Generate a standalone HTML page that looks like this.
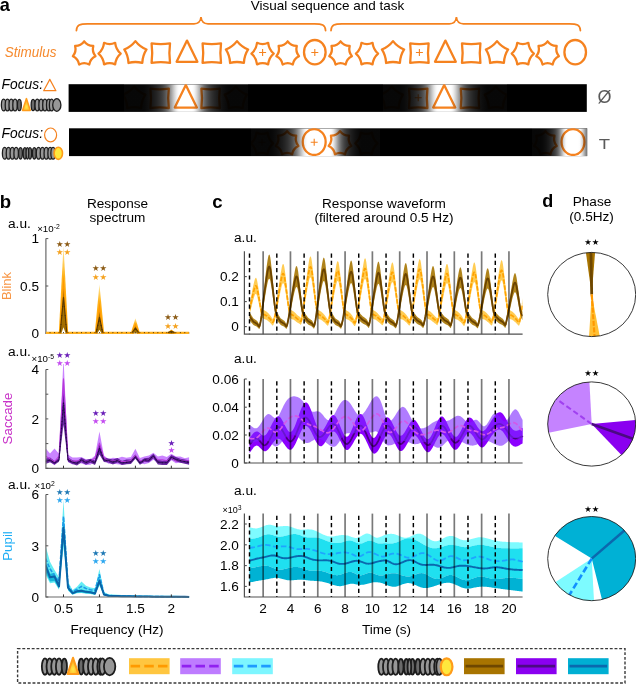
<!DOCTYPE html>
<html><head><meta charset="utf-8"><title>Figure</title>
<style>
html,body{margin:0;padding:0;background:#fff;}
body{width:636px;height:685px;overflow:hidden;font-family:"Liberation Sans",Arial,sans-serif;}
svg{display:block;}
svg text{font-family:"Liberation Sans",Arial,sans-serif;}
</style></head><body>
<svg width="636" height="685" viewBox="0 0 636 685">
<rect width="636" height="685" fill="#fff"/>
<g id="panel-a">
<text x="-0.3" y="10.9" font-size="18.2" fill="#000" font-weight="bold" >a</text>
<text x="327.5" y="10" font-size="13.5" fill="#000" text-anchor="middle" >Visual sequence and task</text>
<path d="M76.4 30.6 C76.7 25.0 79.9 23.8 87.4 23.8 L194 23.8 C198 23.8 200.5 22.3 201 17 C201.5 22.3 204 23.8 208 23.8 L314.6 23.8 C322.1 23.8 325.3 25.0 325.6 30.6" fill="none" stroke="#F5821F" stroke-width="1.7" stroke-linecap="round"/>
<path d="M331 30.6 C331.3 25.0 334.5 23.8 342 23.8 L449.4 23.8 C453.4 23.8 455.9 22.3 456.4 17 C456.9 22.3 459.4 23.8 463.4 23.8 L569.4 23.8 C576.9 23.8 580.1 25.0 580.4 30.6" fill="none" stroke="#F5821F" stroke-width="1.7" stroke-linecap="round"/>
<text x="4.8" y="56.7" font-size="14.6" fill="#F68A2E" font-style="italic" textLength="51.6" lengthAdjust="spacingAndGlyphs">Stimulus</text>
<path d="M84.2 41.32Q87.6 46.08 93.27 45.91Q91.84 51.67 95.51 56.21Q90.33 58.63 89.23 64.47Q84.2 61.73 79.17 64.47Q78.07 58.63 72.89 56.21Q76.56 51.67 75.13 45.91Q80.8 46.08 84.2 41.32Z" fill="none" stroke="#F5821F" stroke-width="2.3" stroke-linejoin="round"/>
<path d="M120.7 53.6Q115.93 57.69 115.15 64.37Q109.6 61.78 104.05 64.37Q103.27 57.69 98.5 53.6Q103.27 49.51 104.05 42.83Q109.6 45.42 115.15 42.83Q115.93 49.51 120.7 53.6Z" fill="none" stroke="#F5821F" stroke-width="2.3" stroke-linejoin="round"/>
<path d="M135.4 41.15Q139.85 46.89 146.53 49.48Q142.6 55.61 142.28 62.95Q135.4 61 128.52 62.95Q128.2 55.61 124.27 49.48Q130.95 46.89 135.4 41.15Z" fill="none" stroke="#F5821F" stroke-width="2.3" stroke-linejoin="round"/>
<path d="M170.02 62.79Q160.8 61.43 151.58 62.79Q152.87 53.1 151.58 43.41Q160.8 44.77 170.02 43.41Q168.73 53.1 170.02 62.79Z" fill="none" stroke="#F5821F" stroke-width="2.3" stroke-linejoin="round"/>
<path d="M187 40.6 L197.4 61.8 L176.6 61.8 Z" fill="none" stroke="#F5821F" stroke-width="2.3" stroke-linejoin="round"/>
<path d="M221.02 62.79Q211.8 61.43 202.58 62.79Q203.87 53.1 202.58 43.41Q211.8 44.77 221.02 43.41Q219.73 53.1 221.02 62.79Z" fill="none" stroke="#F5821F" stroke-width="2.3" stroke-linejoin="round"/>
<path d="M237 41.15Q241.45 46.89 248.13 49.48Q244.2 55.61 243.88 62.95Q237 61 230.12 62.95Q229.8 55.61 225.87 49.48Q232.55 46.89 237 41.15Z" fill="none" stroke="#F5821F" stroke-width="2.3" stroke-linejoin="round"/>
<path d="M273.7 53.6Q268.93 57.69 268.15 64.37Q262.6 61.78 257.05 64.37Q256.27 57.69 251.5 53.6Q256.27 49.51 257.05 42.83Q262.6 45.42 268.15 42.83Q268.93 49.51 273.7 53.6Z" fill="none" stroke="#F5821F" stroke-width="2.3" stroke-linejoin="round"/><path d="M259.1 52.5h7M262.6 49v7" stroke="#F5821F" stroke-width="1.1" fill="none"/>
<path d="M287.7 41.32Q291.1 46.08 296.77 45.91Q295.34 51.67 299.01 56.21Q293.83 58.63 292.73 64.47Q287.7 61.73 282.67 64.47Q281.57 58.63 276.39 56.21Q280.06 51.67 278.63 45.91Q284.3 46.08 287.7 41.32Z" fill="none" stroke="#F5821F" stroke-width="2.3" stroke-linejoin="round"/>
<ellipse cx="314.8" cy="52.2" rx="10.8" ry="12.2" fill="none" stroke="#F5821F" stroke-width="2.3"/><path d="M311.3 52.5h7M314.8 49v7" stroke="#F5821F" stroke-width="1.1" fill="none"/>
<path d="M340.6 41.32Q344 46.08 349.67 45.91Q348.24 51.67 351.91 56.21Q346.73 58.63 345.63 64.47Q340.6 61.73 335.57 64.47Q334.47 58.63 329.29 56.21Q332.96 51.67 331.53 45.91Q337.2 46.08 340.6 41.32Z" fill="none" stroke="#F5821F" stroke-width="2.3" stroke-linejoin="round"/>
<path d="M378.1 53.6Q373.33 57.69 372.55 64.37Q367 61.78 361.45 64.37Q360.67 57.69 355.9 53.6Q360.67 49.51 361.45 42.83Q367 45.42 372.55 42.83Q373.33 49.51 378.1 53.6Z" fill="none" stroke="#F5821F" stroke-width="2.3" stroke-linejoin="round"/>
<path d="M393 41.15Q397.45 46.89 404.13 49.48Q400.2 55.61 399.88 62.95Q393 61 386.12 62.95Q385.8 55.61 381.87 49.48Q388.55 46.89 393 41.15Z" fill="none" stroke="#F5821F" stroke-width="2.3" stroke-linejoin="round"/>
<path d="M428.62 62.79Q419.4 61.43 410.18 62.79Q411.47 53.1 410.18 43.41Q419.4 44.77 428.62 43.41Q427.33 53.1 428.62 62.79Z" fill="none" stroke="#F5821F" stroke-width="2.3" stroke-linejoin="round"/><path d="M415.9 52.5h7M419.4 49v7" stroke="#F5821F" stroke-width="1.1" fill="none"/>
<path d="M445.4 40.6 L455.8 61.8 L435 61.8 Z" fill="none" stroke="#F5821F" stroke-width="2.3" stroke-linejoin="round"/>
<path d="M480.42 62.79Q471.2 61.43 461.98 62.79Q463.27 53.1 461.98 43.41Q471.2 44.77 480.42 43.41Q479.13 53.1 480.42 62.79Z" fill="none" stroke="#F5821F" stroke-width="2.3" stroke-linejoin="round"/>
<path d="M497 41.15Q501.45 46.89 508.13 49.48Q504.2 55.61 503.88 62.95Q497 61 490.12 62.95Q489.8 55.61 485.87 49.48Q492.55 46.89 497 41.15Z" fill="none" stroke="#F5821F" stroke-width="2.3" stroke-linejoin="round"/>
<path d="M533.9 53.6Q529.13 57.69 528.35 64.37Q522.8 61.78 517.25 64.37Q516.47 57.69 511.7 53.6Q516.47 49.51 517.25 42.83Q522.8 45.42 528.35 42.83Q529.13 49.51 533.9 53.6Z" fill="none" stroke="#F5821F" stroke-width="2.3" stroke-linejoin="round"/>
<path d="M547.6 41.32Q551 46.08 556.67 45.91Q555.24 51.67 558.91 56.21Q553.73 58.63 552.63 64.47Q547.6 61.73 542.57 64.47Q541.47 58.63 536.29 56.21Q539.96 51.67 538.53 45.91Q544.2 46.08 547.6 41.32Z" fill="none" stroke="#F5821F" stroke-width="2.3" stroke-linejoin="round"/>
<ellipse cx="575.2" cy="52.2" rx="10.8" ry="12.2" fill="none" stroke="#F5821F" stroke-width="2.3"/>
<defs>
<linearGradient id="g1" gradientUnits="userSpaceOnUse" x1="124" y1="0" x2="248" y2="0"><stop offset="0.0000" stop-color="#000" stop-opacity="0.972"/><stop offset="0.0161" stop-color="#000" stop-opacity="0.972"/><stop offset="0.0323" stop-color="#000" stop-opacity="0.972"/><stop offset="0.0484" stop-color="#000" stop-opacity="0.972"/><stop offset="0.0645" stop-color="#000" stop-opacity="0.972"/><stop offset="0.0806" stop-color="#000" stop-opacity="0.972"/><stop offset="0.0968" stop-color="#000" stop-opacity="0.972"/><stop offset="0.1129" stop-color="#000" stop-opacity="0.972"/><stop offset="0.1290" stop-color="#000" stop-opacity="0.972"/><stop offset="0.1452" stop-color="#000" stop-opacity="0.972"/><stop offset="0.1613" stop-color="#000" stop-opacity="0.967"/><stop offset="0.1774" stop-color="#000" stop-opacity="0.957"/><stop offset="0.1935" stop-color="#000" stop-opacity="0.944"/><stop offset="0.2097" stop-color="#000" stop-opacity="0.929"/><stop offset="0.2258" stop-color="#000" stop-opacity="0.911"/><stop offset="0.2419" stop-color="#000" stop-opacity="0.89"/><stop offset="0.2581" stop-color="#000" stop-opacity="0.866"/><stop offset="0.2742" stop-color="#000" stop-opacity="0.837"/><stop offset="0.2903" stop-color="#000" stop-opacity="0.803"/><stop offset="0.3065" stop-color="#000" stop-opacity="0.761"/><stop offset="0.3226" stop-color="#000" stop-opacity="0.707"/><stop offset="0.3387" stop-color="#000" stop-opacity="0.638"/><stop offset="0.3548" stop-color="#000" stop-opacity="0.55"/><stop offset="0.3710" stop-color="#000" stop-opacity="0.443"/><stop offset="0.3871" stop-color="#000" stop-opacity="0.322"/><stop offset="0.4032" stop-color="#000" stop-opacity="0.2"/><stop offset="0.4194" stop-color="#000" stop-opacity="0.093"/><stop offset="0.4355" stop-color="#000" stop-opacity="0.022"/><stop offset="0.4516" stop-color="#000" stop-opacity="0.0"/><stop offset="0.4677" stop-color="#000" stop-opacity="0.0"/><stop offset="0.4839" stop-color="#000" stop-opacity="0.0"/><stop offset="0.5000" stop-color="#000" stop-opacity="0.0"/><stop offset="0.5161" stop-color="#000" stop-opacity="0.0"/><stop offset="0.5323" stop-color="#000" stop-opacity="0.0"/><stop offset="0.5484" stop-color="#000" stop-opacity="0.0"/><stop offset="0.5645" stop-color="#000" stop-opacity="0.033"/><stop offset="0.5806" stop-color="#000" stop-opacity="0.112"/><stop offset="0.5968" stop-color="#000" stop-opacity="0.224"/><stop offset="0.6129" stop-color="#000" stop-opacity="0.347"/><stop offset="0.6290" stop-color="#000" stop-opacity="0.466"/><stop offset="0.6452" stop-color="#000" stop-opacity="0.57"/><stop offset="0.6613" stop-color="#000" stop-opacity="0.654"/><stop offset="0.6774" stop-color="#000" stop-opacity="0.719"/><stop offset="0.6935" stop-color="#000" stop-opacity="0.77"/><stop offset="0.7097" stop-color="#000" stop-opacity="0.81"/><stop offset="0.7258" stop-color="#000" stop-opacity="0.843"/><stop offset="0.7419" stop-color="#000" stop-opacity="0.871"/><stop offset="0.7581" stop-color="#000" stop-opacity="0.895"/><stop offset="0.7742" stop-color="#000" stop-opacity="0.915"/><stop offset="0.7903" stop-color="#000" stop-opacity="0.933"/><stop offset="0.8065" stop-color="#000" stop-opacity="0.947"/><stop offset="0.8226" stop-color="#000" stop-opacity="0.959"/><stop offset="0.8387" stop-color="#000" stop-opacity="0.969"/><stop offset="0.8548" stop-color="#000" stop-opacity="0.972"/><stop offset="0.8710" stop-color="#000" stop-opacity="0.972"/><stop offset="0.8871" stop-color="#000" stop-opacity="0.972"/><stop offset="0.9032" stop-color="#000" stop-opacity="0.972"/><stop offset="0.9194" stop-color="#000" stop-opacity="0.972"/><stop offset="0.9355" stop-color="#000" stop-opacity="0.972"/><stop offset="0.9516" stop-color="#000" stop-opacity="0.972"/><stop offset="0.9677" stop-color="#000" stop-opacity="0.972"/><stop offset="0.9839" stop-color="#000" stop-opacity="0.972"/><stop offset="1.0000" stop-color="#000" stop-opacity="0.972"/><stop offset="1.0000" stop-color="#000" stop-opacity="0.972"/></linearGradient>
<linearGradient id="g2" gradientUnits="userSpaceOnUse" x1="383" y1="0" x2="507" y2="0"><stop offset="0.0000" stop-color="#000" stop-opacity="0.972"/><stop offset="0.0161" stop-color="#000" stop-opacity="0.972"/><stop offset="0.0323" stop-color="#000" stop-opacity="0.972"/><stop offset="0.0484" stop-color="#000" stop-opacity="0.972"/><stop offset="0.0645" stop-color="#000" stop-opacity="0.972"/><stop offset="0.0806" stop-color="#000" stop-opacity="0.972"/><stop offset="0.0968" stop-color="#000" stop-opacity="0.972"/><stop offset="0.1129" stop-color="#000" stop-opacity="0.972"/><stop offset="0.1290" stop-color="#000" stop-opacity="0.972"/><stop offset="0.1452" stop-color="#000" stop-opacity="0.972"/><stop offset="0.1613" stop-color="#000" stop-opacity="0.964"/><stop offset="0.1774" stop-color="#000" stop-opacity="0.954"/><stop offset="0.1935" stop-color="#000" stop-opacity="0.94"/><stop offset="0.2097" stop-color="#000" stop-opacity="0.924"/><stop offset="0.2258" stop-color="#000" stop-opacity="0.905"/><stop offset="0.2419" stop-color="#000" stop-opacity="0.883"/><stop offset="0.2581" stop-color="#000" stop-opacity="0.858"/><stop offset="0.2742" stop-color="#000" stop-opacity="0.828"/><stop offset="0.2903" stop-color="#000" stop-opacity="0.791"/><stop offset="0.3065" stop-color="#000" stop-opacity="0.746"/><stop offset="0.3226" stop-color="#000" stop-opacity="0.688"/><stop offset="0.3387" stop-color="#000" stop-opacity="0.614"/><stop offset="0.3548" stop-color="#000" stop-opacity="0.52"/><stop offset="0.3710" stop-color="#000" stop-opacity="0.408"/><stop offset="0.3871" stop-color="#000" stop-opacity="0.285"/><stop offset="0.4032" stop-color="#000" stop-opacity="0.165"/><stop offset="0.4194" stop-color="#000" stop-opacity="0.067"/><stop offset="0.4355" stop-color="#000" stop-opacity="0.01"/><stop offset="0.4516" stop-color="#000" stop-opacity="0.0"/><stop offset="0.4677" stop-color="#000" stop-opacity="0.0"/><stop offset="0.4839" stop-color="#000" stop-opacity="0.0"/><stop offset="0.5000" stop-color="#000" stop-opacity="0.0"/><stop offset="0.5161" stop-color="#000" stop-opacity="0.0"/><stop offset="0.5323" stop-color="#000" stop-opacity="0.0"/><stop offset="0.5484" stop-color="#000" stop-opacity="0.004"/><stop offset="0.5645" stop-color="#000" stop-opacity="0.052"/><stop offset="0.5806" stop-color="#000" stop-opacity="0.143"/><stop offset="0.5968" stop-color="#000" stop-opacity="0.26"/><stop offset="0.6129" stop-color="#000" stop-opacity="0.384"/><stop offset="0.6290" stop-color="#000" stop-opacity="0.499"/><stop offset="0.6452" stop-color="#000" stop-opacity="0.597"/><stop offset="0.6613" stop-color="#000" stop-opacity="0.675"/><stop offset="0.6774" stop-color="#000" stop-opacity="0.736"/><stop offset="0.6935" stop-color="#000" stop-opacity="0.783"/><stop offset="0.7097" stop-color="#000" stop-opacity="0.821"/><stop offset="0.7258" stop-color="#000" stop-opacity="0.852"/><stop offset="0.7419" stop-color="#000" stop-opacity="0.879"/><stop offset="0.7581" stop-color="#000" stop-opacity="0.901"/><stop offset="0.7742" stop-color="#000" stop-opacity="0.921"/><stop offset="0.7903" stop-color="#000" stop-opacity="0.937"/><stop offset="0.8065" stop-color="#000" stop-opacity="0.951"/><stop offset="0.8226" stop-color="#000" stop-opacity="0.962"/><stop offset="0.8387" stop-color="#000" stop-opacity="0.972"/><stop offset="0.8548" stop-color="#000" stop-opacity="0.972"/><stop offset="0.8710" stop-color="#000" stop-opacity="0.972"/><stop offset="0.8871" stop-color="#000" stop-opacity="0.972"/><stop offset="0.9032" stop-color="#000" stop-opacity="0.972"/><stop offset="0.9194" stop-color="#000" stop-opacity="0.972"/><stop offset="0.9355" stop-color="#000" stop-opacity="0.972"/><stop offset="0.9516" stop-color="#000" stop-opacity="0.972"/><stop offset="0.9677" stop-color="#000" stop-opacity="0.972"/><stop offset="0.9839" stop-color="#000" stop-opacity="0.972"/><stop offset="1.0000" stop-color="#000" stop-opacity="0.972"/><stop offset="1.0000" stop-color="#000" stop-opacity="0.972"/></linearGradient>
<linearGradient id="g3" gradientUnits="userSpaceOnUse" x1="251" y1="0" x2="380" y2="0"><stop offset="0.0000" stop-color="#000" stop-opacity="0.972"/><stop offset="0.0155" stop-color="#000" stop-opacity="0.972"/><stop offset="0.0310" stop-color="#000" stop-opacity="0.972"/><stop offset="0.0465" stop-color="#000" stop-opacity="0.972"/><stop offset="0.0620" stop-color="#000" stop-opacity="0.972"/><stop offset="0.0775" stop-color="#000" stop-opacity="0.972"/><stop offset="0.0930" stop-color="#000" stop-opacity="0.972"/><stop offset="0.1085" stop-color="#000" stop-opacity="0.972"/><stop offset="0.1240" stop-color="#000" stop-opacity="0.972"/><stop offset="0.1395" stop-color="#000" stop-opacity="0.972"/><stop offset="0.1550" stop-color="#000" stop-opacity="0.972"/><stop offset="0.1705" stop-color="#000" stop-opacity="0.962"/><stop offset="0.1860" stop-color="#000" stop-opacity="0.951"/><stop offset="0.2016" stop-color="#000" stop-opacity="0.937"/><stop offset="0.2171" stop-color="#000" stop-opacity="0.921"/><stop offset="0.2326" stop-color="#000" stop-opacity="0.901"/><stop offset="0.2481" stop-color="#000" stop-opacity="0.879"/><stop offset="0.2636" stop-color="#000" stop-opacity="0.852"/><stop offset="0.2791" stop-color="#000" stop-opacity="0.821"/><stop offset="0.2946" stop-color="#000" stop-opacity="0.783"/><stop offset="0.3101" stop-color="#000" stop-opacity="0.736"/><stop offset="0.3256" stop-color="#000" stop-opacity="0.675"/><stop offset="0.3411" stop-color="#000" stop-opacity="0.597"/><stop offset="0.3566" stop-color="#000" stop-opacity="0.499"/><stop offset="0.3721" stop-color="#000" stop-opacity="0.384"/><stop offset="0.3876" stop-color="#000" stop-opacity="0.26"/><stop offset="0.4031" stop-color="#000" stop-opacity="0.143"/><stop offset="0.4186" stop-color="#000" stop-opacity="0.052"/><stop offset="0.4341" stop-color="#000" stop-opacity="0.004"/><stop offset="0.4496" stop-color="#000" stop-opacity="0.0"/><stop offset="0.4651" stop-color="#000" stop-opacity="0.0"/><stop offset="0.4806" stop-color="#000" stop-opacity="0.0"/><stop offset="0.4961" stop-color="#000" stop-opacity="0.0"/><stop offset="0.5116" stop-color="#000" stop-opacity="0.0"/><stop offset="0.5271" stop-color="#000" stop-opacity="0.0"/><stop offset="0.5426" stop-color="#000" stop-opacity="0.0"/><stop offset="0.5581" stop-color="#000" stop-opacity="0.0"/><stop offset="0.5736" stop-color="#000" stop-opacity="0.0"/><stop offset="0.5891" stop-color="#000" stop-opacity="0.0"/><stop offset="0.6047" stop-color="#000" stop-opacity="0.0"/><stop offset="0.6202" stop-color="#000" stop-opacity="0.005"/><stop offset="0.6357" stop-color="#000" stop-opacity="0.069"/><stop offset="0.6512" stop-color="#000" stop-opacity="0.19"/><stop offset="0.6667" stop-color="#000" stop-opacity="0.337"/><stop offset="0.6822" stop-color="#000" stop-opacity="0.479"/><stop offset="0.6977" stop-color="#000" stop-opacity="0.599"/><stop offset="0.7132" stop-color="#000" stop-opacity="0.69"/><stop offset="0.7287" stop-color="#000" stop-opacity="0.757"/><stop offset="0.7442" stop-color="#000" stop-opacity="0.807"/><stop offset="0.7597" stop-color="#000" stop-opacity="0.847"/><stop offset="0.7752" stop-color="#000" stop-opacity="0.879"/><stop offset="0.7907" stop-color="#000" stop-opacity="0.906"/><stop offset="0.8062" stop-color="#000" stop-opacity="0.928"/><stop offset="0.8217" stop-color="#000" stop-opacity="0.946"/><stop offset="0.8372" stop-color="#000" stop-opacity="0.961"/><stop offset="0.8527" stop-color="#000" stop-opacity="0.972"/><stop offset="0.8682" stop-color="#000" stop-opacity="0.972"/><stop offset="0.8837" stop-color="#000" stop-opacity="0.972"/><stop offset="0.8992" stop-color="#000" stop-opacity="0.972"/><stop offset="0.9147" stop-color="#000" stop-opacity="0.972"/><stop offset="0.9302" stop-color="#000" stop-opacity="0.972"/><stop offset="0.9457" stop-color="#000" stop-opacity="0.972"/><stop offset="0.9612" stop-color="#000" stop-opacity="0.972"/><stop offset="0.9767" stop-color="#000" stop-opacity="0.972"/><stop offset="0.9922" stop-color="#000" stop-opacity="0.972"/><stop offset="1.0000" stop-color="#000" stop-opacity="0.972"/></linearGradient>
<linearGradient id="g4" gradientUnits="userSpaceOnUse" x1="532" y1="0" x2="587" y2="0"><stop offset="0.0000" stop-color="#000" stop-opacity="0.972"/><stop offset="0.0364" stop-color="#000" stop-opacity="0.972"/><stop offset="0.0727" stop-color="#000" stop-opacity="0.972"/><stop offset="0.1091" stop-color="#000" stop-opacity="0.972"/><stop offset="0.1455" stop-color="#000" stop-opacity="0.972"/><stop offset="0.1818" stop-color="#000" stop-opacity="0.969"/><stop offset="0.2182" stop-color="#000" stop-opacity="0.954"/><stop offset="0.2545" stop-color="#000" stop-opacity="0.935"/><stop offset="0.2909" stop-color="#000" stop-opacity="0.909"/><stop offset="0.3273" stop-color="#000" stop-opacity="0.877"/><stop offset="0.3636" stop-color="#000" stop-opacity="0.836"/><stop offset="0.4000" stop-color="#000" stop-opacity="0.784"/><stop offset="0.4364" stop-color="#000" stop-opacity="0.712"/><stop offset="0.4727" stop-color="#000" stop-opacity="0.608"/><stop offset="0.5091" stop-color="#000" stop-opacity="0.463"/><stop offset="0.5455" stop-color="#000" stop-opacity="0.288"/><stop offset="0.5818" stop-color="#000" stop-opacity="0.12"/><stop offset="0.6182" stop-color="#000" stop-opacity="0.014"/><stop offset="0.6545" stop-color="#000" stop-opacity="0.0"/><stop offset="0.6909" stop-color="#000" stop-opacity="0.0"/><stop offset="0.7273" stop-color="#000" stop-opacity="0.0"/><stop offset="0.7636" stop-color="#000" stop-opacity="0.0"/><stop offset="0.8000" stop-color="#000" stop-opacity="0.0"/><stop offset="0.8364" stop-color="#000" stop-opacity="0.0"/><stop offset="0.8727" stop-color="#000" stop-opacity="0.014"/><stop offset="0.9091" stop-color="#000" stop-opacity="0.12"/><stop offset="0.9455" stop-color="#000" stop-opacity="0.288"/><stop offset="0.9818" stop-color="#000" stop-opacity="0.463"/><stop offset="1.0000" stop-color="#000" stop-opacity="0.463"/></linearGradient>
<clipPath id="bar1"><rect x="68.6" y="84.2" width="518.2" height="27.7"/></clipPath>
<clipPath id="bar2"><rect x="69" y="128.3" width="517.8" height="27.8"/></clipPath>
<radialGradient id="ygrad" cx="0.5" cy="0.7" r="0.6"><stop offset="0" stop-color="#FFE94A"/><stop offset="1" stop-color="#FFA319"/></radialGradient>
</defs>
<defs>
<clipPath id="cg1"><rect x="124" y="80" width="124" height="80"/></clipPath>
<clipPath id="cg2"><rect x="383" y="80" width="124" height="80"/></clipPath>
<clipPath id="cg3"><rect x="251" y="80" width="129" height="80"/></clipPath>
<clipPath id="cg4"><rect x="532" y="80" width="55" height="80"/></clipPath>
</defs>
<rect x="68.6" y="84.2" width="518.2" height="27.7" fill="#000"/>
<g clip-path="url(#bar1)">
<rect x="124" y="84.2" width="124" height="27.7" fill="#fff"/>
<g clip-path="url(#cg1)"><path d="M134.2 86.35Q138.65 92.09 145.33 94.68Q141.4 100.81 141.08 108.15Q134.2 106.2 127.32 108.15Q127 100.81 123.07 94.68Q129.75 92.09 134.2 86.35Z" fill="none" stroke="#F5821F" stroke-width="2.3" stroke-linejoin="round"/></g>
<g clip-path="url(#cg1)"><path d="M168.82 107.99Q159.6 106.63 150.38 107.99Q151.67 98.3 150.38 88.61Q159.6 89.97 168.82 88.61Q167.53 98.3 168.82 107.99Z" fill="none" stroke="#F5821F" stroke-width="2.3" stroke-linejoin="round"/></g>
<g clip-path="url(#cg1)"><path d="M185.8 85.1 L196.82 107.58 L174.78 107.58 Z" fill="none" stroke="#F5821F" stroke-width="2.3" stroke-linejoin="round"/></g>
<g clip-path="url(#cg1)"><path d="M219.82 107.99Q210.6 106.63 201.38 107.99Q202.67 98.3 201.38 88.61Q210.6 89.97 219.82 88.61Q218.53 98.3 219.82 107.99Z" fill="none" stroke="#F5821F" stroke-width="2.3" stroke-linejoin="round"/></g>
<g clip-path="url(#cg1)"><path d="M235.8 86.35Q240.25 92.09 246.93 94.68Q243 100.81 242.68 108.15Q235.8 106.2 228.92 108.15Q228.6 100.81 224.67 94.68Q231.35 92.09 235.8 86.35Z" fill="none" stroke="#F5821F" stroke-width="2.3" stroke-linejoin="round"/></g>
<rect x="124" y="84.2" width="124" height="27.7" fill="url(#g1)"/>
<rect x="383" y="84.2" width="124" height="27.7" fill="#fff"/>
<g clip-path="url(#cg2)"><path d="M391.8 86.35Q396.25 92.09 402.93 94.68Q399 100.81 398.68 108.15Q391.8 106.2 384.92 108.15Q384.6 100.81 380.67 94.68Q387.35 92.09 391.8 86.35Z" fill="none" stroke="#F5821F" stroke-width="2.3" stroke-linejoin="round"/></g>
<g clip-path="url(#cg2)"><path d="M427.42 107.99Q418.2 106.63 408.98 107.99Q410.27 98.3 408.98 88.61Q418.2 89.97 427.42 88.61Q426.13 98.3 427.42 107.99Z" fill="none" stroke="#F5821F" stroke-width="2.3" stroke-linejoin="round"/><path d="M414.7 97.7h7M418.2 94.2v7" stroke="#F5821F" stroke-width="1.1" fill="none"/></g>
<g clip-path="url(#cg2)"><path d="M444.2 85.1 L455.22 107.58 L433.18 107.58 Z" fill="none" stroke="#F5821F" stroke-width="2.3" stroke-linejoin="round"/></g>
<g clip-path="url(#cg2)"><path d="M479.22 107.99Q470 106.63 460.78 107.99Q462.07 98.3 460.78 88.61Q470 89.97 479.22 88.61Q477.93 98.3 479.22 107.99Z" fill="none" stroke="#F5821F" stroke-width="2.3" stroke-linejoin="round"/></g>
<g clip-path="url(#cg2)"><path d="M495.8 86.35Q500.25 92.09 506.93 94.68Q503 100.81 502.68 108.15Q495.8 106.2 488.92 108.15Q488.6 100.81 484.67 94.68Q491.35 92.09 495.8 86.35Z" fill="none" stroke="#F5821F" stroke-width="2.3" stroke-linejoin="round"/></g>
<rect x="383" y="84.2" width="124" height="27.7" fill="url(#g2)"/>
</g>
<rect x="69" y="128.3" width="518.2" height="27.8" fill="#000"/>
<g clip-path="url(#bar2)">
<rect x="251" y="128.3" width="129" height="27.8" fill="#fff"/>
<g clip-path="url(#cg3)"><path d="M273.1 143.4Q268.33 147.49 267.55 154.17Q262 151.58 256.45 154.17Q255.67 147.49 250.9 143.4Q255.67 139.31 256.45 132.63Q262 135.22 267.55 132.63Q268.33 139.31 273.1 143.4Z" fill="none" stroke="#F5821F" stroke-width="2.3" stroke-linejoin="round"/><path d="M258.5 142.3h7M262 138.8v7" stroke="#F5821F" stroke-width="1.1" fill="none"/></g>
<g clip-path="url(#cg3)"><path d="M287.1 131.12Q290.5 135.88 296.17 135.71Q294.74 141.47 298.41 146.01Q293.23 148.43 292.13 154.27Q287.1 151.53 282.07 154.27Q280.97 148.43 275.79 146.01Q279.46 141.47 278.03 135.71Q283.7 135.88 287.1 131.12Z" fill="none" stroke="#F5821F" stroke-width="2.3" stroke-linejoin="round"/></g>
<g clip-path="url(#cg3)"><ellipse cx="314.2" cy="142" rx="11.45" ry="12.93" fill="none" stroke="#F5821F" stroke-width="2.3"/><path d="M310.7 142.3h7M314.2 138.8v7" stroke="#F5821F" stroke-width="1.1" fill="none"/></g>
<g clip-path="url(#cg3)"><path d="M340 131.12Q343.4 135.88 349.07 135.71Q347.64 141.47 351.31 146.01Q346.13 148.43 345.03 154.27Q340 151.53 334.97 154.27Q333.87 148.43 328.69 146.01Q332.36 141.47 330.93 135.71Q336.6 135.88 340 131.12Z" fill="none" stroke="#F5821F" stroke-width="2.3" stroke-linejoin="round"/></g>
<g clip-path="url(#cg3)"><path d="M377.5 143.4Q372.73 147.49 371.95 154.17Q366.4 151.58 360.85 154.17Q360.07 147.49 355.3 143.4Q360.07 139.31 360.85 132.63Q366.4 135.22 371.95 132.63Q372.73 139.31 377.5 143.4Z" fill="none" stroke="#F5821F" stroke-width="2.3" stroke-linejoin="round"/></g>
<rect x="251" y="128.3" width="129" height="27.8" fill="url(#g3)"/>
<rect x="532" y="128.3" width="55" height="27.8" fill="#fff"/>
<g clip-path="url(#cg4)"><path d="M531.7 143.4Q526.93 147.49 526.15 154.17Q520.6 151.58 515.05 154.17Q514.27 147.49 509.5 143.4Q514.27 139.31 515.05 132.63Q520.6 135.22 526.15 132.63Q526.93 139.31 531.7 143.4Z" fill="none" stroke="#F5821F" stroke-width="2.3" stroke-linejoin="round"/></g>
<g clip-path="url(#cg4)"><path d="M545.4 131.12Q548.8 135.88 554.47 135.71Q553.04 141.47 556.71 146.01Q551.53 148.43 550.43 154.27Q545.4 151.53 540.37 154.27Q539.27 148.43 534.09 146.01Q537.76 141.47 536.33 135.71Q542 135.88 545.4 131.12Z" fill="none" stroke="#F5821F" stroke-width="2.3" stroke-linejoin="round"/></g>
<g clip-path="url(#cg4)"><ellipse cx="573" cy="142" rx="11.45" ry="12.93" fill="none" stroke="#F5821F" stroke-width="2.3"/></g>
<rect x="532" y="128.3" width="55" height="27.8" fill="url(#g4)"/>
</g>
<text x="1.6" y="89.2" font-size="13.8" fill="#000" font-style="italic" >Focus:</text>
<path d="M49.8 79.4 L55.9 90.7 L43.7 90.7 Z" fill="none" stroke="#F5821F" stroke-width="1.2" stroke-linejoin="round"/>
<text x="1.6" y="138.4" font-size="13.8" fill="#000" font-style="italic" >Focus:</text>
<ellipse cx="50.6" cy="134.9" rx="6" ry="6.9" fill="none" stroke="#F5821F" stroke-width="1.2"/>
<g><ellipse cx="3.62" cy="105" rx="2.25" ry="5.9" fill="#979797" stroke="#1c1c1c" stroke-width="1.3"/><ellipse cx="7.43" cy="105" rx="2.25" ry="5.9" fill="#979797" stroke="#1c1c1c" stroke-width="1.3"/><ellipse cx="11.24" cy="105" rx="2.25" ry="5.9" fill="#979797" stroke="#1c1c1c" stroke-width="1.3"/><ellipse cx="15.05" cy="105" rx="2.25" ry="5.9" fill="#979797" stroke="#1c1c1c" stroke-width="1.3"/><ellipse cx="19.35" cy="105" rx="1.9" ry="5.7" fill="#6a6a6a" stroke="#1c1c1c" stroke-width="1.3"/><ellipse cx="33.08" cy="105" rx="1.9" ry="5.7" fill="#6a6a6a" stroke="#1c1c1c" stroke-width="1.3"/><ellipse cx="37.26" cy="105" rx="2.25" ry="5.9" fill="#979797" stroke="#1c1c1c" stroke-width="1.3"/><ellipse cx="41.13" cy="105" rx="2.25" ry="5.9" fill="#979797" stroke="#1c1c1c" stroke-width="1.3"/><ellipse cx="44.94" cy="105" rx="2.25" ry="5.9" fill="#979797" stroke="#1c1c1c" stroke-width="1.3"/><ellipse cx="48.75" cy="105" rx="2.25" ry="5.9" fill="#979797" stroke="#1c1c1c" stroke-width="1.3"/><ellipse cx="51.6" cy="105" rx="2.25" ry="5.9" fill="#979797" stroke="#1c1c1c" stroke-width="1.3"/><ellipse cx="56.8" cy="105" rx="4.1" ry="6.3" fill="#979797" stroke="#1c1c1c" stroke-width="1.3"/><path d="M26.43 98.6 L30.33 110.4 L22.53 110.4 Z" fill="url(#ygrad)" stroke="#FF9C1A" stroke-width="1.5" stroke-linejoin="round"/></g>
<g><ellipse cx="4.64" cy="153.3" rx="2.25" ry="5.9" fill="#979797" stroke="#1c1c1c" stroke-width="1.3"/><ellipse cx="8.48" cy="153.3" rx="2.25" ry="5.9" fill="#979797" stroke="#1c1c1c" stroke-width="1.3"/><ellipse cx="12.33" cy="153.3" rx="2.25" ry="5.9" fill="#979797" stroke="#1c1c1c" stroke-width="1.3"/><ellipse cx="16.17" cy="153.3" rx="2.25" ry="5.9" fill="#979797" stroke="#1c1c1c" stroke-width="1.3"/><ellipse cx="20.5" cy="153.3" rx="1.9" ry="5.7" fill="#6a6a6a" stroke="#1c1c1c" stroke-width="1.3"/><ellipse cx="24.89" cy="153.3" rx="1.7" ry="5.7" fill="#6a6a6a" stroke="#1c1c1c" stroke-width="1.3"/><ellipse cx="29.96" cy="153.3" rx="1.7" ry="5.7" fill="#6a6a6a" stroke="#1c1c1c" stroke-width="1.3"/><ellipse cx="27.39" cy="153.3" rx="1.3" ry="5.7" fill="#8a8a8a" stroke="#1c1c1c" stroke-width="1.3"/><ellipse cx="34.35" cy="153.3" rx="1.9" ry="5.7" fill="#6a6a6a" stroke="#1c1c1c" stroke-width="1.3"/><ellipse cx="38.56" cy="153.3" rx="2.25" ry="5.9" fill="#979797" stroke="#1c1c1c" stroke-width="1.3"/><ellipse cx="42.46" cy="153.3" rx="2.25" ry="5.9" fill="#979797" stroke="#1c1c1c" stroke-width="1.3"/><ellipse cx="46.3" cy="153.3" rx="2.25" ry="5.9" fill="#979797" stroke="#1c1c1c" stroke-width="1.3"/><ellipse cx="50.15" cy="153.3" rx="2.25" ry="5.9" fill="#979797" stroke="#1c1c1c" stroke-width="1.3"/><ellipse cx="53.1" cy="153.3" rx="2.25" ry="5.9" fill="#979797" stroke="#1c1c1c" stroke-width="1.3"/><ellipse cx="58.3" cy="153.3" rx="4.2" ry="6.1" fill="#FFE83D" stroke="#FF9C1A" stroke-width="1.6"/></g>
<text x="604.5" y="102.9" font-size="18" fill="#5a5a5a" text-anchor="middle" >&#216;</text>
<text transform="translate(604.5 149.2) scale(1.32 1)" font-size="14" text-anchor="middle" fill="#5a5a5a">T</text>
</g>
<g id="panel-b">
<text x="-0.3" y="208" font-size="18.6" fill="#000" font-weight="bold" >b</text>
<text x="117.5" y="208.3" font-size="13.6" fill="#000" text-anchor="middle" >Response</text>
<text x="117.5" y="222.3" font-size="13.6" fill="#000" text-anchor="middle" >spectrum</text>
<defs><linearGradient id="bl1" x1="0" y1="0" x2="0" y2="1"><stop offset="0" stop-color="#FFD24D" stop-opacity="0.55"/><stop offset="0.35" stop-color="#FFB21A"/><stop offset="1" stop-color="#FFA600"/></linearGradient><clipPath id="clipB1"><rect x="45.9" y="236" width="143.29999999999998" height="98.59999999999998"/></clipPath></defs>
<path d="M45.9 238.6 V333.4 H189.2" fill="none" stroke="#6a6a6a" stroke-width="1.2"/><path d="M45.9 238.6h2.4" stroke="#555" stroke-width="1"/><path d="M45.9 286h2.4" stroke="#555" stroke-width="1"/><path d="M45.9 333.4h2.4" stroke="#555" stroke-width="1"/><path d="M63.5 333.4v-2.6" stroke="#333" stroke-width="1"/><path d="M99.45 333.4v-2.6" stroke="#333" stroke-width="1"/><path d="M135.4 333.4v-2.6" stroke="#333" stroke-width="1"/><path d="M171.35 333.4v-2.6" stroke="#333" stroke-width="1"/><text x="39" y="243.4" font-size="13.6" fill="#000" text-anchor="end" >1</text><text x="39" y="290.8" font-size="13.6" fill="#000" text-anchor="end" >0.5</text><text x="39" y="338.2" font-size="13.6" fill="#000" text-anchor="end" >0</text>
<g clip-path="url(#clipB1)">
<path d="M45.9 332.8H189.2" stroke="#FFB01F" stroke-width="2.2" fill="none"/>
<path d="M58.8 333.4L63.5 245.61L68.2 333.4Z" fill="url(#bl1)" fill-opacity="1"/>
<path d="M59.5 333.4L63.5 274.87L67.5 333.4Z" fill="#FF9800" fill-opacity="0.95"/>
<path d="M60.6 333.4L63.5 289.03L66.4 333.4Z" fill="#9A6A00" fill-opacity="0.9"/>
<path d="M60.2 332.6L63.5 297.53L66.8 332.6" fill="none" stroke="#5E3C00" stroke-width="1.2" stroke-linejoin="round"/>
<path d="M61.3 333.4L63.5 327.17L65.7 333.4Z" fill="#fff" fill-opacity="1"/>
<path d="M94.75 333.4L99.45 284.31L104.15 333.4Z" fill="url(#bl1)" fill-opacity="1"/>
<path d="M95.45 333.4L99.45 301.3L103.45 333.4Z" fill="#FF9800" fill-opacity="0.95"/>
<path d="M96.55 333.4L99.45 311.69L102.35 333.4Z" fill="#9A6A00" fill-opacity="0.9"/>
<path d="M96.15 332.6L99.45 317.35L102.75 332.6" fill="none" stroke="#5E3C00" stroke-width="1.2" stroke-linejoin="round"/>
<path d="M97.25 333.4L99.45 329.77L101.65 333.4Z" fill="#fff" fill-opacity="1"/>
<path d="M130.7 333.4L135.4 318.3L140.1 333.4Z" fill="url(#bl1)" fill-opacity="1"/>
<path d="M131.4 333.4L135.4 323.49L139.4 333.4Z" fill="#FF9800" fill-opacity="0.95"/>
<path d="M132.5 333.4L135.4 326.32L138.3 333.4Z" fill="#9A6A00" fill-opacity="0.9"/>
<path d="M132.1 332.6L135.4 328.21L138.7 332.6" fill="none" stroke="#5E3C00" stroke-width="1.2" stroke-linejoin="round"/>
<path d="M133.2 333.4L135.4 332.15L137.6 333.4Z" fill="#fff" fill-opacity="1"/>
<path d="M166.65 333.4L171.35 329.15L176.05 333.4Z" fill="url(#bl1)" fill-opacity="1"/>
<path d="M167.35 333.4L171.35 330.1L175.35 333.4Z" fill="#FF9800" fill-opacity="0.95"/>
<path d="M168.45 333.4L171.35 330.57L174.25 333.4Z" fill="#9A6A00" fill-opacity="0.9"/>
<path d="M168.05 332.6L171.35 331.32L174.65 332.6" fill="none" stroke="#5E3C00" stroke-width="1.2" stroke-linejoin="round"/>
<path d="M45.52 332.6h0M50.02 332.6h0M54.51 332.6h0M59.01 332.6h0M63.5 332.6h0M67.99 332.6h0M72.49 332.6h0M76.98 332.6h0M81.47 332.6h0M85.97 332.6h0M90.46 332.6h0M94.96 332.6h0M99.45 332.6h0M103.94 332.6h0M108.44 332.6h0M112.93 332.6h0M117.43 332.6h0M121.92 332.6h0M126.41 332.6h0M130.91 332.6h0M135.4 332.6h0M139.89 332.6h0M144.39 332.6h0M148.88 332.6h0M153.38 332.6h0M157.87 332.6h0M162.36 332.6h0M166.86 332.6h0M171.35 332.6h0M175.84 332.6h0M180.34 332.6h0M184.83 332.6h0M189.33 332.6h0M61.02 324.43h0M65.97 324.43h0M61.85 315.46h0M65.15 315.46h0M62.67 306.5h0M64.33 306.5h0M96.98 329.39h0M101.92 329.39h0M97.8 325.38h0M101.1 325.38h0M98.62 321.36h0M100.28 321.36h0" stroke="#4a3000" stroke-width="1.1" stroke-linecap="round" fill="none"/>
</g>
<text x="8" y="227.8" font-size="13.7" fill="#000" >a.u.</text>
<text x="37.2" y="232.4" font-size="9.7" fill="#000">&#215;10<tspan dy="-3.2" font-size="6.8">-2</tspan></text>
<text transform="translate(10.8 286) rotate(-90)" font-size="13" text-anchor="middle" fill="#F79646">Blink</text>
<text x="63.5" y="247.2" font-size="8.4" text-anchor="middle" fill="#8B5A14" letter-spacing="0" style="font-family:'DejaVu Sans',sans-serif">&#9733;&#9733;</text>
<text x="63.5" y="254.8" font-size="8.4" text-anchor="middle" fill="#F5A21E" letter-spacing="0" style="font-family:'DejaVu Sans',sans-serif">&#9733;&#9733;</text>
<text x="99.5" y="271.2" font-size="8.4" text-anchor="middle" fill="#8B5A14" letter-spacing="0" style="font-family:'DejaVu Sans',sans-serif">&#9733;&#9733;</text>
<text x="99.5" y="279.6" font-size="8.4" text-anchor="middle" fill="#F5A21E" letter-spacing="0" style="font-family:'DejaVu Sans',sans-serif">&#9733;&#9733;</text>
<text x="171.8" y="320.4" font-size="8.4" text-anchor="middle" fill="#8B5A14" letter-spacing="0" style="font-family:'DejaVu Sans',sans-serif">&#9733;&#9733;</text>
<text x="171.8" y="328.6" font-size="8.4" text-anchor="middle" fill="#F5A21E" letter-spacing="0" style="font-family:'DejaVu Sans',sans-serif">&#9733;&#9733;</text>
<defs><clipPath id="clipB2"><rect x="45.9" y="364" width="143.29999999999998" height="104.70000000000002"/></clipPath></defs>
<g clip-path="url(#clipB2)">
<path d="M45.52 448.15L50.02 453.43L54.51 448.55L59.01 453.75L63.5 357.62L67.99 454.75L72.49 457.47L76.98 457.58L81.47 457.01L85.97 459.27L90.46 459.17L94.96 455.75L99.45 431.53L103.94 455.6L108.44 459.03L112.93 457.79L117.43 458.27L121.92 456.86L126.41 457.68L130.91 457.01L135.4 448.86L139.89 457.94L144.39 456.4L148.88 455.46L153.38 452.7L157.87 456.58L162.36 455.52L166.86 456.9L171.35 453.66L175.84 456.51L180.34 456.54L184.83 458.18L189.33 457.22L189.33 464.47L184.83 463.36L180.34 462.47L175.84 463.29L171.35 460.32L166.86 464.71L162.36 463.09L157.87 462.43L153.38 459.63L148.88 463.03L144.39 464.36L139.89 463.04L135.4 457.96L130.91 463.29L126.41 463.9L121.92 464.74L117.43 464.32L112.93 463.51L108.44 463.67L103.94 460.23L99.45 452.28L94.96 461.13L90.46 464.7L85.97 465.02L81.47 463.57L76.98 463.1L72.49 464.51L67.99 462.1L63.5 412.23L59.01 459.74L54.51 465.28L50.02 461.4L45.52 458.8Z" fill="#C77DFF" fill-opacity="0.95" stroke="none"/>
<path d="M45.52 458.8L50.02 461.4L54.51 465.28L59.01 459.74L63.5 378.69L67.99 462.1L72.49 464.51L76.98 463.1L81.47 463.57L85.97 465.02L90.46 464.7L94.96 461.13L99.45 443.09L103.94 460.23L108.44 463.67L112.93 463.51L117.43 464.32L121.92 464.74L126.41 463.9L130.91 463.29L135.4 457.96L139.89 463.04L144.39 464.36L148.88 463.03L153.38 459.63L157.87 462.43L162.36 463.09L166.86 464.71L171.35 460.32L175.84 463.29L180.34 462.47L184.83 463.36L189.33 464.47L189.33 464.47L184.83 463.36L180.34 462.47L175.84 463.29L171.35 460.32L166.86 464.71L162.36 463.09L157.87 462.43L153.38 459.63L148.88 463.03L144.39 464.36L139.89 463.04L135.4 457.96L130.91 463.29L126.41 463.9L121.92 464.74L117.43 464.32L112.93 463.51L108.44 463.67L103.94 460.23L99.45 452.28L94.96 461.13L90.46 464.7L85.97 465.02L81.47 463.57L76.98 463.1L72.49 464.51L67.99 462.1L63.5 412.23L59.01 459.74L54.51 465.28L50.02 461.4L45.52 458.8Z" fill="#A030F0" fill-opacity="0.9" stroke="none"/>
<path d="M45.52 458.78L50.02 457.5L54.51 461.07L59.01 458.1L63.5 392.7L67.99 457.28L72.49 460.14L76.98 461.33L81.47 457.82L85.97 460.12L90.46 458.67L94.96 460.39L99.45 444.11L103.94 457.58L108.44 458.6L112.93 459.42L117.43 458.08L121.92 460.95L126.41 459.62L130.91 459.42L135.4 454.4L139.89 461.19L144.39 458.13L148.88 457.79L153.38 453.79L157.87 459.82L162.36 460.86L166.86 459.9L171.35 454.94L175.84 457.01L180.34 458.87L184.83 459.38L189.33 460.61L189.33 464.72L184.83 463.68L180.34 462.84L175.84 461.33L171.35 459.28L166.86 465.01L162.36 465.05L157.87 464.58L153.38 458.22L148.88 462.14L144.39 462.1L139.89 464.72L135.4 458.69L130.91 464.05L126.41 464.26L121.92 464.97L117.43 462.44L112.93 464.62L108.44 462.55L103.94 461.96L99.45 454.38L94.96 465.04L90.46 462.84L85.97 464.69L81.47 462.2L76.98 465.5L72.49 464.09L67.99 461.65L63.5 424.68L59.01 461.85L54.51 464.69L50.02 462.26L45.52 463.94Z" fill="#5A1496" fill-opacity="0.9" stroke="none"/>
<path d="M45.52 456.24L50.02 458.84L54.51 461.81L59.01 456.16L63.5 378.69L67.99 458.4L72.49 461.35L76.98 460.72L81.47 460.5L85.97 461.19L90.46 461.12L94.96 458.07L99.45 443.09L103.94 457.63L108.44 461.14L112.93 461.16L117.43 460.55L121.92 461.41L126.41 461.43L130.91 460.35L135.4 455.65L139.89 460.45L144.39 460.87L148.88 459.68L153.38 456.58L157.87 459.74L162.36 459.74L166.86 460.83L171.35 457.34L175.84 460.95L180.34 460.14L184.83 461L189.33 460.59" fill="none" stroke="#B838D8" stroke-width="1.1" stroke-linejoin="round" />
<path d="M45.52 461.34L50.02 460.09L54.51 462.89L59.01 460.04L63.5 402.66L67.99 459.85L72.49 462.18L76.98 463.34L81.47 459.98L85.97 462.39L90.46 460.5L94.96 462.94L99.45 448.34L103.94 460.07L108.44 460.55L112.93 462.1L117.43 460.56L121.92 463.02L126.41 462.29L130.91 461.85L135.4 456.96L139.89 462.96L144.39 459.91L148.88 460.25L153.38 455.82L157.87 462.06L162.36 462.75L166.86 462.6L171.35 457.17L175.84 459.55L180.34 460.67L184.83 461.58L189.33 462.4" fill="none" stroke="#3A1068" stroke-width="1.2" stroke-linejoin="round" />
<path d="M45.52 461.34L50.02 460.09L54.51 462.89L59.01 460.04L63.5 402.66L67.99 459.85L72.49 462.18L76.98 463.34L81.47 459.98L85.97 462.39L90.46 460.5L94.96 462.94L99.45 448.34L103.94 460.07L108.44 460.55L112.93 462.1L117.43 460.56L121.92 463.02L126.41 462.29L130.91 461.85L135.4 456.96L139.89 462.96L144.39 459.91L148.88 460.25L153.38 455.82L157.87 462.06L162.36 462.75L166.86 462.6L171.35 457.17L175.84 459.55L180.34 460.67L184.83 461.58L189.33 462.4" fill="none" stroke="#1a0530" stroke-width="1.0" stroke-dasharray="0.1 3.5" stroke-linejoin="round" stroke-linecap="round"/>
</g>
<path d="M45.9 369.5 V468.3 H189.2" fill="none" stroke="#6a6a6a" stroke-width="1.2"/><path d="M45.9 369.5h2.4" stroke="#555" stroke-width="1"/><path d="M45.9 394.2h2.4" stroke="#555" stroke-width="1"/><path d="M45.9 418.9h2.4" stroke="#555" stroke-width="1"/><path d="M45.9 443.6h2.4" stroke="#555" stroke-width="1"/><path d="M45.9 468.3h2.4" stroke="#555" stroke-width="1"/><path d="M63.5 468.3v-2.6" stroke="#333" stroke-width="1"/><path d="M99.45 468.3v-2.6" stroke="#333" stroke-width="1"/><path d="M135.4 468.3v-2.6" stroke="#333" stroke-width="1"/><path d="M171.35 468.3v-2.6" stroke="#333" stroke-width="1"/><text x="39" y="374.3" font-size="13.6" fill="#000" text-anchor="end" >4</text><text x="39" y="399" font-size="13.6" fill="#000" text-anchor="end" ></text><text x="39" y="423.7" font-size="13.6" fill="#000" text-anchor="end" >2</text><text x="39" y="448.4" font-size="13.6" fill="#000" text-anchor="end" ></text><text x="39" y="473.1" font-size="13.6" fill="#000" text-anchor="end" >0</text>
<text x="8" y="355.8" font-size="13.7" fill="#000" >a.u.</text>
<text x="31.5" y="362" font-size="9.7" fill="#000">&#215;10<tspan dy="-3.2" font-size="6.8">-5</tspan></text>
<text transform="translate(12 418.5) rotate(-90)" font-size="13.3" text-anchor="middle" fill="#C832C8">Saccade</text>
<text x="63.5" y="358" font-size="8.4" text-anchor="middle" fill="#6A1FB8" letter-spacing="0" style="font-family:'DejaVu Sans',sans-serif">&#9733;&#9733;</text>
<text x="63.5" y="365.5" font-size="8.4" text-anchor="middle" fill="#C44CF0" letter-spacing="0" style="font-family:'DejaVu Sans',sans-serif">&#9733;&#9733;</text>
<text x="99.5" y="415.5" font-size="8.4" text-anchor="middle" fill="#6A1FB8" letter-spacing="0" style="font-family:'DejaVu Sans',sans-serif">&#9733;&#9733;</text>
<text x="99.5" y="423.6" font-size="8.4" text-anchor="middle" fill="#C44CF0" letter-spacing="0" style="font-family:'DejaVu Sans',sans-serif">&#9733;&#9733;</text>
<text x="171.5" y="445.8" font-size="8.4" text-anchor="middle" fill="#6A1FB8" letter-spacing="0" style="font-family:'DejaVu Sans',sans-serif">&#9733;</text>
<text x="171.5" y="453.4" font-size="8.4" text-anchor="middle" fill="#C44CF0" letter-spacing="0" style="font-family:'DejaVu Sans',sans-serif">&#9733;</text>
<defs><clipPath id="clipB3"><rect x="45.9" y="490" width="143.29999999999998" height="108.5"/></clipPath></defs>
<g clip-path="url(#clipB3)">
<path d="M45.52 545.79L50.02 561.72L54.51 570.07L59.01 577.37L63.5 499.8L67.99 581.54L72.49 589.89L76.98 586.76L81.47 581.5L85.97 585.71L90.46 587.38L94.96 588.22L99.45 569.02L103.94 592.02L108.44 594.35L112.93 594.56L117.43 594.75L121.92 594.91L126.41 595.06L130.91 595.18L135.4 595.3L139.89 595.4L144.39 595.48L148.88 595.56L153.38 595.63L157.87 595.69L162.36 595.74L166.86 595.79L171.35 595.83L175.84 595.87L180.34 595.9L184.83 595.93L189.33 595.96L189.33 597.25L184.83 597.24L180.34 597.23L175.84 597.21L171.35 597.19L166.86 597.18L162.36 597.15L157.87 597.13L153.38 597.1L148.88 597.07L144.39 597.03L139.89 596.99L135.4 596.94L130.91 596.89L126.41 596.83L121.92 596.76L117.43 596.68L112.93 596.59L108.44 596.49L103.94 595.52L99.45 585.65L94.96 594.88L90.46 593.89L85.97 593.65L81.47 592.91L76.98 593.28L72.49 594.63L67.99 590.57L63.5 547.48L59.01 589.71L54.51 582.57L50.02 583.18L45.52 574.56Z" fill="#5DEBF2" fill-opacity="0.95" stroke="none"/>
<path d="M45.52 560.11L50.02 573.87L54.51 572.89L59.01 584.29L63.5 516.84L67.99 585.67L72.49 592.16L76.98 590L81.47 589.41L85.97 590.59L90.46 590.98L94.96 592.55L99.45 577.81L103.94 593.58L108.44 595.13L112.93 595.29L117.43 595.43L121.92 595.56L126.41 595.67L130.91 595.76L135.4 595.85L139.89 595.92L144.39 595.99L148.88 596.05L153.38 596.1L157.87 596.14L162.36 596.18L166.86 596.22L171.35 596.25L175.84 596.28L180.34 596.3L184.83 596.33L189.33 596.34L189.33 597.24L184.83 597.23L180.34 597.21L175.84 597.2L171.35 597.18L166.86 597.16L162.36 597.13L157.87 597.1L153.38 597.07L148.88 597.04L144.39 597L139.89 596.95L135.4 596.9L130.91 596.84L126.41 596.77L121.92 596.69L117.43 596.61L112.93 596.51L108.44 596.4L103.94 595.32L99.45 584.35L94.96 594.61L90.46 593.51L85.97 593.24L81.47 592.42L76.98 592.83L72.49 594.33L67.99 589.82L63.5 541.94L59.01 588.86L54.51 580.93L50.02 581.61L45.52 572.03Z" fill="#12B4D6" fill-opacity="0.95" stroke="none"/>
<path d="M45.52 558.52L50.02 568.78L54.51 575.62L59.01 581.61L63.5 516.63L67.99 585.03L72.49 591.87L76.98 589.3L81.47 586.4L85.97 588.45L90.46 589.82L94.96 590.5L99.45 574.77L103.94 593.62L108.44 595.53L112.93 595.7L117.43 595.85L121.92 595.99L126.41 596.11L130.91 596.21L135.4 596.3L139.89 596.39L144.39 596.46L148.88 596.52L153.38 596.58L157.87 596.63L162.36 596.67L166.86 596.71L171.35 596.74L175.84 596.77L180.34 596.8L184.83 596.82L189.33 596.84" fill="none" stroke="#1E9BE8" stroke-width="1.6" stroke-dasharray="4 1.5" stroke-linejoin="round" />
<path d="M45.52 565.37L50.02 577.34L54.51 576.48L59.01 586.4L63.5 527.75L67.99 587.6L72.49 593.24L76.98 591.36L81.47 590.84L85.97 591.87L90.46 592.21L94.96 593.58L99.45 580.75L103.94 594.47L108.44 595.82L112.93 595.96L117.43 596.08L121.92 596.19L126.41 596.29L130.91 596.37L135.4 596.44L139.89 596.51L144.39 596.57L148.88 596.62L153.38 596.66L157.87 596.7L162.36 596.74L166.86 596.77L171.35 596.8L175.84 596.82L180.34 596.84L184.83 596.86L189.33 596.88" fill="none" stroke="#0A64A8" stroke-width="2.0" stroke-linejoin="round" />
</g>
<path d="M45.9 494.5 V597.0 H189.2" fill="none" stroke="#6a6a6a" stroke-width="1.2"/><path d="M45.9 494.5h2.4" stroke="#555" stroke-width="1"/><path d="M45.9 545.8h2.4" stroke="#555" stroke-width="1"/><path d="M45.9 597h2.4" stroke="#555" stroke-width="1"/><path d="M63.5 597.0v-2.6" stroke="#333" stroke-width="1"/><path d="M99.45 597.0v-2.6" stroke="#333" stroke-width="1"/><path d="M135.4 597.0v-2.6" stroke="#333" stroke-width="1"/><path d="M171.35 597.0v-2.6" stroke="#333" stroke-width="1"/><text x="39" y="499.3" font-size="13.6" fill="#000" text-anchor="end" >6</text><text x="39" y="550.6" font-size="13.6" fill="#000" text-anchor="end" >3</text><text x="39" y="601.8" font-size="13.6" fill="#000" text-anchor="end" >0</text>
<text x="8" y="488.5" font-size="13.7" fill="#000" >a.u.</text>
<text x="34.5" y="489" font-size="9.7" fill="#000">&#215;10<tspan dy="-3.2" font-size="6.8">2</tspan></text>
<text transform="translate(11.5 546) rotate(-90)" font-size="13.3" text-anchor="middle" fill="#1EAEF5">Pupil</text>
<text x="63.5" y="495.4" font-size="8.4" text-anchor="middle" fill="#1E78B4" letter-spacing="0" style="font-family:'DejaVu Sans',sans-serif">&#9733;&#9733;</text>
<text x="63.5" y="503.2" font-size="8.4" text-anchor="middle" fill="#2EA8F0" letter-spacing="0" style="font-family:'DejaVu Sans',sans-serif">&#9733;&#9733;</text>
<text x="99.5" y="555.7" font-size="8.4" text-anchor="middle" fill="#1E78B4" letter-spacing="0" style="font-family:'DejaVu Sans',sans-serif">&#9733;&#9733;</text>
<text x="99.5" y="563.8" font-size="8.4" text-anchor="middle" fill="#2EA8F0" letter-spacing="0" style="font-family:'DejaVu Sans',sans-serif">&#9733;&#9733;</text>
<text x="63.5" y="613.2" font-size="13.6" fill="#000" text-anchor="middle" >0.5</text>
<text x="99.45" y="613.2" font-size="13.6" fill="#000" text-anchor="middle" >1</text>
<text x="135.4" y="613.2" font-size="13.6" fill="#000" text-anchor="middle" >1.5</text>
<text x="171.35" y="613.2" font-size="13.6" fill="#000" text-anchor="middle" >2</text>
<text x="117" y="634" font-size="13.5" fill="#000" text-anchor="middle" >Frequency (Hz)</text>
</g>
<g id="panel-c">
<text x="212.2" y="207.8" font-size="18.6" fill="#000" font-weight="bold" >c</text>
<text x="384" y="208.3" font-size="13.6" fill="#000" text-anchor="middle" >Response waveform</text>
<text x="384" y="222.3" font-size="13.6" fill="#000" text-anchor="middle" >(filtered around 0.5 Hz)</text>
<defs><clipPath id="clipC1"><rect x="249.5" y="248" width="273.1" height="86"/></clipPath></defs>
<g clip-path="url(#clipC1)">
<path d="M249.5 305.04L250.05 302.34L250.59 299.47L251.14 296.6L251.68 293.73L252.23 290.86L252.78 288.04L253.32 285.42L253.87 283.01L254.42 280.69L254.96 278.92L255.51 277.9L256.05 277.86L256.6 278.75L257.15 280.75L257.69 283.69L258.24 286.99L258.79 290.38L259.33 293.92L259.88 297.56L260.42 301.2L260.97 304.83L261.52 307.57L262.06 308.89L262.61 309.31L263.16 309.69L263.7 310.02L264.25 310.31L264.79 310.6L265.34 310.9L265.89 311.19L266.43 311.49L266.98 311.9L267.52 312.44L268.07 313.02L268.62 313.61L269.16 314.2L269.71 314.79L270.26 315.45L270.8 316.25L271.35 317.12L271.89 317.99L272.44 318.74L272.99 318.84L273.53 317.61L274.08 315.58L274.63 313.79L275.17 311.17L275.72 307.55L276.26 303.55L276.81 299.63L277.36 295.82L277.9 292.08L278.45 288.34L278.99 284.6L279.54 280.87L280.09 277.18L280.63 273.77L281.18 270.63L281.73 267.61L282.27 265.31L282.82 263.98L283.36 263.92L283.91 265.09L284.46 267.69L285 271.52L285.55 275.82L286.1 280.24L286.64 284.86L287.19 289.59L287.73 294.33L288.28 299.07L288.83 303.04L289.37 305.78L289.92 307.75L290.47 309.26L291.01 310.02L291.56 310.31L292.1 310.6L292.65 310.9L293.2 311.19L293.74 311.49L294.29 311.9L294.83 312.44L295.38 313.02L295.93 313.61L296.47 314.2L297.02 314.79L297.57 315.3L298.11 315.71L298.66 316.04L299.2 316.38L299.75 316.8L300.3 317.62L300.84 317.83L301.39 316.57L301.94 314.2L302.48 310.88L303.03 306.38L303.57 301.44L304.12 296.71L304.67 292.3L305.21 288.09L305.76 283.88L306.3 279.68L306.85 275.47L307.4 271.32L307.94 267.48L308.49 263.95L309.04 260.54L309.58 257.96L310.13 256.46L310.67 256.4L311.22 257.71L311.77 260.63L312.31 264.95L312.86 269.79L313.41 274.76L313.95 279.96L314.5 285.29L315.04 290.62L315.59 295.96L316.14 300.59L316.68 304.1L317.23 306.91L317.78 309.03L318.32 310.02L318.87 310.31L319.41 310.6L319.96 310.9L320.51 311.19L321.05 311.49L321.6 311.9L322.14 312.44L322.69 313.02L323.24 313.61L323.78 314.2L324.33 314.79L324.88 315.43L325.42 316.16L325.97 316.94L326.51 317.72L327.06 318.42L327.61 319.16L328.15 318.93L328.7 317.16L329.25 314.48L329.79 311.18L330.34 307.12L330.88 302.77L331.43 298.55L331.98 294.51L332.52 290.6L333.07 286.69L333.61 282.78L334.16 278.87L334.71 275.01L335.25 271.44L335.8 268.16L336.35 264.99L336.89 262.59L337.44 261.2L337.98 261.14L338.53 262.35L339.08 265.08L339.62 269.09L340.17 273.59L340.72 278.21L341.26 283.04L341.81 288L342.35 292.96L342.9 297.92L343.45 302.13L343.99 305.16L344.54 307.44L345.09 309.17L345.63 310.02L346.18 310.31L346.72 310.6L347.27 310.9L347.82 311.19L348.36 311.49L348.91 311.9L349.45 312.44L350 313.02L350.55 313.61L351.09 314.2L351.64 314.79L352.19 315.5L352.73 316.43L353.28 317.48L353.82 318.53L354.37 319.39L354.92 319.59L355.46 318.37L356.01 316.18L356.56 314.03L357.1 310.94L357.65 306.68L358.19 301.99L358.74 297.46L359.29 293.21L359.83 289.12L360.38 285.04L360.92 280.95L361.47 276.87L362.02 272.84L362.56 269.11L363.11 265.68L363.66 262.38L364.2 259.86L364.75 258.41L365.29 258.35L365.84 259.62L366.39 262.46L366.93 266.65L367.48 271.35L368.03 276.18L368.57 281.23L369.12 286.41L369.66 291.59L370.21 296.76L370.76 301.22L371.3 304.54L371.85 307.13L372.4 309.09L372.94 310.02L373.49 310.31L374.03 310.6L374.58 310.9L375.13 311.19L375.67 311.49L376.22 311.9L376.76 312.44L377.31 313.02L377.86 313.61L378.4 314.2L378.95 314.79L379.5 315.38L380.04 315.98L380.59 316.58L381.13 317.18L381.68 317.77L382.23 318.48L382.77 318.34L383.32 316.77L383.87 314.31L384.41 311.21L384.96 307.33L385.5 303.16L386.05 299.09L386.6 295.17L387.14 291.34L387.69 287.52L388.23 283.69L388.78 279.87L389.33 276.1L389.87 272.61L390.42 269.4L390.97 266.3L391.51 263.95L392.06 262.59L392.6 262.53L393.15 263.72L393.7 266.38L394.24 270.31L394.79 274.7L395.34 279.23L395.88 283.95L396.43 288.8L396.97 293.65L397.52 298.49L398.07 302.59L398.61 305.47L399.16 307.6L399.71 309.22L400.25 310.02L400.8 310.31L401.34 310.6L401.89 310.9L402.44 311.19L402.98 311.49L403.53 311.9L404.07 312.44L404.62 313.02L405.17 313.61L405.71 314.2L406.26 314.79L406.81 315.45L407.35 316.25L407.9 317.12L408.44 317.99L408.99 318.74L409.54 318.99L410.08 317.97L410.63 315.98L411.18 313.95L411.72 310.96L412.27 306.81L412.81 302.22L413.36 297.79L413.91 293.6L414.45 289.57L415 285.53L415.54 281.5L416.09 277.47L416.64 273.49L417.18 269.81L417.73 266.43L418.28 263.16L418.82 260.68L419.37 259.25L419.91 259.18L420.46 260.44L421.01 263.25L421.55 267.38L422.1 272.02L422.65 276.79L423.19 281.77L423.74 286.89L424.28 292L424.83 297.11L425.38 301.5L425.92 304.72L426.47 307.22L427.02 309.11L427.56 310.02L428.11 310.31L428.65 310.6L429.2 310.9L429.75 311.19L430.29 311.49L430.84 311.9L431.38 312.44L431.93 313.02L432.48 313.61L433.02 314.2L433.57 314.79L434.12 315.35L434.66 315.89L435.21 316.4L435.75 316.91L436.3 317.45L436.85 318.29L437.39 318.41L437.94 316.97L438.49 314.4L439.03 311.3L439.58 307.55L440.12 303.55L440.67 299.63L441.22 295.82L441.76 292.08L442.31 288.34L442.85 284.6L443.4 280.87L443.95 277.18L444.49 273.77L445.04 270.63L445.59 267.61L446.13 265.31L446.68 263.98L447.22 263.92L447.77 265.09L448.32 267.69L448.86 271.52L449.41 275.82L449.96 280.24L450.5 284.86L451.05 289.59L451.59 294.33L452.14 299.07L452.69 303.04L453.23 305.78L453.78 307.75L454.33 309.26L454.87 310.02L455.42 310.31L455.96 310.6L456.51 310.9L457.06 311.19L457.6 311.49L458.15 311.9L458.69 312.44L459.24 313.02L459.79 313.61L460.33 314.2L460.88 314.79L461.43 315.48L461.97 316.34L462.52 317.3L463.06 318.26L463.61 319.07L464.16 319.39L464.7 318.44L465.25 316.37L465.8 314.13L466.34 311.18L466.89 307.33L467.43 303.16L467.98 299.09L468.53 295.17L469.07 291.34L469.62 287.52L470.16 283.69L470.71 279.87L471.26 276.1L471.8 272.61L472.35 269.4L472.9 266.3L473.44 263.95L473.99 262.59L474.53 262.53L475.08 263.72L475.63 266.38L476.17 270.31L476.72 274.7L477.27 279.23L477.81 283.95L478.36 288.8L478.9 293.65L479.45 298.49L480 302.59L480.54 305.47L481.09 307.6L481.64 309.22L482.18 310.02L482.73 310.31L483.27 310.6L483.82 310.9L484.37 311.19L484.91 311.49L485.46 311.9L486 312.44L486.55 313.02L487.1 313.61L487.64 314.2L488.19 314.79L488.74 315.4L489.28 316.07L489.83 316.76L490.37 317.45L490.92 318.09L491.47 318.71L492.01 318.37L492.56 316.67L493.11 314.26L493.65 311.09L494.2 306.99L494.74 302.54L495.29 298.22L495.84 294.12L496.38 290.16L496.93 286.19L497.47 282.23L498.02 278.27L498.57 274.36L499.11 270.74L499.66 267.42L500.21 264.21L500.75 261.77L501.3 260.36L501.84 260.3L502.39 261.53L502.94 264.29L503.48 268.36L504.03 272.92L504.58 277.6L505.12 282.5L505.67 287.52L506.21 292.55L506.76 297.57L507.31 301.86L507.85 304.97L508.4 307.35L508.95 309.15L509.49 310.02L510.04 310.31L510.58 310.6L511.13 310.9L511.68 311.19L512.22 311.49L512.77 311.9L513.31 312.44L513.86 313.02L514.41 313.61L514.95 314.2L515.5 314.79L516.05 315.44L516.59 316.2L517.14 317.03L517.68 317.85L518.23 318.58L518.78 319.11L519.32 318.54L519.87 316.67L520.42 314.26L520.96 311.09L521.51 306.99L522.05 302.54L522.6 298.22L522.6 309.62L522.05 312.94L521.51 316.37L520.96 319.52L520.42 321.96L519.87 323.82L519.32 325.26L518.78 325.7L518.23 325.29L517.68 324.73L517.14 324.1L516.59 323.46L516.05 322.88L515.5 322.37L514.95 321.92L514.41 321.47L513.86 321.02L513.31 320.56L512.77 320.15L512.22 319.83L511.68 319.6L511.13 319.38L510.58 319.15L510.04 318.93L509.49 318.7L508.95 318.03L508.4 316.65L507.85 314.82L507.31 312.42L506.76 309.12L506.21 305.25L505.67 301.38L505.12 297.51L504.58 293.74L504.03 290.14L503.48 286.63L502.94 283.5L502.39 281.37L501.84 280.42L501.3 280.47L500.75 281.55L500.21 283.43L499.66 285.9L499.11 288.46L498.57 291.25L498.02 294.26L497.47 297.31L496.93 300.36L496.38 303.41L495.84 306.46L495.29 309.62L494.74 312.94L494.2 316.37L493.65 319.52L493.11 321.96L492.56 323.82L492.01 325.13L491.47 325.39L490.92 324.92L490.37 324.42L489.83 323.89L489.28 323.36L488.74 322.85L488.19 322.37L487.64 321.92L487.1 321.47L486.55 321.02L486 320.56L485.46 320.15L484.91 319.83L484.37 319.6L483.82 319.38L483.27 319.15L482.73 318.93L482.18 318.7L481.64 318.08L481.09 316.84L480.54 315.2L480 312.98L479.45 309.83L478.9 306.09L478.36 302.36L477.81 298.63L477.27 294.99L476.72 291.51L476.17 288.13L475.63 285.1L475.08 283.06L474.53 282.14L473.99 282.18L473.44 283.23L472.9 285.04L472.35 287.43L471.8 289.9L471.26 292.59L470.71 295.49L470.16 298.43L469.62 301.38L469.07 304.32L468.53 307.27L467.98 310.28L467.43 313.42L466.89 316.63L466.34 319.59L465.8 321.87L465.25 323.59L464.7 325.18L464.16 325.92L463.61 325.67L463.06 325.04L462.52 324.31L461.97 323.57L461.43 322.91L460.88 322.37L460.33 321.92L459.79 321.47L459.24 321.02L458.69 320.56L458.15 320.15L457.6 319.83L457.06 319.6L456.51 319.38L455.96 319.15L455.42 318.93L454.87 318.7L454.33 318.12L453.78 316.96L453.23 315.44L452.69 313.33L452.14 310.27L451.59 306.62L451.05 302.98L450.5 299.33L449.96 295.77L449.41 292.37L448.86 289.06L448.32 286.11L447.77 284.11L447.22 283.21L446.68 283.26L446.13 284.28L445.59 286.05L445.04 288.38L444.49 290.79L443.95 293.42L443.4 296.26L442.85 299.13L442.31 302.01L441.76 304.89L441.22 307.77L440.67 310.7L440.12 313.72L439.58 316.8L439.03 319.69L438.49 322.08L437.94 324.05L437.39 325.16L436.85 325.07L436.3 324.42L435.75 324.01L435.21 323.61L434.66 323.22L434.12 322.81L433.57 322.37L433.02 321.92L432.48 321.47L431.93 321.02L431.38 320.56L430.84 320.15L430.29 319.83L429.75 319.6L429.2 319.38L428.65 319.15L428.11 318.93L427.56 318.7L427.02 318L426.47 316.55L425.92 314.62L425.38 312.14L424.83 308.76L424.28 304.83L423.74 300.89L423.19 296.95L422.65 293.12L422.1 289.45L421.55 285.88L421.01 282.69L420.46 280.53L419.91 279.56L419.37 279.61L418.82 280.72L418.28 282.62L417.73 285.14L417.18 287.75L416.64 290.58L416.09 293.64L415.54 296.75L415 299.85L414.45 302.96L413.91 306.06L413.36 309.28L412.81 312.7L412.27 316.23L411.72 319.43L411.18 321.72L410.63 323.29L410.08 324.82L409.54 325.61L408.99 325.42L408.44 324.84L407.9 324.17L407.35 323.5L406.81 322.89L406.26 322.37L405.71 321.92L405.17 321.47L404.62 321.02L404.07 320.56L403.53 320.15L402.98 319.83L402.44 319.6L401.89 319.38L401.34 319.15L400.8 318.93L400.25 318.7L399.71 318.08L399.16 316.84L398.61 315.2L398.07 312.98L397.52 309.83L396.97 306.09L396.43 302.36L395.88 298.63L395.34 294.99L394.79 291.51L394.24 288.13L393.7 285.1L393.15 283.06L392.6 282.14L392.06 282.18L391.51 283.23L390.97 285.04L390.42 287.43L389.87 289.9L389.33 292.59L388.78 295.49L388.23 298.43L387.69 301.38L387.14 304.32L386.6 307.27L386.05 310.28L385.5 313.42L384.96 316.63L384.41 319.62L383.87 322L383.32 323.9L382.77 325.11L382.23 325.22L381.68 324.67L381.13 324.22L380.59 323.75L380.04 323.29L379.5 322.83L378.95 322.37L378.4 321.92L377.86 321.47L377.31 321.02L376.76 320.56L376.22 320.15L375.67 319.83L375.13 319.6L374.58 319.38L374.03 319.15L373.49 318.93L372.94 318.7L372.4 317.98L371.85 316.48L371.3 314.48L370.76 311.93L370.21 308.5L369.66 304.51L369.12 300.52L368.57 296.54L368.03 292.65L367.48 288.93L366.93 285.31L366.39 282.09L365.84 279.9L365.29 278.92L364.75 278.97L364.2 280.09L363.66 282.02L363.11 284.57L362.56 287.21L362.02 290.08L361.47 293.18L360.92 296.32L360.38 299.47L359.83 302.61L359.29 305.76L358.74 309.04L358.19 312.52L357.65 316.13L357.1 319.41L356.56 321.79L356.01 323.44L355.46 325.13L354.92 326.07L354.37 325.92L353.82 325.25L353.28 324.45L352.73 323.64L352.19 322.92L351.64 322.37L351.09 321.92L350.55 321.47L350 321.02L349.45 320.56L348.91 320.15L348.36 319.83L347.82 319.6L347.27 319.38L346.72 319.15L346.18 318.93L345.63 318.7L345.09 318.05L344.54 316.72L343.99 314.96L343.45 312.63L342.9 309.38L342.35 305.57L341.81 301.75L341.26 297.93L340.72 294.21L340.17 290.65L339.62 287.19L339.08 284.1L338.53 282L337.98 281.07L337.44 281.11L336.89 282.18L336.35 284.03L335.8 286.47L335.25 289L334.71 291.75L334.16 294.72L333.61 297.73L333.07 300.74L332.52 303.75L331.98 306.76L331.43 309.87L330.88 313.12L330.34 316.47L329.79 319.59L329.25 322.14L328.7 324.2L328.15 325.56L327.61 325.74L327.06 325.17L326.51 324.63L325.97 324.03L325.42 323.43L324.88 322.87L324.33 322.37L323.78 321.92L323.24 321.47L322.69 321.02L322.14 320.56L321.6 320.15L321.05 319.83L320.51 319.6L319.96 319.38L319.41 319.15L318.87 318.93L318.32 318.7L317.78 317.94L317.23 316.31L316.68 314.15L316.14 311.44L315.59 307.87L315.04 303.77L314.5 299.66L313.95 295.56L313.41 291.56L312.86 287.73L312.31 284L311.77 280.68L311.22 278.43L310.67 277.42L310.13 277.47L309.58 278.62L309.04 280.61L308.49 283.23L307.94 285.95L307.4 288.91L306.85 292.1L306.3 295.34L305.76 298.58L305.21 301.82L304.67 305.06L304.12 308.45L303.57 312.1L303.03 315.9L302.48 319.36L301.94 321.92L301.39 323.75L300.84 324.71L300.3 324.55L299.75 323.92L299.2 323.6L298.66 323.34L298.11 323.08L297.57 322.77L297.02 322.37L296.47 321.92L295.93 321.47L295.38 321.02L294.83 320.56L294.29 320.15L293.74 319.83L293.2 319.6L292.65 319.38L292.1 319.15L291.56 318.93L291.01 318.7L290.47 318.12L289.92 316.96L289.37 315.44L288.83 313.33L288.28 310.27L287.73 306.62L287.19 302.98L286.64 299.33L286.1 295.77L285.55 292.37L285 289.06L284.46 286.11L283.91 284.11L283.36 283.21L282.82 283.26L282.27 284.28L281.73 286.05L281.18 288.38L280.63 290.79L280.09 293.42L279.54 296.26L278.99 299.13L278.45 302.01L277.9 304.89L277.36 307.77L276.81 310.7L276.26 313.72L275.72 316.8L275.17 319.59L274.63 321.6L274.08 322.98L273.53 324.55L272.99 325.49L272.44 325.42L271.89 324.84L271.35 324.17L270.8 323.5L270.26 322.89L269.71 322.37L269.16 321.92L268.62 321.47L268.07 321.02L267.52 320.56L266.98 320.15L266.43 319.83L265.89 319.6L265.34 319.38L264.79 319.15L264.25 318.93L263.7 318.7L263.16 318.45L262.61 318.15L262.06 317.83L261.52 316.82L260.97 314.71L260.42 311.91L259.88 309.11L259.33 306.31L258.79 303.58L258.24 300.97L257.69 298.43L257.15 296.17L256.6 294.63L256.05 293.94L255.51 293.98L254.96 294.76L254.42 296.12L253.87 297.91L253.32 299.76L252.78 301.78L252.23 303.95L251.68 306.16L251.14 308.37L250.59 310.58L250.05 312.79L249.5 314.86Z" fill="#FFC640" fill-opacity="0.9" stroke="none"/>
<path d="M249.5 311.87L250.05 312.96L250.59 313.85L251.14 314.74L251.68 315.63L252.23 316.52L252.78 317.41L253.32 318.16L253.87 318.69L254.42 319.07L254.96 319.46L255.51 319.85L256.05 320.23L256.6 320.62L257.15 321.06L257.69 321.75L258.24 322.71L258.79 323.71L259.33 324.02L259.88 322.46L260.42 319.39L260.97 315.85L261.52 311.38L262.06 306.16L262.61 300.93L263.16 295.94L263.7 291.2L264.25 286.5L264.79 281.81L265.34 277.11L265.89 272.42L266.43 268.03L266.98 264.15L267.52 260.57L268.07 257.38L268.62 255.24L269.16 254.44L269.71 255.03L270.26 257.25L270.8 260.98L271.35 265.88L271.89 270.92L272.44 276.23L272.99 281.82L273.53 287.46L274.08 293.09L274.63 298.54L275.17 303.04L275.72 306.59L276.26 309.74L276.81 311.87L277.36 312.96L277.9 313.85L278.45 314.74L278.99 315.63L279.54 316.52L280.09 317.41L280.63 318.16L281.18 318.69L281.73 319.07L282.27 319.46L282.82 319.85L283.36 320.23L283.91 320.62L284.46 321.06L285 321.75L285.55 322.71L286.1 323.71L286.64 323.75L287.19 322.02L287.73 319.1L288.28 315.97L288.83 312.39L289.37 308.45L289.92 304.48L290.47 300.54L291.01 296.61L291.56 292.69L292.1 288.77L292.65 284.85L293.2 280.93L293.74 277.26L294.29 274.02L294.83 271.03L295.38 268.36L295.93 266.57L296.47 265.9L297.02 266.4L297.57 268.25L298.11 271.37L298.66 275.46L299.2 279.68L299.75 284.11L300.3 288.78L300.84 293.49L301.39 298.2L301.94 302.69L302.48 306.11L303.03 308.45L303.57 310.46L304.12 311.92L304.67 312.82L305.21 313.62L305.76 314.42L306.3 315.21L306.85 316.01L307.4 316.81L307.94 317.49L308.49 317.99L309.04 318.38L309.58 318.76L310.13 319.15L310.67 319.54L311.22 319.92L311.77 320.36L312.31 321.06L312.86 322.01L313.41 323.02L313.95 323.63L314.5 322.38L315.04 319.39L315.59 315.91L316.14 311.66L316.68 306.79L317.23 301.91L317.78 297.2L318.32 292.69L318.87 288.2L319.41 283.72L319.96 279.24L320.51 274.76L321.05 270.57L321.6 266.86L322.14 263.44L322.69 260.4L323.24 258.35L323.78 257.59L324.33 258.16L324.88 260.28L325.42 263.84L325.97 268.52L326.51 273.33L327.06 278.4L327.61 283.73L328.15 289.11L328.7 294.5L329.25 299.68L329.79 303.88L330.34 307.1L330.88 309.94L331.43 311.9L331.98 312.96L332.52 313.85L333.07 314.74L333.61 315.63L334.16 316.52L334.71 317.41L335.25 318.16L335.8 318.69L336.35 319.07L336.89 319.46L337.44 319.85L337.98 320.23L338.53 320.62L339.08 321.06L339.62 321.75L340.17 322.71L340.72 323.71L341.26 323.21L341.81 321.15L342.35 318.52L342.9 315.67L343.45 311.9L343.99 307.36L344.54 302.79L345.09 298.35L345.63 294.04L346.18 289.75L346.72 285.46L347.27 281.17L347.82 276.88L348.36 272.88L348.91 269.33L349.45 266.06L350 263.15L350.55 261.19L351.09 260.46L351.64 261L352.19 263.03L352.73 266.44L353.28 270.91L353.82 275.52L354.37 280.37L354.92 285.47L355.46 290.62L356.01 295.77L356.56 300.72L357.1 304.65L357.65 307.56L358.19 310.1L358.74 311.76L359.29 312.55L359.83 313.16L360.38 313.77L360.92 314.38L361.47 314.99L362.02 315.6L362.56 316.15L363.11 316.6L363.66 316.99L364.2 317.37L364.75 317.76L365.29 318.15L365.84 318.53L366.39 318.97L366.93 319.67L367.48 320.62L368.03 321.63L368.57 322.59L369.12 321.79L369.66 319.1L370.21 315.89L370.76 312.01L371.3 307.59L371.85 303.15L372.4 298.81L372.94 294.58L373.49 290.37L374.03 286.16L374.58 281.95L375.13 277.74L375.67 273.8L376.22 270.31L376.76 267.1L377.31 264.25L377.86 262.32L378.4 261.6L378.95 262.14L379.5 264.13L380.04 267.48L380.59 271.87L381.13 276.39L381.68 281.16L382.23 286.17L382.77 291.23L383.32 296.28L383.87 301.13L384.41 304.96L384.96 307.75L385.5 310.19L386.05 311.88L386.6 312.82L387.14 313.62L387.69 314.42L388.23 315.21L388.78 316.01L389.33 316.81L389.87 317.49L390.42 317.99L390.97 318.38L391.51 318.76L392.06 319.15L392.6 319.54L393.15 319.92L393.7 320.36L394.24 321.06L394.79 322.01L395.34 323.02L395.88 323.09L396.43 321.51L396.97 318.81L397.52 315.82L398.07 312.13L398.61 307.88L399.16 303.59L399.71 299.39L400.25 295.26L400.8 291.14L401.34 287.03L401.89 282.91L402.44 278.8L402.98 274.96L403.53 271.55L404.07 268.41L404.62 265.62L405.17 263.74L405.71 263.04L406.26 263.56L406.81 265.5L407.35 268.78L407.9 273.07L408.44 277.49L408.99 282.14L409.54 287.04L410.08 291.98L410.63 296.92L411.18 301.65L411.72 305.34L412.27 307.98L412.81 310.27L413.36 311.84L413.91 312.69L414.45 313.39L415 314.09L415.54 314.8L416.09 315.5L416.64 316.2L417.18 316.82L417.73 317.29L418.28 317.68L418.82 318.07L419.37 318.45L419.91 318.84L420.46 319.23L421.01 319.67L421.55 320.36L422.1 321.32L422.65 322.32L423.19 322.57L423.74 321.21L424.28 318.66L424.83 315.83L425.38 312.38L425.92 308.45L426.47 304.48L427.02 300.54L427.56 296.61L428.11 292.69L428.65 288.77L429.2 284.85L429.75 280.93L430.29 277.26L430.84 274.02L431.38 271.03L431.93 268.36L432.48 266.57L433.02 265.9L433.57 266.4L434.12 268.25L434.66 271.37L435.21 275.46L435.75 279.68L436.3 284.11L436.85 288.78L437.39 293.49L437.94 298.2L438.49 302.69L439.03 306.11L439.58 308.45L440.12 310.45L440.67 311.84L441.22 312.62L441.76 313.27L442.31 313.93L442.85 314.59L443.4 315.25L443.95 315.9L444.49 316.48L445.04 316.95L445.59 317.33L446.13 317.72L446.68 318.11L447.22 318.49L447.77 318.88L448.32 319.32L448.86 320.01L449.41 320.97L449.96 321.97L450.5 322.78L451.05 321.83L451.59 319.1L452.14 316L452.69 312.52L453.23 308.74L453.78 304.93L454.33 301.11L454.87 297.29L455.42 293.46L455.96 289.64L456.51 285.81L457.06 281.99L457.6 278.42L458.15 275.25L458.69 272.33L459.24 269.74L459.79 267.99L460.33 267.34L460.88 267.82L461.43 269.63L461.97 272.67L462.52 276.66L463.06 280.77L463.61 285.1L464.16 289.65L464.7 294.24L465.25 298.84L465.8 303.21L466.34 306.49L466.89 308.68L467.43 310.55L467.98 311.93L468.53 312.82L469.07 313.62L469.62 314.42L470.16 315.21L470.71 316.01L471.26 316.81L471.8 317.49L472.35 317.99L472.9 318.38L473.44 318.76L473.99 319.15L474.53 319.54L475.08 319.92L475.63 320.36L476.17 321.06L476.72 322.01L477.27 323.02L477.81 322.82L478.36 321.07L478.9 318.52L479.45 315.82L480 312.58L480.54 308.91L481.09 305.2L481.64 301.46L482.18 297.7L482.73 293.93L483.27 290.16L483.82 286.39L484.37 282.63L484.91 279.11L485.46 275.99L486 273.12L486.55 270.56L487.1 268.84L487.64 268.2L488.19 268.68L488.74 270.46L489.28 273.45L489.83 277.38L490.37 281.43L490.92 285.69L491.47 290.17L492.01 294.69L492.56 299.22L493.11 303.52L493.65 306.72L494.2 308.82L494.74 310.59L495.29 311.83L495.84 312.55L496.38 313.16L496.93 313.77L497.47 314.38L498.02 314.99L498.57 315.6L499.11 316.15L499.66 316.6L500.21 316.99L500.75 317.37L501.3 317.76L501.84 318.15L502.39 318.53L502.94 318.97L503.48 319.67L504.03 320.62L504.58 321.63L505.12 322.45L505.67 321.57L506.21 318.95L506.76 316.06L507.31 313.03L507.85 309.88L508.4 306.71L508.95 303.41L509.49 300L510.04 296.56L510.58 293.12L511.13 289.68L511.68 286.24L512.22 283.03L512.77 280.18L513.31 277.56L513.86 275.23L514.41 273.66L514.95 273.07L515.5 273.51L516.05 275.13L516.59 277.87L517.14 281.45L517.68 285.15L518.23 289.04L518.78 293.13L519.32 297.26L519.87 301.39L520.42 305.29L520.96 308.02L521.51 309.61L522.05 310.91L522.6 311.96L522.6 320.31L522.05 319.55L521.51 318.6L520.96 317.46L520.42 315.48L519.87 312.65L519.32 309.66L518.78 306.67L518.23 303.71L517.68 300.89L517.14 298.22L516.59 295.62L516.05 293.64L515.5 292.47L514.95 292.15L514.41 292.57L513.86 293.71L513.31 295.4L512.77 297.3L512.22 299.36L511.68 301.69L511.13 304.18L510.58 306.67L510.04 309.16L509.49 311.65L508.95 314.12L508.4 316.51L507.85 318.81L507.31 321.08L506.76 323.28L506.21 325.37L505.67 327.27L505.12 327.91L504.58 327.31L504.03 326.58L503.48 325.89L502.94 325.39L502.39 325.07L501.84 324.79L501.3 324.51L500.75 324.23L500.21 323.95L499.66 323.67L499.11 323.34L498.57 322.95L498.02 322.5L497.47 322.06L496.93 321.62L496.38 321.18L495.84 320.73L495.29 320.21L494.74 319.31L494.2 318.03L493.65 316.52L493.11 314.2L492.56 311.08L492.01 307.81L491.47 304.53L490.92 301.29L490.37 298.2L489.83 295.27L489.28 292.42L488.74 290.25L488.19 288.97L487.64 288.62L487.1 289.08L486.55 290.33L486 292.18L485.46 294.26L484.91 296.52L484.37 299.07L483.82 301.8L483.27 304.52L482.73 307.25L482.18 309.98L481.64 312.7L481.09 315.41L480.54 318.1L480 320.76L479.45 323.1L478.9 325.06L478.36 326.91L477.81 328.17L477.27 328.32L476.72 327.59L476.17 326.9L475.63 326.39L475.08 326.08L474.53 325.8L473.99 325.52L473.44 325.24L472.9 324.96L472.35 324.68L471.8 324.31L471.26 323.82L470.71 323.24L470.16 322.67L469.62 322.09L469.07 321.51L468.53 320.94L467.98 320.29L467.43 319.29L466.89 317.93L466.34 316.35L465.8 313.97L465.25 310.8L464.7 307.48L464.16 304.15L463.61 300.86L463.06 297.72L462.52 294.75L461.97 291.86L461.43 289.66L460.88 288.35L460.33 288L459.79 288.47L459.24 289.73L458.69 291.61L458.15 293.73L457.6 296.02L457.06 298.61L456.51 301.38L455.96 304.15L455.42 306.92L454.87 309.69L454.33 312.45L453.78 315.22L453.23 317.98L452.69 320.72L452.14 323.23L451.59 325.48L451.05 327.46L450.5 328.15L449.96 327.56L449.41 326.83L448.86 326.14L448.32 325.64L447.77 325.32L447.22 325.04L446.68 324.76L446.13 324.48L445.59 324.2L445.04 323.92L444.49 323.59L443.95 323.16L443.4 322.69L442.85 322.21L442.31 321.74L441.76 321.26L441.22 320.78L440.67 320.22L440.12 319.21L439.58 317.76L439.03 316.07L438.49 313.6L437.94 310.34L437.39 306.93L436.85 303.52L436.3 300.14L435.75 296.93L435.21 293.88L434.66 290.92L434.12 288.66L433.57 287.32L433.02 286.96L432.48 287.44L431.93 288.74L431.38 290.67L430.84 292.83L430.29 295.18L429.75 297.84L429.2 300.68L428.65 303.52L428.11 306.36L427.56 309.2L427.02 312.04L426.47 314.9L425.92 317.77L425.38 320.62L424.83 323.11L424.28 325.16L423.74 327.01L423.19 327.99L422.65 327.81L422.1 327.08L421.55 326.39L421.01 325.89L420.46 325.57L419.91 325.29L419.37 325.01L418.82 324.73L418.28 324.45L417.73 324.17L417.18 323.83L416.64 323.38L416.09 322.87L415.54 322.36L415 321.85L414.45 321.34L413.91 320.83L413.36 320.22L412.81 319.09L412.27 317.43L411.72 315.52L411.18 312.85L410.63 309.42L410.08 305.84L409.54 302.26L408.99 298.72L408.44 295.35L407.9 292.15L407.35 289.04L406.81 286.67L406.26 285.26L405.71 284.88L405.17 285.39L404.62 286.75L404.07 288.77L403.53 291.05L402.98 293.51L402.44 296.3L401.89 299.28L401.34 302.26L400.8 305.23L400.25 308.21L399.71 311.21L399.16 314.25L398.61 317.35L398.07 320.43L397.52 323.1L396.97 325.27L396.43 327.22L395.88 328.37L395.34 328.32L394.79 327.59L394.24 326.9L393.7 326.39L393.15 326.08L392.6 325.8L392.06 325.52L391.51 325.24L390.97 324.96L390.42 324.68L389.87 324.31L389.33 323.82L388.78 323.24L388.23 322.67L387.69 322.09L387.14 321.51L386.6 320.94L386.05 320.25L385.5 319.03L384.96 317.26L384.41 315.24L383.87 312.47L383.32 308.96L382.77 305.29L382.23 301.63L381.68 298L381.13 294.55L380.59 291.28L380.04 288.1L379.5 285.67L378.95 284.23L378.4 283.84L377.86 284.36L377.31 285.76L376.76 287.83L376.22 290.15L375.67 292.68L375.13 295.53L374.58 298.58L374.03 301.62L373.49 304.67L372.94 307.72L372.4 310.79L371.85 313.93L371.3 317.15L370.76 320.35L370.21 323.15L369.66 325.48L369.12 327.43L368.57 328.01L368.03 327.31L367.48 326.58L366.93 325.89L366.39 325.39L365.84 325.07L365.29 324.79L364.75 324.51L364.2 324.23L363.66 323.95L363.11 323.67L362.56 323.34L362.02 322.95L361.47 322.5L360.92 322.06L360.38 321.62L359.83 321.18L359.29 320.73L358.74 320.16L358.19 318.96L357.65 317.13L357.1 315.02L356.56 312.17L356.01 308.59L355.46 304.86L354.92 301.13L354.37 297.43L353.82 293.92L353.28 290.58L352.73 287.34L352.19 284.88L351.64 283.41L351.09 283.01L350.55 283.54L350 284.96L349.45 287.07L348.91 289.44L348.36 292.01L347.82 294.91L347.27 298.02L346.72 301.12L346.18 304.23L345.63 307.33L345.09 310.46L344.54 313.67L343.99 316.98L343.45 320.26L342.9 323L342.35 325.06L341.81 326.96L341.26 328.45L340.72 328.82L340.17 328.09L339.62 327.4L339.08 326.9L338.53 326.58L337.98 326.3L337.44 326.02L336.89 325.74L336.35 325.46L335.8 325.18L335.25 324.8L334.71 324.26L334.16 323.61L333.61 322.97L333.07 322.32L332.52 321.68L331.98 321.04L331.43 320.26L330.88 318.85L330.34 316.79L329.79 314.46L329.25 311.42L328.7 307.66L328.15 303.77L327.61 299.87L327.06 296.01L326.51 292.34L325.97 288.85L325.42 285.46L324.88 282.88L324.33 281.35L323.78 280.94L323.24 281.49L322.69 282.97L322.14 285.18L321.6 287.65L321.05 290.34L320.51 293.37L319.96 296.62L319.41 299.86L318.87 303.11L318.32 306.35L317.78 309.62L317.23 313.03L316.68 316.56L316.14 320.09L315.59 323.17L315.04 325.69L314.5 327.86L313.95 328.76L313.41 328.32L312.86 327.59L312.31 326.9L311.77 326.39L311.22 326.08L310.67 325.8L310.13 325.52L309.58 325.24L309.04 324.96L308.49 324.68L307.94 324.31L307.4 323.82L306.85 323.24L306.3 322.67L305.76 322.09L305.21 321.51L304.67 320.94L304.12 320.28L303.57 319.22L303.03 317.76L302.48 316.07L301.94 313.6L301.39 310.34L300.84 306.93L300.3 303.52L299.75 300.14L299.2 296.93L298.66 293.88L298.11 290.92L297.57 288.66L297.02 287.32L296.47 286.96L295.93 287.44L295.38 288.74L294.83 290.67L294.29 292.83L293.74 295.18L293.2 297.84L292.65 300.68L292.1 303.52L291.56 306.36L291.01 309.2L290.47 312.04L289.92 314.9L289.37 317.77L288.83 320.62L288.28 323.21L287.73 325.48L287.19 327.6L286.64 328.85L286.1 328.82L285.55 328.09L285 327.4L284.46 326.9L283.91 326.58L283.36 326.3L282.82 326.02L282.27 325.74L281.73 325.46L281.18 325.18L280.63 324.8L280.09 324.26L279.54 323.61L278.99 322.97L278.45 322.32L277.9 321.68L277.36 321.04L276.81 320.24L276.26 318.7L275.72 316.42L275.17 313.85L274.63 310.59L274.08 306.65L273.53 302.56L272.99 298.48L272.44 294.44L271.89 290.59L271.35 286.94L270.8 283.39L270.26 280.69L269.71 279.09L269.16 278.65L268.62 279.23L268.07 280.79L267.52 283.09L266.98 285.69L266.43 288.5L265.89 291.68L265.34 295.07L264.79 298.47L264.25 301.87L263.7 305.27L263.16 308.71L262.61 312.32L262.06 316.11L261.52 319.89L260.97 323.13L260.42 325.69L259.88 327.91L259.33 329.04L258.79 328.82L258.24 328.09L257.69 327.4L257.15 326.9L256.6 326.58L256.05 326.3L255.51 326.02L254.96 325.74L254.42 325.46L253.87 325.18L253.32 324.8L252.78 324.26L252.23 323.61L251.68 322.97L251.14 322.32L250.59 321.68L250.05 321.04L249.5 320.24Z" fill="#A87808" fill-opacity="0.92" stroke="none"/>
<path d="M249.5 309.95L250.05 307.56L250.59 305.02L251.14 302.48L251.68 299.95L252.23 297.41L252.78 294.91L253.32 292.59L253.87 290.46L254.42 288.4L254.96 286.84L255.51 285.94L256.05 285.9L256.6 286.69L257.15 288.46L257.69 291.06L258.24 293.98L258.79 296.98L259.33 300.12L259.88 303.34L260.42 306.55L260.97 309.77L261.52 312.2L262.06 313.36L262.61 313.73L263.16 314.07L263.7 314.36L264.25 314.62L264.79 314.88L265.34 315.14L265.89 315.4L266.43 315.66L266.98 316.02L267.52 316.5L268.07 317.02L268.62 317.54L269.16 318.06L269.71 318.58L270.26 319.17L270.8 319.87L271.35 320.65L271.89 321.41L272.44 322.08L272.99 322.17L273.53 321.08L274.08 319.28L274.63 317.69L275.17 315.38L275.72 312.18L276.26 308.64L276.81 305.16L277.36 301.79L277.9 298.48L278.45 295.18L278.99 291.87L279.54 288.56L280.09 285.3L280.63 282.28L281.18 279.51L281.73 276.83L282.27 274.79L282.82 273.62L283.36 273.57L283.91 274.6L284.46 276.9L285 280.29L285.55 284.1L286.1 288.01L286.64 292.09L287.19 296.29L287.73 300.48L288.28 304.67L288.83 308.18L289.37 310.61L289.92 312.35L290.47 313.69L291.01 314.36L291.56 314.62L292.1 314.88L292.65 315.14L293.2 315.4L293.74 315.66L294.29 316.02L294.83 316.5L295.38 317.02L295.93 317.54L296.47 318.06L297.02 318.58L297.57 319.04L298.11 319.39L298.66 319.69L299.2 319.99L299.75 320.36L300.3 321.09L300.84 321.27L301.39 320.16L301.94 318.06L302.48 315.12L303.03 311.14L303.57 306.77L304.12 302.58L304.67 298.68L305.21 294.95L305.76 291.23L306.3 287.51L306.85 283.78L307.4 280.12L307.94 276.72L308.49 273.59L309.04 270.58L309.58 268.29L310.13 266.97L310.67 266.91L311.22 268.07L311.77 270.66L312.31 274.48L312.86 278.76L313.41 283.16L313.95 287.76L314.5 292.48L315.04 297.2L315.59 301.92L316.14 306.02L316.68 309.12L317.23 311.61L317.78 313.48L318.32 314.36L318.87 314.62L319.41 314.88L319.96 315.14L320.51 315.4L321.05 315.66L321.6 316.02L322.14 316.5L322.69 317.02L323.24 317.54L323.78 318.06L324.33 318.58L324.88 319.15L325.42 319.79L325.97 320.49L326.51 321.17L327.06 321.79L327.61 322.45L328.15 322.24L328.7 320.68L329.25 318.31L329.79 315.39L330.34 311.79L330.88 307.95L331.43 304.21L331.98 300.64L332.52 297.18L333.07 293.72L333.61 290.25L334.16 286.79L334.71 283.38L335.25 280.22L335.8 277.32L336.35 274.51L336.89 272.38L337.44 271.15L337.98 271.1L338.53 272.18L339.08 274.59L339.62 278.14L340.17 282.12L340.72 286.21L341.26 290.49L341.81 294.88L342.35 299.26L342.9 303.65L343.45 307.38L343.99 310.06L344.54 312.08L345.09 313.61L345.63 314.36L346.18 314.62L346.72 314.88L347.27 315.14L347.82 315.4L348.36 315.66L348.91 316.02L349.45 316.5L350 317.02L350.55 317.54L351.09 318.06L351.64 318.58L352.19 319.21L352.73 320.03L353.28 320.97L353.82 321.89L354.37 322.65L354.92 322.83L355.46 321.75L356.01 319.81L356.56 317.91L357.1 315.17L357.65 311.41L358.19 307.25L358.74 303.25L359.29 299.48L359.83 295.87L360.38 292.25L360.92 288.64L361.47 285.02L362.02 281.46L362.56 278.16L363.11 275.13L363.66 272.2L364.2 269.97L364.75 268.69L365.29 268.63L365.84 269.76L366.39 272.28L366.93 275.98L367.48 280.14L368.03 284.42L368.57 288.88L369.12 293.47L369.66 298.05L370.21 302.63L370.76 306.58L371.3 309.51L371.85 311.8L372.4 313.53L372.94 314.36L373.49 314.62L374.03 314.88L374.58 315.14L375.13 315.4L375.67 315.66L376.22 316.02L376.76 316.5L377.31 317.02L377.86 317.54L378.4 318.06L378.95 318.58L379.5 319.1L380.04 319.63L380.59 320.17L381.13 320.7L381.68 321.22L382.23 321.85L382.77 321.73L383.32 320.33L383.87 318.16L384.41 315.42L384.96 311.98L385.5 308.29L386.05 304.69L386.6 301.22L387.14 297.83L387.69 294.45L388.23 291.06L388.78 287.68L389.33 284.34L389.87 281.25L390.42 278.41L390.97 275.67L391.51 273.59L392.06 272.39L392.6 272.33L393.15 273.39L393.7 275.74L394.24 279.22L394.79 283.11L395.34 287.11L395.88 291.29L396.43 295.58L396.97 299.87L397.52 304.16L398.07 307.78L398.61 310.33L399.16 312.22L399.71 313.65L400.25 314.36L400.8 314.62L401.34 314.88L401.89 315.14L402.44 315.4L402.98 315.66L403.53 316.02L404.07 316.5L404.62 317.02L405.17 317.54L405.71 318.06L406.26 318.58L406.81 319.17L407.35 319.87L407.9 320.65L408.44 321.41L408.99 322.08L409.54 322.3L410.08 321.39L410.63 319.63L411.18 317.84L411.72 315.2L412.27 311.52L412.81 307.46L413.36 303.54L413.91 299.83L414.45 296.26L415 292.69L415.54 289.12L416.09 285.55L416.64 282.04L417.18 278.78L417.73 275.78L418.28 272.89L418.82 270.7L419.37 269.43L419.91 269.37L420.46 270.49L421.01 272.97L421.55 276.63L422.1 280.74L422.65 284.96L423.19 289.36L423.74 293.89L424.28 298.41L424.83 302.94L425.38 306.82L425.92 309.67L426.47 311.89L427.02 313.56L427.56 314.36L428.11 314.62L428.65 314.88L429.2 315.14L429.75 315.4L430.29 315.66L430.84 316.02L431.38 316.5L431.93 317.02L432.48 317.54L433.02 318.06L433.57 318.58L434.12 319.08L434.66 319.55L435.21 320.01L435.75 320.46L436.3 320.93L436.85 321.68L437.39 321.79L437.94 320.51L438.49 318.24L439.03 315.5L439.58 312.18L440.12 308.64L440.67 305.16L441.22 301.79L441.76 298.48L442.31 295.18L442.85 291.87L443.4 288.56L443.95 285.3L444.49 282.28L445.04 279.51L445.59 276.83L446.13 274.79L446.68 273.62L447.22 273.57L447.77 274.6L448.32 276.9L448.86 280.29L449.41 284.1L449.96 288.01L450.5 292.09L451.05 296.29L451.59 300.48L452.14 304.67L452.69 308.18L453.23 310.61L453.78 312.35L454.33 313.69L454.87 314.36L455.42 314.62L455.96 314.88L456.51 315.14L457.06 315.4L457.6 315.66L458.15 316.02L458.69 316.5L459.24 317.02L459.79 317.54L460.33 318.06L460.88 318.58L461.43 319.19L461.97 319.95L462.52 320.81L463.06 321.65L463.61 322.37L464.16 322.66L464.7 321.81L465.25 319.98L465.8 318L466.34 315.38L466.89 311.98L467.43 308.29L467.98 304.69L468.53 301.22L469.07 297.83L469.62 294.45L470.16 291.06L470.71 287.68L471.26 284.34L471.8 281.25L472.35 278.41L472.9 275.67L473.44 273.59L473.99 272.39L474.53 272.33L475.08 273.39L475.63 275.74L476.17 279.22L476.72 283.11L477.27 287.11L477.81 291.29L478.36 295.58L478.9 299.87L479.45 304.16L480 307.78L480.54 310.33L481.09 312.22L481.64 313.65L482.18 314.36L482.73 314.62L483.27 314.88L483.82 315.14L484.37 315.4L484.91 315.66L485.46 316.02L486 316.5L486.55 317.02L487.1 317.54L487.64 318.06L488.19 318.58L488.74 319.13L489.28 319.71L489.83 320.33L490.37 320.94L490.92 321.51L491.47 322.05L492.01 321.75L492.56 320.25L493.11 318.11L493.65 315.31L494.2 311.68L494.74 307.74L495.29 303.92L495.84 300.29L496.38 296.78L496.93 293.28L497.47 289.77L498.02 286.26L498.57 282.8L499.11 279.6L499.66 276.66L500.21 273.82L500.75 271.66L501.3 270.42L501.84 270.36L502.39 271.45L502.94 273.89L503.48 277.49L504.03 281.53L504.58 285.67L505.12 290.01L505.67 294.45L506.21 298.9L506.76 303.34L507.31 307.14L507.85 309.89L508.4 312L508.95 313.59L509.49 314.36L510.04 314.62L510.58 314.88L511.13 315.14L511.68 315.4L512.22 315.66L512.77 316.02L513.31 316.5L513.86 317.02L514.41 317.54L514.95 318.06L515.5 318.58L516.05 319.16L516.59 319.83L517.14 320.57L517.68 321.29L518.23 321.94L518.78 322.4L519.32 321.9L519.87 320.25L520.42 318.11L520.96 315.31L521.51 311.68L522.05 307.74L522.6 303.92" fill="none" stroke="#FFA200" stroke-width="1.7" stroke-dasharray="4.5 1.6" stroke-linejoin="round" />
<path d="M249.5 316.06L250.05 317L250.59 317.77L251.14 318.53L251.68 319.3L252.23 320.07L252.78 320.83L253.32 321.48L253.87 321.93L254.42 322.27L254.96 322.6L255.51 322.93L256.05 323.27L256.6 323.6L257.15 323.98L257.69 324.58L258.24 325.4L258.79 326.27L259.33 326.53L259.88 325.19L260.42 322.54L260.97 319.49L261.52 315.64L262.06 311.13L262.61 306.62L263.16 302.32L263.7 298.23L264.25 294.19L264.79 290.14L265.34 286.09L265.89 282.05L266.43 278.27L266.98 274.92L267.52 271.83L268.07 269.08L268.62 267.24L269.16 266.55L269.71 267.06L270.26 268.97L270.8 272.19L271.35 276.41L271.89 280.76L272.44 285.34L272.99 290.15L273.53 295.01L274.08 299.87L274.63 304.57L275.17 308.44L275.72 311.51L276.26 314.22L276.81 316.06L277.36 317L277.9 317.77L278.45 318.53L278.99 319.3L279.54 320.07L280.09 320.83L280.63 321.48L281.18 321.93L281.73 322.27L282.27 322.6L282.82 322.93L283.36 323.27L283.91 323.6L284.46 323.98L285 324.58L285.55 325.4L286.1 326.27L286.64 326.3L287.19 324.81L287.73 322.29L288.28 319.59L288.83 316.51L289.37 313.11L289.92 309.69L290.47 306.29L291.01 302.9L291.56 299.52L292.1 296.14L292.65 292.76L293.2 289.38L293.74 286.22L294.29 283.42L294.83 280.85L295.38 278.55L295.93 277.01L296.47 276.43L297.02 276.86L297.57 278.46L298.11 281.15L298.66 284.67L299.2 288.3L299.75 292.13L300.3 296.15L300.84 300.21L301.39 304.27L301.94 308.14L302.48 311.09L303.03 313.11L303.57 314.84L304.12 316.1L304.67 316.88L305.21 317.57L305.76 318.25L306.3 318.94L306.85 319.63L307.4 320.31L307.94 320.9L308.49 321.33L309.04 321.67L309.58 322L310.13 322.33L310.67 322.67L311.22 323L311.77 323.38L312.31 323.98L312.86 324.8L313.41 325.67L313.95 326.2L314.5 325.12L315.04 322.54L315.59 319.54L316.14 315.88L316.68 311.68L317.23 307.47L317.78 303.41L318.32 299.52L318.87 295.65L319.41 291.79L319.96 287.93L320.51 284.06L321.05 280.46L321.6 277.26L322.14 274.31L322.69 271.69L323.24 269.92L323.78 269.26L324.33 269.76L324.88 271.58L325.42 274.65L325.97 278.68L326.51 282.83L327.06 287.2L327.61 291.8L328.15 296.44L328.7 301.08L329.25 305.55L329.79 309.17L330.34 311.95L330.88 314.4L331.43 316.08L331.98 317L332.52 317.77L333.07 318.53L333.61 319.3L334.16 320.07L334.71 320.83L335.25 321.48L335.8 321.93L336.35 322.27L336.89 322.6L337.44 322.93L337.98 323.27L338.53 323.6L339.08 323.98L339.62 324.58L340.17 325.4L340.72 326.27L341.26 325.83L341.81 324.05L342.35 321.79L342.9 319.34L343.45 316.08L343.99 312.17L344.54 308.23L345.09 304.4L345.63 300.69L346.18 296.99L346.72 293.29L347.27 289.59L347.82 285.9L348.36 282.44L348.91 279.38L349.45 276.56L350 274.05L350.55 272.37L351.09 271.74L351.64 272.21L352.19 273.95L352.73 276.89L353.28 280.75L353.82 284.72L354.37 288.9L354.92 293.3L355.46 297.74L356.01 302.18L356.56 306.44L357.1 309.83L357.65 312.35L358.19 314.53L358.74 315.96L359.29 316.64L359.83 317.17L360.38 317.69L360.92 318.22L361.47 318.75L362.02 319.27L362.56 319.75L363.11 320.13L363.66 320.47L364.2 320.8L364.75 321.13L365.29 321.47L365.84 321.8L366.39 322.18L366.93 322.78L367.48 323.6L368.03 324.47L368.57 325.3L369.12 324.61L369.66 322.29L370.21 319.52L370.76 316.18L371.3 312.37L371.85 308.54L372.4 304.8L372.94 301.15L373.49 297.52L374.03 293.89L374.58 290.26L375.13 286.63L375.67 283.24L376.22 280.23L376.76 277.47L377.31 275L377.86 273.34L378.4 272.72L378.95 273.19L379.5 274.9L380.04 277.79L380.59 281.57L381.13 285.47L381.68 289.58L382.23 293.9L382.77 298.26L383.32 302.62L383.87 306.8L384.41 310.1L384.96 312.51L385.5 314.61L386.05 316.06L386.6 316.88L387.14 317.57L387.69 318.25L388.23 318.94L388.78 319.63L389.33 320.31L389.87 320.9L390.42 321.33L390.97 321.67L391.51 322L392.06 322.33L392.6 322.67L393.15 323L393.7 323.38L394.24 323.98L394.79 324.8L395.34 325.67L395.88 325.73L396.43 324.36L396.97 322.04L397.52 319.46L398.07 316.28L398.61 312.62L399.16 308.92L399.71 305.3L400.25 301.74L400.8 298.19L401.34 294.64L401.89 291.09L402.44 287.55L402.98 284.23L403.53 281.3L404.07 278.59L404.62 276.18L405.17 274.56L405.71 273.96L406.26 274.41L406.81 276.09L407.35 278.91L407.9 282.61L408.44 286.42L408.99 290.43L409.54 294.65L410.08 298.91L410.63 303.17L411.18 307.25L411.72 310.43L412.27 312.71L412.81 314.68L413.36 316.03L413.91 316.76L414.45 317.37L415 317.97L415.54 318.58L416.09 319.19L416.64 319.79L417.18 320.32L417.73 320.73L418.28 321.07L418.82 321.4L419.37 321.73L419.91 322.07L420.46 322.4L421.01 322.78L421.55 323.38L422.1 324.2L422.65 325.07L423.19 325.28L423.74 324.11L424.28 321.91L424.83 319.47L425.38 316.5L425.92 313.11L426.47 309.69L427.02 306.29L427.56 302.9L428.11 299.52L428.65 296.14L429.2 292.76L429.75 289.38L430.29 286.22L430.84 283.42L431.38 280.85L431.93 278.55L432.48 277.01L433.02 276.43L433.57 276.86L434.12 278.46L434.66 281.15L435.21 284.67L435.75 288.3L436.3 292.13L436.85 296.15L437.39 300.21L437.94 304.27L438.49 308.14L439.03 311.09L439.58 313.11L440.12 314.83L440.67 316.03L441.22 316.7L441.76 317.27L442.31 317.83L442.85 318.4L443.4 318.97L443.95 319.53L444.49 320.04L445.04 320.43L445.59 320.77L446.13 321.1L446.68 321.43L447.22 321.77L447.77 322.1L448.32 322.48L448.86 323.08L449.41 323.9L449.96 324.77L450.5 325.46L451.05 324.64L451.59 322.29L452.14 319.62L452.69 316.62L453.23 313.36L453.78 310.07L454.33 306.78L454.87 303.49L455.42 300.19L455.96 296.89L456.51 293.59L457.06 290.3L457.6 287.22L458.15 284.49L458.69 281.97L459.24 279.74L459.79 278.23L460.33 277.67L460.88 278.09L461.43 279.64L461.97 282.27L462.52 285.71L463.06 289.25L463.61 292.98L464.16 296.9L464.7 300.86L465.25 304.82L465.8 308.59L466.34 311.42L466.89 313.31L467.43 314.92L467.98 316.11L468.53 316.88L469.07 317.57L469.62 318.25L470.16 318.94L470.71 319.63L471.26 320.31L471.8 320.9L472.35 321.33L472.9 321.67L473.44 322L473.99 322.33L474.53 322.67L475.08 323L475.63 323.38L476.17 323.98L476.72 324.8L477.27 325.67L477.81 325.5L478.36 323.99L478.9 321.79L479.45 319.46L480 316.67L480.54 313.5L481.09 310.3L481.64 307.08L482.18 303.84L482.73 300.59L483.27 297.34L483.82 294.09L484.37 290.85L484.91 287.81L485.46 285.12L486 282.65L486.55 280.45L487.1 278.96L487.64 278.41L488.19 278.82L488.74 280.35L489.28 282.94L489.83 286.33L490.37 289.81L490.92 293.49L491.47 297.35L492.01 301.25L492.56 305.15L493.11 308.86L493.65 311.62L494.2 313.43L494.74 314.95L495.29 316.02L495.84 316.64L496.38 317.17L496.93 317.69L497.47 318.22L498.02 318.75L498.57 319.27L499.11 319.75L499.66 320.13L500.21 320.47L500.75 320.8L501.3 321.13L501.84 321.47L502.39 321.8L502.94 322.18L503.48 322.78L504.03 323.6L504.58 324.47L505.12 325.18L505.67 324.42L506.21 322.16L506.76 319.67L507.31 317.05L507.85 314.34L508.4 311.61L508.95 308.77L509.49 305.82L510.04 302.86L510.58 299.89L511.13 296.93L511.68 293.96L512.22 291.2L512.77 288.74L513.31 286.48L513.86 284.47L514.41 283.11L514.95 282.61L515.5 282.99L516.05 284.39L516.59 286.74L517.14 289.84L517.68 293.02L518.23 296.37L518.78 299.9L519.32 303.46L519.87 307.02L520.42 310.38L520.96 312.74L521.51 314.11L522.05 315.23L522.6 316.13" fill="none" stroke="#6B4300" stroke-width="1.8" stroke-linejoin="round" />
</g>
<g opacity="0.52"><path d="M263.15 251.3V334.2" stroke="#000" stroke-width="1.7"/><path d="M290.46 251.3V334.2" stroke="#000" stroke-width="1.7"/><path d="M317.77 251.3V334.2" stroke="#000" stroke-width="1.7"/><path d="M345.08 251.3V334.2" stroke="#000" stroke-width="1.7"/><path d="M372.39 251.3V334.2" stroke="#000" stroke-width="1.7"/><path d="M399.7 251.3V334.2" stroke="#000" stroke-width="1.7"/><path d="M427.01 251.3V334.2" stroke="#000" stroke-width="1.7"/><path d="M454.32 251.3V334.2" stroke="#000" stroke-width="1.7"/><path d="M481.63 251.3V334.2" stroke="#000" stroke-width="1.7"/><path d="M508.94 251.3V334.2" stroke="#000" stroke-width="1.7"/></g>
<path d="M249.5 253.5V334.2" stroke="#000" stroke-width="1.45" stroke-dasharray="4.2 3.1"/><path d="M276.81 253.5V334.2" stroke="#000" stroke-width="1.45" stroke-dasharray="4.2 3.1"/><path d="M304.12 253.5V334.2" stroke="#000" stroke-width="1.45" stroke-dasharray="4.2 3.1"/><path d="M331.43 253.5V334.2" stroke="#000" stroke-width="1.45" stroke-dasharray="4.2 3.1"/><path d="M358.74 253.5V334.2" stroke="#000" stroke-width="1.45" stroke-dasharray="4.2 3.1"/><path d="M386.05 253.5V334.2" stroke="#000" stroke-width="1.45" stroke-dasharray="4.2 3.1"/><path d="M413.36 253.5V334.2" stroke="#000" stroke-width="1.45" stroke-dasharray="4.2 3.1"/><path d="M440.67 253.5V334.2" stroke="#000" stroke-width="1.45" stroke-dasharray="4.2 3.1"/><path d="M467.98 253.5V334.2" stroke="#000" stroke-width="1.45" stroke-dasharray="4.2 3.1"/><path d="M495.29 253.5V334.2" stroke="#000" stroke-width="1.45" stroke-dasharray="4.2 3.1"/>
<path d="M244.4 251.3 V334.2 H522.6" fill="none" stroke="#505050" stroke-width="1.2"/><path d="M244.4 276.6h2.4" stroke="#505050" stroke-width="1.1"/><path d="M244.4 301.6h2.4" stroke="#505050" stroke-width="1.1"/><path d="M244.4 326.6h2.4" stroke="#505050" stroke-width="1.1"/><text x="238.8" y="281.4" font-size="13.6" fill="#000" text-anchor="end" >0.2</text><text x="238.8" y="306.4" font-size="13.6" fill="#000" text-anchor="end" >0.1</text><text x="238.8" y="331.4" font-size="13.6" fill="#000" text-anchor="end" >0</text>
<text x="234" y="241.5" font-size="13.7" fill="#000" >a.u.</text>
<path d="M249.5 437.63L250.5 436.67L251.5 435.42L252.5 434.17L253.5 433.07L254.5 432.2L255.5 431.63L256.5 431.39L257.5 431.54L258.5 432.05L259.5 432.83L260.5 433.76L261.5 434.65L262.5 435.34L263.5 435.67L264.5 435.54L265.5 434.94L266.5 433.91L267.5 432.53L268.5 430.87L269.5 429.01L270.5 427.02L271.5 425L272.5 423.01L273.5 421.14L274.5 419.46L275.5 418.06L276.5 417.02L277.5 416.41L278.5 416.29L279.5 416.7L280.5 417.62L281.5 418.97L282.5 420.64L283.5 422.53L284.5 424.52L285.5 426.48L286.5 428.32L287.5 429.9L288.5 431.13L289.5 431.88L290.5 432.06L291.5 431.62L292.5 430.57L293.5 428.98L294.5 426.93L295.5 424.52L296.5 421.85L297.5 419.02L298.5 416.13L299.5 413.28L300.5 410.55L301.5 408.07L302.5 405.91L303.5 404.18L304.5 402.98L305.5 402.39L306.5 402.48L307.5 403.22L308.5 404.58L309.5 406.45L310.5 408.73L311.5 411.32L312.5 414.11L313.5 416.99L314.5 419.86L315.5 422.61L316.5 425.14L317.5 427.34L318.5 429.11L319.5 430.35L320.5 430.98L321.5 431.01L322.5 430.46L323.5 429.44L324.5 428.04L325.5 426.35L326.5 424.49L327.5 422.55L328.5 420.64L329.5 418.86L330.5 417.3L331.5 416.08L332.5 415.3L333.5 415.04L334.5 415.38L335.5 416.32L336.5 417.81L337.5 419.75L338.5 422.02L339.5 424.48L340.5 427.02L341.5 429.5L342.5 431.81L343.5 433.81L344.5 435.37L345.5 436.39L346.5 436.79L347.5 436.53L348.5 435.67L349.5 434.29L350.5 432.49L351.5 430.37L352.5 428.04L353.5 425.59L354.5 423.13L355.5 420.77L356.5 418.6L357.5 416.72L358.5 415.25L359.5 414.27L360.5 413.89L361.5 414.18L362.5 415.15L363.5 416.74L364.5 418.84L365.5 421.32L366.5 424.03L367.5 426.84L368.5 429.61L369.5 432.18L370.5 434.43L371.5 436.21L372.5 437.4L373.5 437.9L374.5 437.68L375.5 436.79L376.5 435.36L377.5 433.49L378.5 431.34L379.5 429.02L380.5 426.67L381.5 424.42L382.5 422.36L383.5 420.57L384.5 419.13L385.5 418.07L386.5 417.45L387.5 417.32L388.5 417.69L389.5 418.57L390.5 419.88L391.5 421.54L392.5 423.45L393.5 425.51L394.5 427.62L395.5 429.68L396.5 431.59L397.5 433.24L398.5 434.53L399.5 435.39L400.5 435.73L401.5 435.55L402.5 434.9L403.5 433.85L404.5 432.48L405.5 430.87L406.5 429.12L407.5 427.31L408.5 425.52L409.5 423.83L410.5 422.35L411.5 421.14L412.5 420.3L413.5 419.9L414.5 420L415.5 420.61L416.5 421.67L417.5 423.13L418.5 424.88L419.5 426.84L420.5 428.92L421.5 431.03L422.5 433.08L423.5 434.98L424.5 436.63L425.5 437.95L426.5 438.85L427.5 439.24L428.5 439.07L429.5 438.31L430.5 437.03L431.5 435.3L432.5 433.22L433.5 430.9L434.5 428.45L435.5 425.97L436.5 423.57L437.5 421.35L438.5 419.43L439.5 417.9L440.5 416.87L441.5 416.41L442.5 416.54L443.5 417.23L444.5 418.41L445.5 419.99L446.5 421.87L447.5 423.95L448.5 426.15L449.5 428.37L450.5 430.51L451.5 432.48L452.5 434.18L453.5 435.53L454.5 436.42L455.5 436.8L456.5 436.63L457.5 435.94L458.5 434.8L459.5 433.28L460.5 431.49L461.5 429.51L462.5 427.43L463.5 425.33L464.5 423.32L465.5 421.47L466.5 419.88L467.5 418.64L468.5 417.82L469.5 417.49L470.5 417.65L471.5 418.26L472.5 419.26L473.5 420.54L474.5 422.03L475.5 423.65L476.5 425.29L477.5 426.89L478.5 428.34L479.5 429.57L480.5 430.49L481.5 431.04L482.5 431.18L483.5 430.92L484.5 430.3L485.5 429.38L486.5 428.21L487.5 426.85L488.5 425.35L489.5 423.77L490.5 422.14L491.5 420.52L492.5 418.93L493.5 417.42L494.5 416.03L495.5 414.79L496.5 413.75L497.5 412.94L498.5 412.39L499.5 412.16L500.5 412.28L501.5 412.76L502.5 413.61L503.5 414.79L504.5 416.24L505.5 417.9L506.5 419.69L507.5 421.54L508.5 423.37L509.5 425.12L510.5 426.71L511.5 428.07L512.5 429.16L513.5 429.96L514.5 430.46L515.5 430.7L516.5 430.71L517.5 430.51L518.5 430.16L519.5 429.67L520.5 429.1L521.5 428.53L522.5 428.08L522.6 427.86L522.6 443.2L522.5 443.45L521.5 443.95L520.5 444.61L519.5 445.27L518.5 445.85L517.5 446.31L516.5 446.61L515.5 446.72L514.5 446.61L513.5 446.25L512.5 445.61L511.5 444.69L510.5 443.5L509.5 442.09L508.5 440.52L507.5 438.85L506.5 437.14L505.5 435.47L504.5 433.9L503.5 432.49L502.5 431.31L501.5 430.41L500.5 429.82L499.5 429.55L498.5 429.58L497.5 429.9L496.5 430.46L495.5 431.25L494.5 432.24L493.5 433.39L492.5 434.69L491.5 436.1L490.5 437.6L489.5 439.15L488.5 440.73L487.5 442.29L486.5 443.77L485.5 445.1L484.5 446.22L483.5 447.03L482.5 447.48L481.5 447.51L480.5 447.08L479.5 446.25L478.5 445.05L477.5 443.59L476.5 441.95L475.5 440.22L474.5 438.49L473.5 436.85L472.5 435.38L471.5 434.18L470.5 433.33L469.5 432.9L468.5 432.95L467.5 433.47L466.5 434.41L465.5 435.7L464.5 437.25L463.5 438.99L462.5 440.83L461.5 442.69L460.5 444.5L459.5 446.16L458.5 447.6L457.5 448.75L456.5 449.51L455.5 449.83L454.5 449.68L453.5 449.09L452.5 448.11L451.5 446.81L450.5 445.28L449.5 443.6L448.5 441.84L447.5 440.08L446.5 438.41L445.5 436.89L444.5 435.62L443.5 434.67L442.5 434.12L441.5 434.02L440.5 434.41L439.5 435.26L438.5 436.52L437.5 438.1L436.5 439.91L435.5 441.87L434.5 443.88L433.5 445.85L432.5 447.71L431.5 449.35L430.5 450.69L429.5 451.64L428.5 452.14L427.5 452.14L426.5 451.66L425.5 450.75L424.5 449.5L423.5 447.97L422.5 446.25L421.5 444.42L420.5 442.56L419.5 440.75L418.5 439.07L417.5 437.6L416.5 436.42L415.5 435.62L414.5 435.24L413.5 435.34L412.5 435.9L411.5 436.87L410.5 438.17L409.5 439.71L408.5 441.43L407.5 443.22L406.5 445.01L405.5 446.72L404.5 448.26L403.5 449.56L402.5 450.51L401.5 451.05L400.5 451.11L399.5 450.65L398.5 449.67L397.5 448.27L396.5 446.53L395.5 444.57L394.5 442.51L393.5 440.45L392.5 438.51L391.5 436.79L390.5 435.43L389.5 434.51L388.5 434.14L387.5 434.36L386.5 435.15L385.5 436.44L384.5 438.11L383.5 440.05L382.5 442.13L381.5 444.26L380.5 446.34L379.5 448.27L378.5 450.01L377.5 451.47L376.5 452.61L375.5 453.35L374.5 453.66L373.5 453.47L372.5 452.77L371.5 451.6L370.5 450.02L369.5 448.15L368.5 446.06L367.5 443.87L366.5 441.67L365.5 439.57L364.5 437.66L363.5 436.05L362.5 434.83L361.5 434.09L360.5 433.86L359.5 434.12L358.5 434.84L357.5 435.92L356.5 437.29L355.5 438.88L354.5 440.6L353.5 442.38L352.5 444.15L351.5 445.81L350.5 447.29L349.5 448.52L348.5 449.42L347.5 449.91L346.5 449.92L345.5 449.43L344.5 448.45L343.5 447.04L342.5 445.31L341.5 443.35L340.5 441.27L339.5 439.16L338.5 437.13L337.5 435.28L336.5 433.71L335.5 432.51L334.5 431.78L333.5 431.56L332.5 431.83L331.5 432.55L330.5 433.63L329.5 434.99L328.5 436.56L327.5 438.24L326.5 439.95L325.5 441.62L324.5 443.15L323.5 444.47L322.5 445.49L321.5 446.13L320.5 446.32L319.5 446.02L318.5 445.24L317.5 444.04L316.5 442.48L315.5 440.66L314.5 438.66L313.5 436.55L312.5 434.42L311.5 432.35L310.5 430.44L309.5 428.75L308.5 427.38L307.5 426.4L306.5 425.89L305.5 425.89L304.5 426.4L303.5 427.39L302.5 428.79L301.5 430.52L300.5 432.5L299.5 434.67L298.5 436.94L297.5 439.24L296.5 441.5L295.5 443.63L294.5 445.57L293.5 447.23L292.5 448.55L291.5 449.44L290.5 449.87L289.5 449.82L288.5 449.34L287.5 448.49L286.5 447.36L285.5 446.04L284.5 444.61L283.5 443.16L282.5 441.78L281.5 440.56L280.5 439.58L279.5 438.91L278.5 438.63L277.5 438.74L276.5 439.21L275.5 440L274.5 441.04L273.5 442.26L272.5 443.62L271.5 445.03L270.5 446.44L269.5 447.79L268.5 449.01L267.5 450.03L266.5 450.81L265.5 451.26L264.5 451.34L263.5 451.02L262.5 450.32L261.5 449.33L260.5 448.22L259.5 447.14L258.5 446.26L257.5 445.73L256.5 445.61L255.5 445.91L254.5 446.6L253.5 447.61L252.5 448.88L251.5 450.32L250.5 451.75L249.5 452.85Z" fill="#8C00FF" fill-opacity="1"/>
<path d="M249.5 444.64L250.5 443.6L251.5 442.26L252.5 440.92L253.5 439.77L254.5 438.91L255.5 438.39L256.5 438.28L257.5 438.63L258.5 439.42L259.5 440.55L260.5 441.88L261.5 443.19L262.5 444.3L263.5 445.04L264.5 445.28L265.5 445L266.5 444.25L267.5 443.09L268.5 441.62L269.5 439.9L270.5 438.02L271.5 436.06L272.5 434.1L273.5 432.23L274.5 430.53L275.5 429.06L276.5 427.93L277.5 427.2L278.5 426.95L279.5 427.21L280.5 427.96L281.5 429.13L282.5 430.63L283.5 432.35L284.5 434.18L285.5 436.01L286.5 437.74L287.5 439.26L288.5 440.46L289.5 441.24L290.5 441.52L291.5 441.23L292.5 440.39L293.5 439.06L294.5 437.33L295.5 435.28L296.5 433L297.5 430.6L298.5 428.15L299.5 425.76L300.5 423.5L301.5 421.49L302.5 419.8L303.5 418.52L304.5 417.74L305.5 417.49L306.5 417.79L307.5 418.58L308.5 419.78L309.5 421.31L310.5 423.1L311.5 425.06L312.5 427.1L313.5 429.15L314.5 431.12L315.5 432.93L316.5 434.5L317.5 435.75L318.5 436.6L319.5 437.01L320.5 436.97L321.5 436.52L322.5 435.72L323.5 434.63L324.5 433.34L325.5 431.92L326.5 430.42L327.5 428.94L328.5 427.53L329.5 426.28L330.5 425.25L331.5 424.51L332.5 424.14L333.5 424.2L334.5 424.73L335.5 425.75L336.5 427.2L337.5 428.99L338.5 431.02L339.5 433.2L340.5 435.42L341.5 437.58L342.5 439.58L343.5 441.31L344.5 442.67L345.5 443.57L346.5 443.95L347.5 443.78L348.5 443.11L349.5 442.01L350.5 440.55L351.5 438.84L352.5 436.94L353.5 434.95L354.5 432.95L355.5 431.03L356.5 429.27L357.5 427.76L358.5 426.59L359.5 425.83L360.5 425.58L361.5 425.88L362.5 426.76L363.5 428.15L364.5 429.97L365.5 432.11L366.5 434.43L367.5 436.83L368.5 439.19L369.5 441.38L370.5 443.3L371.5 444.81L372.5 445.81L373.5 446.22L374.5 446.02L375.5 445.23L376.5 443.96L377.5 442.3L378.5 440.34L379.5 438.21L380.5 435.99L381.5 433.78L382.5 431.69L383.5 429.8L384.5 428.19L385.5 426.92L386.5 426.09L387.5 425.74L388.5 425.94L389.5 426.67L390.5 427.89L391.5 429.49L392.5 431.38L393.5 433.45L394.5 435.59L395.5 437.7L396.5 439.66L397.5 441.36L398.5 442.71L399.5 443.61L400.5 443.98L401.5 443.82L402.5 443.17L403.5 442.1L404.5 440.69L405.5 439.03L406.5 437.21L407.5 435.31L408.5 433.42L409.5 431.62L410.5 430L411.5 428.66L412.5 427.66L413.5 427.09L414.5 427.02L415.5 427.43L416.5 428.31L417.5 429.58L418.5 431.15L419.5 432.94L420.5 434.86L421.5 436.84L422.5 438.79L423.5 440.61L424.5 442.23L425.5 443.57L426.5 444.53L427.5 445.04L428.5 445.04L429.5 444.51L430.5 443.5L431.5 442.09L432.5 440.35L433.5 438.39L434.5 436.29L435.5 434.16L436.5 432.08L437.5 430.16L438.5 428.48L439.5 427.13L440.5 426.21L441.5 425.78L442.5 425.86L443.5 426.43L444.5 427.42L445.5 428.75L446.5 430.34L447.5 432.1L448.5 433.96L449.5 435.83L450.5 437.63L451.5 439.28L452.5 440.69L453.5 441.79L454.5 442.5L455.5 442.75L456.5 442.52L457.5 441.84L458.5 440.76L459.5 439.37L460.5 437.74L461.5 435.96L462.5 434.11L463.5 432.26L464.5 430.5L465.5 428.9L466.5 427.56L467.5 426.55L468.5 425.94L469.5 425.78L470.5 426.07L471.5 426.79L472.5 427.85L473.5 429.17L474.5 430.68L475.5 432.28L476.5 433.89L477.5 435.44L478.5 436.83L479.5 437.99L480.5 438.83L481.5 439.29L482.5 439.34L483.5 439.01L484.5 438.35L485.5 437.42L486.5 436.28L487.5 435L488.5 433.66L489.5 432.29L490.5 430.94L491.5 429.64L492.5 428.41L493.5 427.27L494.5 426.26L495.5 425.38L496.5 424.68L497.5 424.17L498.5 423.87L499.5 423.8L500.5 424L501.5 424.47L502.5 425.21L503.5 426.19L504.5 427.36L505.5 428.68L506.5 430.08L507.5 431.52L508.5 432.94L509.5 434.29L510.5 435.5L511.5 436.54L512.5 437.36L513.5 437.95L514.5 438.32L515.5 438.48L516.5 438.46L517.5 438.29L518.5 437.98L519.5 437.58L520.5 437.11L521.5 436.64L522.5 436.28L522.6 436.1" fill="none" stroke="#4B0082" stroke-width="1.8"/>
<path d="M249.5 424.77L250.5 425.42L251.5 426.25L252.5 427.05L253.5 427.71L254.5 428.14L255.5 428.31L256.5 428.15L257.5 427.64L258.5 426.75L259.5 425.53L260.5 424.05L261.5 422.39L262.5 420.66L263.5 418.95L264.5 417.36L265.5 415.97L266.5 414.9L267.5 414.21L268.5 413.98L269.5 414.19L270.5 414.77L271.5 415.58L272.5 416.48L273.5 417.32L274.5 417.93L275.5 418.18L276.5 417.95L277.5 417.18L278.5 415.89L279.5 414.19L280.5 412.2L281.5 410.05L282.5 407.88L283.5 405.8L284.5 403.9L285.5 402.23L286.5 400.8L287.5 399.59L288.5 398.59L289.5 397.8L290.5 397.19L291.5 396.75L292.5 396.47L293.5 396.34L294.5 396.34L295.5 396.46L296.5 396.69L297.5 397.03L298.5 397.48L299.5 398.07L300.5 398.81L301.5 399.71L302.5 400.79L303.5 402.05L304.5 403.43L305.5 404.88L306.5 406.35L307.5 407.74L308.5 409.01L309.5 410.08L310.5 410.89L311.5 411.42L312.5 411.68L313.5 411.73L314.5 411.63L315.5 411.48L316.5 411.34L317.5 411.29L318.5 411.42L319.5 411.79L320.5 412.45L321.5 413.39L322.5 414.56L323.5 415.84L324.5 417.15L325.5 418.36L326.5 419.37L327.5 420.07L328.5 420.37L329.5 420.23L330.5 419.65L331.5 418.68L332.5 417.38L333.5 415.82L334.5 414.07L335.5 412.19L336.5 410.25L337.5 408.32L338.5 406.46L339.5 404.74L340.5 403.22L341.5 401.97L342.5 401.01L343.5 400.36L344.5 400.03L345.5 399.99L346.5 400.24L347.5 400.76L348.5 401.55L349.5 402.58L350.5 403.85L351.5 405.32L352.5 406.92L353.5 408.6L354.5 410.26L355.5 411.8L356.5 413.14L357.5 414.19L358.5 414.89L359.5 415.22L360.5 415.19L361.5 414.82L362.5 414.14L363.5 413.19L364.5 412.02L365.5 410.64L366.5 409.1L367.5 407.43L368.5 405.69L369.5 403.92L370.5 402.19L371.5 400.57L372.5 399.11L373.5 397.89L374.5 396.96L375.5 396.4L376.5 396.26L377.5 396.59L378.5 397.45L379.5 398.85L380.5 400.83L381.5 403.37L382.5 406.36L383.5 409.6L384.5 412.8L385.5 415.67L386.5 417.99L387.5 419.64L388.5 420.61L389.5 420.98L390.5 420.81L391.5 420.21L392.5 419.24L393.5 417.99L394.5 416.55L395.5 414.98L396.5 413.37L397.5 411.8L398.5 410.32L399.5 409.01L400.5 407.94L401.5 407.19L402.5 406.82L403.5 406.88L404.5 407.4L405.5 408.35L406.5 409.67L407.5 411.28L408.5 413.11L409.5 415.05L410.5 417.05L411.5 419L412.5 420.84L413.5 422.5L414.5 423.95L415.5 425.18L416.5 426.19L417.5 426.99L418.5 427.6L419.5 428.03L420.5 428.29L421.5 428.39L422.5 428.34L423.5 428.16L424.5 427.86L425.5 427.45L426.5 426.94L427.5 426.35L428.5 425.69L429.5 424.99L430.5 424.26L431.5 423.54L432.5 422.85L433.5 422.21L434.5 421.65L435.5 421.18L436.5 420.83L437.5 420.61L438.5 420.51L439.5 420.5L440.5 420.57L441.5 420.69L442.5 420.82L443.5 420.95L444.5 421.05L445.5 421.08L446.5 421.03L447.5 420.86L448.5 420.57L449.5 420.14L450.5 419.6L451.5 418.99L452.5 418.33L453.5 417.67L454.5 417.05L455.5 416.51L456.5 416.08L457.5 415.82L458.5 415.76L459.5 415.92L460.5 416.34L461.5 417L462.5 417.85L463.5 418.81L464.5 419.83L465.5 420.8L466.5 421.67L467.5 422.34L468.5 422.74L469.5 422.81L470.5 422.56L471.5 422.03L472.5 421.35L473.5 420.64L474.5 420.06L475.5 419.75L476.5 419.82L477.5 420.32L478.5 421.2L479.5 422.34L480.5 423.58L481.5 424.74L482.5 425.64L483.5 426.14L484.5 426.14L485.5 425.61L486.5 424.63L487.5 423.29L488.5 421.71L489.5 419.98L490.5 418.22L491.5 416.55L492.5 415.07L493.5 413.9L494.5 413.13L495.5 412.86L496.5 413.1L497.5 413.82L498.5 414.9L499.5 416.21L500.5 417.62L501.5 418.99L502.5 420.17L503.5 421.03L504.5 421.45L505.5 421.34L506.5 420.71L507.5 419.62L508.5 418.19L509.5 416.54L510.5 414.81L511.5 413.12L512.5 411.6L513.5 410.39L514.5 409.61L515.5 409.36L516.5 409.71L517.5 410.63L518.5 412.05L519.5 413.89L520.5 415.98L521.5 418.05L522.5 419.63L522.6 420.43L522.6 440.69L522.5 440.51L521.5 440.16L520.5 439.68L519.5 439.2L518.5 438.76L517.5 438.39L516.5 438.12L515.5 437.96L514.5 437.94L513.5 438.06L512.5 438.35L511.5 438.81L510.5 439.42L509.5 440.16L508.5 440.99L507.5 441.86L506.5 442.73L505.5 443.56L504.5 444.3L503.5 444.93L502.5 445.39L501.5 445.69L500.5 445.8L499.5 445.77L498.5 445.59L497.5 445.3L496.5 444.92L495.5 444.47L494.5 443.97L493.5 443.44L492.5 442.91L491.5 442.4L490.5 441.92L489.5 441.51L488.5 441.18L487.5 440.96L486.5 440.86L485.5 440.9L484.5 441.06L483.5 441.34L482.5 441.72L481.5 442.17L480.5 442.67L479.5 443.19L478.5 443.72L477.5 444.22L476.5 444.67L475.5 445.06L474.5 445.35L473.5 445.55L472.5 445.63L471.5 445.61L470.5 445.49L469.5 445.29L468.5 445L467.5 444.65L466.5 444.24L465.5 443.77L464.5 443.26L463.5 442.71L462.5 442.14L461.5 441.54L460.5 440.95L459.5 440.35L458.5 439.78L457.5 439.25L456.5 438.79L455.5 438.41L454.5 438.15L453.5 438.02L452.5 438.05L451.5 438.26L450.5 438.66L449.5 439.25L448.5 440L447.5 440.88L446.5 441.84L445.5 442.85L444.5 443.86L443.5 444.84L442.5 445.73L441.5 446.5L440.5 447.11L439.5 447.53L438.5 447.71L437.5 447.67L436.5 447.43L435.5 447.01L434.5 446.46L433.5 445.82L432.5 445.12L431.5 444.4L430.5 443.71L429.5 443.08L428.5 442.55L427.5 442.15L426.5 441.91L425.5 441.83L424.5 441.89L423.5 442.07L422.5 442.33L421.5 442.65L420.5 443L419.5 443.35L418.5 443.67L417.5 443.94L416.5 444.12L415.5 444.2L414.5 444.15L413.5 444L412.5 443.74L411.5 443.4L410.5 443.01L409.5 442.6L408.5 442.18L407.5 441.78L406.5 441.42L405.5 441.13L404.5 440.93L403.5 440.84L402.5 440.87L401.5 441.01L400.5 441.25L399.5 441.57L398.5 441.96L397.5 442.39L396.5 442.86L395.5 443.33L394.5 443.79L393.5 444.23L392.5 444.63L391.5 444.97L390.5 445.22L389.5 445.37L388.5 445.39L387.5 445.22L386.5 444.81L385.5 444.11L384.5 443.07L383.5 441.72L382.5 440.11L381.5 438.34L380.5 436.53L379.5 434.81L378.5 433.33L377.5 432.22L376.5 431.56L375.5 431.37L374.5 431.52L373.5 431.87L372.5 432.23L371.5 432.47L370.5 432.52L369.5 432.38L368.5 432.1L367.5 431.73L366.5 431.31L365.5 430.91L364.5 430.57L363.5 430.35L362.5 430.28L361.5 430.38L360.5 430.64L359.5 431.02L358.5 431.48L357.5 431.98L356.5 432.48L355.5 432.93L354.5 433.29L353.5 433.52L352.5 433.62L351.5 433.59L350.5 433.48L349.5 433.34L348.5 433.24L347.5 433.24L346.5 433.4L345.5 433.78L344.5 434.43L343.5 435.39L342.5 436.64L341.5 438.12L340.5 439.74L339.5 441.38L338.5 442.94L337.5 444.32L336.5 445.42L335.5 446.2L334.5 446.65L333.5 446.81L332.5 446.72L331.5 446.41L330.5 445.93L329.5 445.32L328.5 444.62L327.5 443.86L326.5 443.07L325.5 442.26L324.5 441.48L323.5 440.73L322.5 440.05L321.5 439.47L320.5 439.01L319.5 438.69L318.5 438.54L317.5 438.56L316.5 438.77L315.5 439.13L314.5 439.61L313.5 440.16L312.5 440.76L311.5 441.37L310.5 441.93L309.5 442.41L308.5 442.78L307.5 442.99L306.5 443.01L305.5 442.82L304.5 442.42L303.5 441.83L302.5 441.11L301.5 440.27L300.5 439.38L299.5 438.47L298.5 437.59L297.5 436.78L296.5 436.07L295.5 435.49L294.5 435.06L293.5 434.77L292.5 434.64L291.5 434.65L290.5 434.81L289.5 435.12L288.5 435.57L287.5 436.17L286.5 436.91L285.5 437.8L284.5 438.81L283.5 439.93L282.5 441.11L281.5 442.3L280.5 443.44L279.5 444.48L278.5 445.35L277.5 445.99L276.5 446.36L275.5 446.41L274.5 446.13L273.5 445.56L272.5 444.76L271.5 443.82L270.5 442.83L269.5 441.88L268.5 441.05L267.5 440.39L266.5 439.94L265.5 439.67L264.5 439.57L263.5 439.6L262.5 439.75L261.5 439.97L260.5 440.25L259.5 440.55L258.5 440.86L257.5 441.16L256.5 441.44L255.5 441.71L254.5 441.96L253.5 442.2L252.5 442.43L251.5 442.66L250.5 442.85L249.5 443Z" fill="#7B25FF" fill-opacity="0.6"/>
<path d="M249.5 438.48L250.5 438.58L251.5 438.69L252.5 438.75L253.5 438.73L254.5 438.6L255.5 438.31L256.5 437.86L257.5 437.21L258.5 436.37L259.5 435.36L260.5 434.24L261.5 433.05L262.5 431.85L263.5 430.72L264.5 429.71L265.5 428.89L266.5 428.31L267.5 428.03L268.5 428.08L269.5 428.45L270.5 429.08L271.5 429.86L272.5 430.69L273.5 431.43L274.5 431.98L275.5 432.25L276.5 432.19L277.5 431.78L278.5 431.08L279.5 430.13L280.5 428.98L281.5 427.69L282.5 426.32L283.5 424.92L284.5 423.54L285.5 422.23L286.5 421L287.5 419.88L288.5 418.88L289.5 418.01L290.5 417.27L291.5 416.67L292.5 416.22L293.5 415.93L294.5 415.81L295.5 415.86L296.5 416.08L297.5 416.48L298.5 417.03L299.5 417.71L300.5 418.48L301.5 419.31L302.5 420.18L303.5 421.04L304.5 421.86L305.5 422.62L306.5 423.29L307.5 423.87L308.5 424.35L309.5 424.77L310.5 425.13L311.5 425.45L312.5 425.76L313.5 426.06L314.5 426.39L315.5 426.75L316.5 427.17L317.5 427.66L318.5 428.23L319.5 428.86L320.5 429.54L321.5 430.23L322.5 430.9L323.5 431.52L324.5 432.06L325.5 432.48L326.5 432.75L327.5 432.85L328.5 432.73L329.5 432.37L330.5 431.78L331.5 430.95L332.5 429.92L333.5 428.73L334.5 427.42L335.5 426.04L336.5 424.61L337.5 423.2L338.5 421.83L339.5 420.55L340.5 419.4L341.5 418.42L342.5 417.63L343.5 417.05L344.5 416.68L345.5 416.54L346.5 416.63L347.5 416.94L348.5 417.49L349.5 418.27L350.5 419.28L351.5 420.51L352.5 421.91L353.5 423.43L354.5 424.99L355.5 426.51L356.5 427.93L357.5 429.16L358.5 430.14L359.5 430.78L360.5 431.03L361.5 430.89L362.5 430.36L363.5 429.51L364.5 428.38L365.5 427.04L366.5 425.56L367.5 424L368.5 422.4L369.5 420.82L370.5 419.3L371.5 417.88L372.5 416.62L373.5 415.55L374.5 414.71L375.5 414.15L376.5 413.9L377.5 414.02L378.5 414.52L379.5 415.45L380.5 416.82L381.5 418.63L382.5 420.81L383.5 423.21L384.5 425.63L385.5 427.84L386.5 429.67L387.5 431.03L388.5 431.92L389.5 432.37L390.5 432.42L391.5 432.12L392.5 431.52L393.5 430.68L394.5 429.64L395.5 428.46L396.5 427.2L397.5 425.91L398.5 424.65L399.5 423.49L400.5 422.49L401.5 421.69L402.5 421.17L403.5 420.97L404.5 421.1L405.5 421.56L406.5 422.3L407.5 423.27L408.5 424.41L409.5 425.65L410.5 426.94L411.5 428.23L412.5 429.45L413.5 430.56L414.5 431.54L415.5 432.38L416.5 433.07L417.5 433.63L418.5 434.07L419.5 434.39L420.5 434.59L421.5 434.69L422.5 434.7L423.5 434.61L424.5 434.44L425.5 434.2L426.5 433.88L427.5 433.51L428.5 433.1L429.5 432.65L430.5 432.19L431.5 431.74L432.5 431.31L433.5 430.93L434.5 430.61L435.5 430.37L436.5 430.24L437.5 430.22L438.5 430.32L439.5 430.53L440.5 430.82L441.5 431.17L442.5 431.54L443.5 431.9L444.5 432.21L445.5 432.44L446.5 432.56L447.5 432.53L448.5 432.34L449.5 431.97L450.5 431.44L451.5 430.79L452.5 430.05L453.5 429.26L454.5 428.46L455.5 427.68L456.5 426.98L457.5 426.38L458.5 425.93L459.5 425.66L460.5 425.59L461.5 425.73L462.5 426.05L463.5 426.52L464.5 427.1L465.5 427.74L466.5 428.39L467.5 429.01L468.5 429.55L469.5 430L470.5 430.31L471.5 430.52L472.5 430.66L473.5 430.76L474.5 430.88L475.5 431.07L476.5 431.35L477.5 431.75L478.5 432.26L479.5 432.83L480.5 433.41L481.5 433.94L482.5 434.38L483.5 434.66L484.5 434.77L485.5 434.68L486.5 434.42L487.5 434.02L488.5 433.49L489.5 432.88L490.5 432.21L491.5 431.52L492.5 430.83L493.5 430.17L494.5 429.58L495.5 429.07L496.5 428.66L497.5 428.35L498.5 428.1L499.5 427.91L500.5 427.74L501.5 427.56L502.5 427.35L503.5 427.08L504.5 426.74L505.5 426.3L506.5 425.77L507.5 425.19L508.5 424.59L509.5 424L510.5 423.48L511.5 423.06L512.5 422.78L513.5 422.69L514.5 422.82L515.5 423.21L516.5 423.87L517.5 424.79L518.5 425.94L519.5 427.26L520.5 428.69L521.5 430.06L522.5 431.09L522.6 431.61" fill="none" stroke="#D358EA" stroke-width="1.7" stroke-dasharray="5 2.2"/>
<g opacity="0.52"><path d="M263.15 379V463" stroke="#000" stroke-width="1.7"/><path d="M290.46 379V463" stroke="#000" stroke-width="1.7"/><path d="M317.77 379V463" stroke="#000" stroke-width="1.7"/><path d="M345.08 379V463" stroke="#000" stroke-width="1.7"/><path d="M372.39 379V463" stroke="#000" stroke-width="1.7"/><path d="M399.7 379V463" stroke="#000" stroke-width="1.7"/><path d="M427.01 379V463" stroke="#000" stroke-width="1.7"/><path d="M454.32 379V463" stroke="#000" stroke-width="1.7"/><path d="M481.63 379V463" stroke="#000" stroke-width="1.7"/><path d="M508.94 379V463" stroke="#000" stroke-width="1.7"/></g>
<path d="M249.5 381.2V463" stroke="#000" stroke-width="1.45" stroke-dasharray="4.2 3.1"/><path d="M276.81 381.2V463" stroke="#000" stroke-width="1.45" stroke-dasharray="4.2 3.1"/><path d="M304.12 381.2V463" stroke="#000" stroke-width="1.45" stroke-dasharray="4.2 3.1"/><path d="M331.43 381.2V463" stroke="#000" stroke-width="1.45" stroke-dasharray="4.2 3.1"/><path d="M358.74 381.2V463" stroke="#000" stroke-width="1.45" stroke-dasharray="4.2 3.1"/><path d="M386.05 381.2V463" stroke="#000" stroke-width="1.45" stroke-dasharray="4.2 3.1"/><path d="M413.36 381.2V463" stroke="#000" stroke-width="1.45" stroke-dasharray="4.2 3.1"/><path d="M440.67 381.2V463" stroke="#000" stroke-width="1.45" stroke-dasharray="4.2 3.1"/><path d="M467.98 381.2V463" stroke="#000" stroke-width="1.45" stroke-dasharray="4.2 3.1"/><path d="M495.29 381.2V463" stroke="#000" stroke-width="1.45" stroke-dasharray="4.2 3.1"/>
<path d="M244.4 379 V463 H522.6" fill="none" stroke="#505050" stroke-width="1.2"/><path d="M244.4 379h2.4" stroke="#505050" stroke-width="1.1"/><path d="M244.4 407.2h2.4" stroke="#505050" stroke-width="1.1"/><path d="M244.4 435h2.4" stroke="#505050" stroke-width="1.1"/><path d="M244.4 463h2.4" stroke="#505050" stroke-width="1.1"/><text x="238.8" y="383.8" font-size="13.6" fill="#000" text-anchor="end" >0.06</text><text x="238.8" y="412" font-size="13.6" fill="#000" text-anchor="end" >0.04</text><text x="238.8" y="439.8" font-size="13.6" fill="#000" text-anchor="end" >0.02</text><text x="238.8" y="467.8" font-size="13.6" fill="#000" text-anchor="end" >0</text>
<text x="234" y="362.5" font-size="13.7" fill="#000" >a.u.</text>
<path d="M249.5 527.22L250.5 527.44L251.5 527.71L252.5 527.95L253.5 528.16L254.5 528.31L255.5 528.39L256.5 528.39L257.5 528.3L258.5 528.1L259.5 527.82L260.5 527.47L261.5 527.07L262.5 526.64L263.5 526.21L264.5 525.8L265.5 525.43L266.5 525.12L267.5 524.9L268.5 524.79L269.5 524.78L270.5 524.87L271.5 525.04L272.5 525.26L273.5 525.52L274.5 525.78L275.5 526.02L276.5 526.22L277.5 526.37L278.5 526.44L279.5 526.43L280.5 526.37L281.5 526.28L282.5 526.17L283.5 526.06L284.5 525.97L285.5 525.91L286.5 525.92L287.5 526.01L288.5 526.17L289.5 526.4L290.5 526.7L291.5 527.03L292.5 527.4L293.5 527.77L294.5 528.15L295.5 528.52L296.5 528.85L297.5 529.14L298.5 529.37L299.5 529.54L300.5 529.63L301.5 529.67L302.5 529.66L303.5 529.62L304.5 529.55L305.5 529.48L306.5 529.42L307.5 529.37L308.5 529.35L309.5 529.38L310.5 529.47L311.5 529.62L312.5 529.84L313.5 530.12L314.5 530.46L315.5 530.84L316.5 531.26L317.5 531.71L318.5 532.19L319.5 532.68L320.5 533.18L321.5 533.68L322.5 534.17L323.5 534.64L324.5 535.08L325.5 535.48L326.5 535.84L327.5 536.14L328.5 536.37L329.5 536.52L330.5 536.59L331.5 536.58L332.5 536.51L333.5 536.39L334.5 536.23L335.5 536.05L336.5 535.85L337.5 535.66L338.5 535.48L339.5 535.32L340.5 535.2L341.5 535.12L342.5 535.08L343.5 535.09L344.5 535.14L345.5 535.24L346.5 535.4L347.5 535.6L348.5 535.87L349.5 536.18L350.5 536.53L351.5 536.89L352.5 537.22L353.5 537.52L354.5 537.75L355.5 537.89L356.5 537.91L357.5 537.78L358.5 537.5L359.5 537.08L360.5 536.55L361.5 535.95L362.5 535.34L363.5 534.75L364.5 534.24L365.5 533.84L366.5 533.61L367.5 533.57L368.5 533.75L369.5 534.11L370.5 534.61L371.5 535.19L372.5 535.81L373.5 536.42L374.5 536.96L375.5 537.38L376.5 537.63L377.5 537.69L378.5 537.55L379.5 537.26L380.5 536.87L381.5 536.41L382.5 535.95L383.5 535.5L384.5 535.1L385.5 534.75L386.5 534.45L387.5 534.2L388.5 534.02L389.5 533.9L390.5 533.84L391.5 533.85L392.5 533.93L393.5 534.08L394.5 534.31L395.5 534.61L396.5 534.96L397.5 535.35L398.5 535.76L399.5 536.17L400.5 536.57L401.5 536.93L402.5 537.24L403.5 537.49L404.5 537.65L405.5 537.71L406.5 537.65L407.5 537.48L408.5 537.22L409.5 536.88L410.5 536.48L411.5 536.05L412.5 535.6L413.5 535.15L414.5 534.73L415.5 534.35L416.5 534.04L417.5 533.82L418.5 533.7L419.5 533.7L420.5 533.85L421.5 534.14L422.5 534.55L423.5 535.07L424.5 535.67L425.5 536.33L426.5 537.03L427.5 537.74L428.5 538.45L429.5 539.12L430.5 539.74L431.5 540.29L432.5 540.74L433.5 541.07L434.5 541.26L435.5 541.31L436.5 541.22L437.5 541.02L438.5 540.71L439.5 540.32L440.5 539.87L441.5 539.38L442.5 538.86L443.5 538.33L444.5 537.8L445.5 537.31L446.5 536.86L447.5 536.48L448.5 536.18L449.5 535.98L450.5 535.89L451.5 535.94L452.5 536.1L453.5 536.37L454.5 536.73L455.5 537.14L456.5 537.6L457.5 538.08L458.5 538.56L459.5 539.02L460.5 539.43L461.5 539.78L462.5 540.05L463.5 540.23L464.5 540.31L465.5 540.3L466.5 540.22L467.5 540.08L468.5 539.88L469.5 539.64L470.5 539.37L471.5 539.08L472.5 538.78L473.5 538.47L474.5 538.18L475.5 537.91L476.5 537.67L477.5 537.48L478.5 537.34L479.5 537.26L480.5 537.24L481.5 537.29L482.5 537.39L483.5 537.53L484.5 537.72L485.5 537.94L486.5 538.19L487.5 538.46L488.5 538.75L489.5 539.04L490.5 539.34L491.5 539.63L492.5 539.9L493.5 540.16L494.5 540.4L495.5 540.61L496.5 540.81L497.5 540.99L498.5 541.14L499.5 541.29L500.5 541.41L501.5 541.53L502.5 541.63L503.5 541.72L504.5 541.8L505.5 541.87L506.5 541.93L507.5 541.99L508.5 542.04L509.5 542.09L510.5 542.13L511.5 542.17L512.5 542.21L513.5 542.24L514.5 542.27L515.5 542.3L516.5 542.33L517.5 542.35L518.5 542.37L519.5 542.39L520.5 542.41L521.5 542.43L522.5 542.45L522.6 542.45L522.6 548.35L522.5 548.35L521.5 548.36L520.5 548.36L519.5 548.37L518.5 548.38L517.5 548.38L516.5 548.39L515.5 548.39L514.5 548.39L513.5 548.39L512.5 548.39L511.5 548.39L510.5 548.38L509.5 548.37L508.5 548.36L507.5 548.35L506.5 548.33L505.5 548.31L504.5 548.28L503.5 548.25L502.5 548.21L501.5 548.16L500.5 548.09L499.5 548.02L498.5 547.93L497.5 547.82L496.5 547.7L495.5 547.56L494.5 547.4L493.5 547.22L492.5 547.02L491.5 546.8L490.5 546.57L489.5 546.33L488.5 546.09L487.5 545.86L486.5 545.63L485.5 545.42L484.5 545.23L483.5 545.07L482.5 544.94L481.5 544.85L480.5 544.81L479.5 544.81L478.5 544.87L477.5 544.98L476.5 545.13L475.5 545.31L474.5 545.53L473.5 545.76L472.5 546L471.5 546.24L470.5 546.46L469.5 546.67L468.5 546.86L467.5 547L466.5 547.1L465.5 547.15L464.5 547.14L463.5 547.06L462.5 546.93L461.5 546.76L460.5 546.55L459.5 546.32L458.5 546.07L457.5 545.82L456.5 545.58L455.5 545.36L454.5 545.16L453.5 545L452.5 544.89L451.5 544.83L450.5 544.84L449.5 544.92L448.5 545.07L447.5 545.26L446.5 545.5L445.5 545.78L444.5 546.08L443.5 546.39L442.5 546.71L441.5 547.03L440.5 547.33L439.5 547.61L438.5 547.86L437.5 548.07L436.5 548.22L435.5 548.31L434.5 548.33L433.5 548.27L432.5 548.14L431.5 547.93L430.5 547.66L429.5 547.33L428.5 546.94L427.5 546.51L426.5 546.04L425.5 545.53L424.5 544.99L423.5 544.43L422.5 543.86L421.5 543.28L420.5 542.69L419.5 542.11L418.5 541.54L417.5 540.99L416.5 540.46L415.5 539.97L414.5 539.53L413.5 539.13L412.5 538.8L411.5 538.54L410.5 538.35L409.5 538.24L408.5 538.23L407.5 538.31L406.5 538.49L405.5 538.74L404.5 539.06L403.5 539.43L402.5 539.84L401.5 540.28L400.5 540.74L399.5 541.2L398.5 541.64L397.5 542.06L396.5 542.45L395.5 542.78L394.5 543.06L393.5 543.26L392.5 543.39L391.5 543.47L390.5 543.49L389.5 543.48L388.5 543.45L387.5 543.4L386.5 543.36L385.5 543.33L384.5 543.32L383.5 543.35L382.5 543.43L381.5 543.53L380.5 543.61L379.5 543.61L378.5 543.49L377.5 543.24L376.5 542.88L375.5 542.45L374.5 542L373.5 541.56L372.5 541.16L371.5 540.85L370.5 540.66L369.5 540.63L368.5 540.76L367.5 541.03L366.5 541.41L365.5 541.84L364.5 542.3L363.5 542.74L362.5 543.13L361.5 543.41L360.5 543.57L359.5 543.56L358.5 543.4L357.5 543.11L356.5 542.74L355.5 542.31L354.5 541.86L353.5 541.42L352.5 541.04L351.5 540.74L350.5 540.56L349.5 540.5L348.5 540.55L347.5 540.7L346.5 540.92L345.5 541.2L344.5 541.51L343.5 541.83L342.5 542.14L341.5 542.42L340.5 542.65L339.5 542.83L338.5 542.97L337.5 543.05L336.5 543.08L335.5 543.06L334.5 542.99L333.5 542.87L332.5 542.71L331.5 542.49L330.5 542.23L329.5 541.93L328.5 541.58L327.5 541.2L326.5 540.8L325.5 540.38L324.5 539.95L323.5 539.54L322.5 539.13L321.5 538.76L320.5 538.42L319.5 538.12L318.5 537.88L317.5 537.71L316.5 537.59L315.5 537.53L314.5 537.52L313.5 537.53L312.5 537.55L311.5 537.59L310.5 537.61L309.5 537.6L308.5 537.57L307.5 537.48L306.5 537.33L305.5 537.11L304.5 536.83L303.5 536.5L302.5 536.13L301.5 535.74L300.5 535.36L299.5 534.99L298.5 534.67L297.5 534.4L296.5 534.21L295.5 534.1L294.5 534.07L293.5 534.1L292.5 534.2L291.5 534.36L290.5 534.55L289.5 534.78L288.5 535.03L287.5 535.29L286.5 535.55L285.5 535.81L284.5 536.06L283.5 536.27L282.5 536.45L281.5 536.59L280.5 536.67L279.5 536.69L278.5 536.63L277.5 536.49L276.5 536.27L275.5 536L274.5 535.68L273.5 535.35L272.5 535.02L271.5 534.72L270.5 534.48L269.5 534.31L268.5 534.24L267.5 534.28L266.5 534.42L265.5 534.66L264.5 534.98L263.5 535.35L262.5 535.76L261.5 536.19L260.5 536.63L259.5 537.05L258.5 537.44L257.5 537.78L256.5 538.06L255.5 538.29L254.5 538.46L253.5 538.6L252.5 538.71L251.5 538.79L250.5 538.85L249.5 538.9Z" fill="#7DFBFF" fill-opacity="1"/>
<path d="M249.5 538.9L250.5 538.85L251.5 538.79L252.5 538.71L253.5 538.6L254.5 538.46L255.5 538.29L256.5 538.06L257.5 537.78L258.5 537.44L259.5 537.05L260.5 536.63L261.5 536.19L262.5 535.76L263.5 535.35L264.5 534.98L265.5 534.66L266.5 534.42L267.5 534.28L268.5 534.24L269.5 534.31L270.5 534.48L271.5 534.72L272.5 535.02L273.5 535.35L274.5 535.68L275.5 536L276.5 536.27L277.5 536.49L278.5 536.63L279.5 536.69L280.5 536.67L281.5 536.59L282.5 536.45L283.5 536.27L284.5 536.06L285.5 535.81L286.5 535.55L287.5 535.29L288.5 535.03L289.5 534.78L290.5 534.55L291.5 534.36L292.5 534.2L293.5 534.1L294.5 534.07L295.5 534.1L296.5 534.21L297.5 534.4L298.5 534.67L299.5 534.99L300.5 535.36L301.5 535.74L302.5 536.13L303.5 536.5L304.5 536.83L305.5 537.11L306.5 537.33L307.5 537.48L308.5 537.57L309.5 537.6L310.5 537.61L311.5 537.59L312.5 537.55L313.5 537.53L314.5 537.52L315.5 537.53L316.5 537.59L317.5 537.71L318.5 537.88L319.5 538.12L320.5 538.42L321.5 538.76L322.5 539.13L323.5 539.54L324.5 539.95L325.5 540.38L326.5 540.8L327.5 541.2L328.5 541.58L329.5 541.93L330.5 542.23L331.5 542.49L332.5 542.71L333.5 542.87L334.5 542.99L335.5 543.06L336.5 543.08L337.5 543.05L338.5 542.97L339.5 542.83L340.5 542.65L341.5 542.42L342.5 542.14L343.5 541.83L344.5 541.51L345.5 541.2L346.5 540.92L347.5 540.7L348.5 540.55L349.5 540.5L350.5 540.56L351.5 540.74L352.5 541.04L353.5 541.42L354.5 541.86L355.5 542.31L356.5 542.74L357.5 543.11L358.5 543.4L359.5 543.56L360.5 543.57L361.5 543.41L362.5 543.13L363.5 542.74L364.5 542.3L365.5 541.84L366.5 541.41L367.5 541.03L368.5 540.76L369.5 540.63L370.5 540.66L371.5 540.85L372.5 541.16L373.5 541.56L374.5 542L375.5 542.45L376.5 542.88L377.5 543.24L378.5 543.49L379.5 543.61L380.5 543.61L381.5 543.53L382.5 543.43L383.5 543.35L384.5 543.32L385.5 543.33L386.5 543.36L387.5 543.4L388.5 543.45L389.5 543.48L390.5 543.49L391.5 543.47L392.5 543.39L393.5 543.26L394.5 543.06L395.5 542.78L396.5 542.45L397.5 542.06L398.5 541.64L399.5 541.2L400.5 540.74L401.5 540.28L402.5 539.84L403.5 539.43L404.5 539.06L405.5 538.74L406.5 538.49L407.5 538.31L408.5 538.23L409.5 538.24L410.5 538.35L411.5 538.54L412.5 538.8L413.5 539.13L414.5 539.53L415.5 539.97L416.5 540.46L417.5 540.99L418.5 541.54L419.5 542.11L420.5 542.69L421.5 543.28L422.5 543.86L423.5 544.43L424.5 544.99L425.5 545.53L426.5 546.04L427.5 546.51L428.5 546.94L429.5 547.33L430.5 547.66L431.5 547.93L432.5 548.14L433.5 548.27L434.5 548.33L435.5 548.31L436.5 548.22L437.5 548.07L438.5 547.86L439.5 547.61L440.5 547.33L441.5 547.03L442.5 546.71L443.5 546.39L444.5 546.08L445.5 545.78L446.5 545.5L447.5 545.26L448.5 545.07L449.5 544.92L450.5 544.84L451.5 544.83L452.5 544.89L453.5 545L454.5 545.16L455.5 545.36L456.5 545.58L457.5 545.82L458.5 546.07L459.5 546.32L460.5 546.55L461.5 546.76L462.5 546.93L463.5 547.06L464.5 547.14L465.5 547.15L466.5 547.1L467.5 547L468.5 546.86L469.5 546.67L470.5 546.46L471.5 546.24L472.5 546L473.5 545.76L474.5 545.53L475.5 545.31L476.5 545.13L477.5 544.98L478.5 544.87L479.5 544.81L480.5 544.81L481.5 544.85L482.5 544.94L483.5 545.07L484.5 545.23L485.5 545.42L486.5 545.63L487.5 545.86L488.5 546.09L489.5 546.33L490.5 546.57L491.5 546.8L492.5 547.02L493.5 547.22L494.5 547.4L495.5 547.56L496.5 547.7L497.5 547.82L498.5 547.93L499.5 548.02L500.5 548.09L501.5 548.16L502.5 548.21L503.5 548.25L504.5 548.28L505.5 548.31L506.5 548.33L507.5 548.35L508.5 548.36L509.5 548.37L510.5 548.38L511.5 548.39L512.5 548.39L513.5 548.39L514.5 548.39L515.5 548.39L516.5 548.39L517.5 548.38L518.5 548.38L519.5 548.37L520.5 548.36L521.5 548.36L522.5 548.35L522.6 548.35L522.6 579.01L522.5 578.97L521.5 578.86L520.5 578.71L519.5 578.57L518.5 578.42L517.5 578.29L516.5 578.17L515.5 578.06L514.5 577.96L513.5 577.88L512.5 577.81L511.5 577.77L510.5 577.75L509.5 577.75L508.5 577.77L507.5 577.83L506.5 577.91L505.5 578.02L504.5 578.14L503.5 578.28L502.5 578.43L501.5 578.57L500.5 578.71L499.5 578.84L498.5 578.95L497.5 579.04L496.5 579.09L495.5 579.11L494.5 579.09L493.5 579.02L492.5 578.9L491.5 578.74L490.5 578.53L489.5 578.29L488.5 578.04L487.5 577.78L486.5 577.52L485.5 577.28L484.5 577.05L483.5 576.86L482.5 576.72L481.5 576.62L480.5 576.59L479.5 576.63L478.5 576.76L477.5 576.95L476.5 577.22L475.5 577.53L474.5 577.88L473.5 578.25L472.5 578.63L471.5 579L470.5 579.34L469.5 579.65L468.5 579.9L467.5 580.09L466.5 580.19L465.5 580.2L464.5 580.1L463.5 579.89L462.5 579.58L461.5 579.2L460.5 578.76L459.5 578.28L458.5 577.77L457.5 577.26L456.5 576.76L455.5 576.29L454.5 575.87L453.5 575.52L452.5 575.25L451.5 575.09L450.5 575.04L449.5 575.11L448.5 575.29L447.5 575.56L446.5 575.91L445.5 576.3L444.5 576.73L443.5 577.17L442.5 577.6L441.5 578L440.5 578.36L439.5 578.66L438.5 578.87L437.5 578.97L436.5 578.96L435.5 578.82L434.5 578.56L433.5 578.2L432.5 577.75L431.5 577.25L430.5 576.71L429.5 576.14L428.5 575.57L427.5 575.01L426.5 574.49L425.5 574.03L424.5 573.64L423.5 573.34L422.5 573.16L421.5 573.1L420.5 573.15L419.5 573.3L418.5 573.53L417.5 573.83L416.5 574.18L415.5 574.55L414.5 574.95L413.5 575.33L412.5 575.7L411.5 576.03L410.5 576.3L409.5 576.5L408.5 576.61L407.5 576.62L406.5 576.53L405.5 576.36L404.5 576.12L403.5 575.83L402.5 575.5L401.5 575.14L400.5 574.77L399.5 574.4L398.5 574.06L397.5 573.75L396.5 573.49L395.5 573.29L394.5 573.16L393.5 573.13L392.5 573.18L391.5 573.31L390.5 573.49L389.5 573.73L388.5 573.99L387.5 574.28L386.5 574.57L385.5 574.84L384.5 575.1L383.5 575.31L382.5 575.48L381.5 575.57L380.5 575.58L379.5 575.49L378.5 575.29L377.5 575L376.5 574.63L375.5 574.23L374.5 573.81L373.5 573.42L372.5 573.08L371.5 572.83L370.5 572.7L369.5 572.71L368.5 572.86L367.5 573.14L366.5 573.51L365.5 573.93L364.5 574.36L363.5 574.76L362.5 575.1L361.5 575.33L360.5 575.42L359.5 575.34L358.5 575.12L357.5 574.77L356.5 574.33L355.5 573.84L354.5 573.34L353.5 572.86L352.5 572.44L351.5 572.12L350.5 571.93L349.5 571.88L348.5 571.95L347.5 572.14L346.5 572.41L345.5 572.74L344.5 573.12L343.5 573.52L342.5 573.92L341.5 574.29L340.5 574.62L339.5 574.88L338.5 575.06L337.5 575.15L336.5 575.15L335.5 575.08L334.5 574.94L333.5 574.75L332.5 574.5L331.5 574.21L330.5 573.88L329.5 573.54L328.5 573.17L327.5 572.8L326.5 572.43L325.5 572.08L324.5 571.74L323.5 571.44L322.5 571.18L321.5 570.97L320.5 570.81L319.5 570.72L318.5 570.68L317.5 570.69L316.5 570.73L315.5 570.79L314.5 570.83L313.5 570.87L312.5 570.86L311.5 570.81L310.5 570.7L309.5 570.51L308.5 570.27L307.5 569.98L306.5 569.65L305.5 569.3L304.5 568.93L303.5 568.56L302.5 568.21L301.5 567.88L300.5 567.59L299.5 567.34L298.5 567.16L297.5 567.04L296.5 566.98L295.5 566.97L294.5 567.02L293.5 567.11L292.5 567.24L291.5 567.4L290.5 567.6L289.5 567.82L288.5 568.06L287.5 568.31L286.5 568.57L285.5 568.84L284.5 569.09L283.5 569.31L282.5 569.5L281.5 569.64L280.5 569.72L279.5 569.73L278.5 569.66L277.5 569.5L276.5 569.24L275.5 568.91L274.5 568.52L273.5 568.09L272.5 567.64L271.5 567.2L270.5 566.79L269.5 566.42L268.5 566.12L267.5 565.89L266.5 565.75L265.5 565.69L264.5 565.69L263.5 565.74L262.5 565.85L261.5 565.99L260.5 566.17L259.5 566.37L258.5 566.57L257.5 566.78L256.5 566.99L255.5 567.2L254.5 567.4L253.5 567.6L252.5 567.8L251.5 567.99L250.5 568.19L249.5 568.33Z" fill="#1FE0F0" fill-opacity="1"/>
<path d="M249.5 568.33L250.5 568.19L251.5 567.99L252.5 567.8L253.5 567.6L254.5 567.4L255.5 567.2L256.5 566.99L257.5 566.78L258.5 566.57L259.5 566.37L260.5 566.17L261.5 565.99L262.5 565.85L263.5 565.74L264.5 565.69L265.5 565.69L266.5 565.75L267.5 565.89L268.5 566.12L269.5 566.42L270.5 566.79L271.5 567.2L272.5 567.64L273.5 568.09L274.5 568.52L275.5 568.91L276.5 569.24L277.5 569.5L278.5 569.66L279.5 569.73L280.5 569.72L281.5 569.64L282.5 569.5L283.5 569.31L284.5 569.09L285.5 568.84L286.5 568.57L287.5 568.31L288.5 568.06L289.5 567.82L290.5 567.6L291.5 567.4L292.5 567.24L293.5 567.11L294.5 567.02L295.5 566.97L296.5 566.98L297.5 567.04L298.5 567.16L299.5 567.34L300.5 567.59L301.5 567.88L302.5 568.21L303.5 568.56L304.5 568.93L305.5 569.3L306.5 569.65L307.5 569.98L308.5 570.27L309.5 570.51L310.5 570.7L311.5 570.81L312.5 570.86L313.5 570.87L314.5 570.83L315.5 570.79L316.5 570.73L317.5 570.69L318.5 570.68L319.5 570.72L320.5 570.81L321.5 570.97L322.5 571.18L323.5 571.44L324.5 571.74L325.5 572.08L326.5 572.43L327.5 572.8L328.5 573.17L329.5 573.54L330.5 573.88L331.5 574.21L332.5 574.5L333.5 574.75L334.5 574.94L335.5 575.08L336.5 575.15L337.5 575.15L338.5 575.06L339.5 574.88L340.5 574.62L341.5 574.29L342.5 573.92L343.5 573.52L344.5 573.12L345.5 572.74L346.5 572.41L347.5 572.14L348.5 571.95L349.5 571.88L350.5 571.93L351.5 572.12L352.5 572.44L353.5 572.86L354.5 573.34L355.5 573.84L356.5 574.33L357.5 574.77L358.5 575.12L359.5 575.34L360.5 575.42L361.5 575.33L362.5 575.1L363.5 574.76L364.5 574.36L365.5 573.93L366.5 573.51L367.5 573.14L368.5 572.86L369.5 572.71L370.5 572.7L371.5 572.83L372.5 573.08L373.5 573.42L374.5 573.81L375.5 574.23L376.5 574.63L377.5 575L378.5 575.29L379.5 575.49L380.5 575.58L381.5 575.57L382.5 575.48L383.5 575.31L384.5 575.1L385.5 574.84L386.5 574.57L387.5 574.28L388.5 573.99L389.5 573.73L390.5 573.49L391.5 573.31L392.5 573.18L393.5 573.13L394.5 573.16L395.5 573.29L396.5 573.49L397.5 573.75L398.5 574.06L399.5 574.4L400.5 574.77L401.5 575.14L402.5 575.5L403.5 575.83L404.5 576.12L405.5 576.36L406.5 576.53L407.5 576.62L408.5 576.61L409.5 576.5L410.5 576.3L411.5 576.03L412.5 575.7L413.5 575.33L414.5 574.95L415.5 574.55L416.5 574.18L417.5 573.83L418.5 573.53L419.5 573.3L420.5 573.15L421.5 573.1L422.5 573.16L423.5 573.34L424.5 573.64L425.5 574.03L426.5 574.49L427.5 575.01L428.5 575.57L429.5 576.14L430.5 576.71L431.5 577.25L432.5 577.75L433.5 578.2L434.5 578.56L435.5 578.82L436.5 578.96L437.5 578.97L438.5 578.87L439.5 578.66L440.5 578.36L441.5 578L442.5 577.6L443.5 577.17L444.5 576.73L445.5 576.3L446.5 575.91L447.5 575.56L448.5 575.29L449.5 575.11L450.5 575.04L451.5 575.09L452.5 575.25L453.5 575.52L454.5 575.87L455.5 576.29L456.5 576.76L457.5 577.26L458.5 577.77L459.5 578.28L460.5 578.76L461.5 579.2L462.5 579.58L463.5 579.89L464.5 580.1L465.5 580.2L466.5 580.19L467.5 580.09L468.5 579.9L469.5 579.65L470.5 579.34L471.5 579L472.5 578.63L473.5 578.25L474.5 577.88L475.5 577.53L476.5 577.22L477.5 576.95L478.5 576.76L479.5 576.63L480.5 576.59L481.5 576.62L482.5 576.72L483.5 576.86L484.5 577.05L485.5 577.28L486.5 577.52L487.5 577.78L488.5 578.04L489.5 578.29L490.5 578.53L491.5 578.74L492.5 578.9L493.5 579.02L494.5 579.09L495.5 579.11L496.5 579.09L497.5 579.04L498.5 578.95L499.5 578.84L500.5 578.71L501.5 578.57L502.5 578.43L503.5 578.28L504.5 578.14L505.5 578.02L506.5 577.91L507.5 577.83L508.5 577.77L509.5 577.75L510.5 577.75L511.5 577.77L512.5 577.81L513.5 577.88L514.5 577.96L515.5 578.06L516.5 578.17L517.5 578.29L518.5 578.42L519.5 578.57L520.5 578.71L521.5 578.86L522.5 578.97L522.6 579.01L522.6 591.51L522.5 591.48L521.5 591.39L520.5 591.27L519.5 591.14L518.5 591.02L517.5 590.89L516.5 590.77L515.5 590.64L514.5 590.52L513.5 590.39L512.5 590.27L511.5 590.14L510.5 590.02L509.5 589.89L508.5 589.77L507.5 589.64L506.5 589.51L505.5 589.39L504.5 589.26L503.5 589.14L502.5 589.01L501.5 588.88L500.5 588.75L499.5 588.62L498.5 588.48L497.5 588.35L496.5 588.21L495.5 588.07L494.5 587.92L493.5 587.78L492.5 587.63L491.5 587.48L490.5 587.33L489.5 587.19L488.5 587.06L487.5 586.94L486.5 586.83L485.5 586.74L484.5 586.67L483.5 586.63L482.5 586.61L481.5 586.63L480.5 586.67L479.5 586.76L478.5 586.88L477.5 587.03L476.5 587.21L475.5 587.41L474.5 587.62L473.5 587.83L472.5 588.04L471.5 588.22L470.5 588.39L469.5 588.51L468.5 588.6L467.5 588.63L466.5 588.61L465.5 588.51L464.5 588.34L463.5 588.09L462.5 587.78L461.5 587.42L460.5 587.01L459.5 586.56L458.5 586.1L457.5 585.62L456.5 585.15L455.5 584.69L454.5 584.26L453.5 583.86L452.5 583.51L451.5 583.22L450.5 582.99L449.5 582.84L448.5 582.76L447.5 582.75L446.5 582.8L445.5 582.9L444.5 583.06L443.5 583.26L442.5 583.49L441.5 583.76L440.5 584.06L439.5 584.38L438.5 584.72L437.5 585.06L436.5 585.41L435.5 585.77L434.5 586.11L433.5 586.45L432.5 586.76L431.5 587.06L430.5 587.32L429.5 587.55L428.5 587.74L427.5 587.89L426.5 587.98L425.5 588.02L424.5 587.99L423.5 587.89L422.5 587.72L421.5 587.48L420.5 587.17L419.5 586.8L418.5 586.4L417.5 585.96L416.5 585.52L415.5 585.07L414.5 584.63L413.5 584.23L412.5 583.86L411.5 583.54L410.5 583.3L409.5 583.13L408.5 583.06L407.5 583.08L406.5 583.2L405.5 583.4L404.5 583.67L403.5 584L402.5 584.36L401.5 584.74L400.5 585.13L399.5 585.51L398.5 585.86L397.5 586.18L396.5 586.44L395.5 586.63L394.5 586.74L393.5 586.76L392.5 586.68L391.5 586.52L390.5 586.29L389.5 585.99L388.5 585.65L387.5 585.28L386.5 584.89L385.5 584.48L384.5 584.08L383.5 583.7L382.5 583.35L381.5 583.03L380.5 582.77L379.5 582.56L378.5 582.4L377.5 582.29L376.5 582.23L375.5 582.22L374.5 582.26L373.5 582.35L372.5 582.49L371.5 582.67L370.5 582.89L369.5 583.14L368.5 583.4L367.5 583.68L366.5 583.95L365.5 584.2L364.5 584.43L363.5 584.63L362.5 584.77L361.5 584.86L360.5 584.89L359.5 584.84L358.5 584.73L357.5 584.57L356.5 584.38L355.5 584.19L354.5 584.01L353.5 583.86L352.5 583.76L351.5 583.73L350.5 583.79L349.5 583.93L348.5 584.14L347.5 584.41L346.5 584.72L345.5 585.04L344.5 585.35L343.5 585.64L342.5 585.87L341.5 586.05L340.5 586.14L339.5 586.16L338.5 586.1L337.5 585.97L336.5 585.79L335.5 585.57L334.5 585.3L333.5 585.01L332.5 584.69L331.5 584.36L330.5 584.02L329.5 583.69L328.5 583.37L327.5 583.06L326.5 582.76L325.5 582.48L324.5 582.23L323.5 581.99L322.5 581.77L321.5 581.58L320.5 581.42L319.5 581.29L318.5 581.18L317.5 581.09L316.5 581.01L315.5 580.95L314.5 580.9L313.5 580.84L312.5 580.78L311.5 580.71L310.5 580.63L309.5 580.54L308.5 580.43L307.5 580.32L306.5 580.21L305.5 580.09L304.5 579.99L303.5 579.89L302.5 579.81L301.5 579.75L300.5 579.72L299.5 579.72L298.5 579.75L297.5 579.8L296.5 579.89L295.5 579.98L294.5 580.09L293.5 580.19L292.5 580.27L291.5 580.34L290.5 580.38L289.5 580.37L288.5 580.32L287.5 580.22L286.5 580.05L285.5 579.83L284.5 579.56L283.5 579.27L282.5 578.96L281.5 578.67L280.5 578.39L279.5 578.15L278.5 577.96L277.5 577.83L276.5 577.78L275.5 577.79L274.5 577.86L273.5 577.98L272.5 578.14L271.5 578.33L270.5 578.54L269.5 578.75L268.5 578.96L267.5 579.17L266.5 579.37L265.5 579.55L264.5 579.73L263.5 579.91L262.5 580.08L261.5 580.24L260.5 580.41L259.5 580.58L258.5 580.75L257.5 580.93L256.5 581.12L255.5 581.31L254.5 581.5L253.5 581.7L252.5 581.91L251.5 582.12L250.5 582.32L249.5 582.48Z" fill="#00B2D4" fill-opacity="1"/>
<path d="M249.5 547.84L250.5 547.76L251.5 547.64L252.5 547.51L253.5 547.36L254.5 547.2L255.5 547L256.5 546.77L257.5 546.5L258.5 546.2L259.5 545.88L260.5 545.56L261.5 545.26L262.5 545.02L263.5 544.85L264.5 544.77L265.5 544.79L266.5 544.87L267.5 545.02L268.5 545.22L269.5 545.45L270.5 545.7L271.5 545.95L272.5 546.19L273.5 546.4L274.5 546.57L275.5 546.69L276.5 546.75L277.5 546.75L278.5 546.71L279.5 546.65L280.5 546.56L281.5 546.47L282.5 546.39L283.5 546.33L284.5 546.3L285.5 546.32L286.5 546.4L287.5 546.54L288.5 546.75L289.5 547.02L290.5 547.32L291.5 547.65L292.5 547.98L293.5 548.3L294.5 548.59L295.5 548.84L296.5 549.02L297.5 549.13L298.5 549.17L299.5 549.16L300.5 549.11L301.5 549.04L302.5 548.96L303.5 548.89L304.5 548.84L305.5 548.83L306.5 548.86L307.5 548.93L308.5 549.04L309.5 549.19L310.5 549.37L311.5 549.58L312.5 549.83L313.5 550.1L314.5 550.4L315.5 550.72L316.5 551.07L317.5 551.42L318.5 551.79L319.5 552.15L320.5 552.5L321.5 552.84L322.5 553.15L323.5 553.43L324.5 553.67L325.5 553.87L326.5 554.02L327.5 554.12L328.5 554.17L329.5 554.19L330.5 554.17L331.5 554.11L332.5 554.01L333.5 553.89L334.5 553.74L335.5 553.57L336.5 553.38L337.5 553.18L338.5 552.99L339.5 552.81L340.5 552.65L341.5 552.51L342.5 552.42L343.5 552.38L344.5 552.39L345.5 552.46L346.5 552.58L347.5 552.76L348.5 552.99L349.5 553.27L350.5 553.61L351.5 553.98L352.5 554.4L353.5 554.86L354.5 555.34L355.5 555.8L356.5 556.18L357.5 556.45L358.5 556.56L359.5 556.47L360.5 556.18L361.5 555.73L362.5 555.15L363.5 554.52L364.5 553.87L365.5 553.26L366.5 552.75L367.5 552.37L368.5 552.16L369.5 552.11L370.5 552.2L371.5 552.42L372.5 552.73L373.5 553.13L374.5 553.58L375.5 554.06L376.5 554.57L377.5 555.06L378.5 555.52L379.5 555.93L380.5 556.25L381.5 556.47L382.5 556.56L383.5 556.51L384.5 556.34L385.5 556.07L386.5 555.72L387.5 555.33L388.5 554.93L389.5 554.53L390.5 554.17L391.5 553.87L392.5 553.66L393.5 553.55L394.5 553.52L395.5 553.57L396.5 553.71L397.5 553.92L398.5 554.19L399.5 554.53L400.5 554.91L401.5 555.34L402.5 555.79L403.5 556.23L404.5 556.66L405.5 557.04L406.5 557.36L407.5 557.6L408.5 557.73L409.5 557.74L410.5 557.61L411.5 557.37L412.5 557.02L413.5 556.6L414.5 556.12L415.5 555.62L416.5 555.1L417.5 554.6L418.5 554.13L419.5 553.73L420.5 553.41L421.5 553.2L422.5 553.11L423.5 553.16L424.5 553.35L425.5 553.66L426.5 554.07L427.5 554.57L428.5 555.15L429.5 555.79L430.5 556.47L431.5 557.17L432.5 557.88L433.5 558.57L434.5 559.21L435.5 559.78L436.5 560.24L437.5 560.58L438.5 560.76L439.5 560.78L440.5 560.62L441.5 560.32L442.5 559.91L443.5 559.41L444.5 558.86L445.5 558.29L446.5 557.73L447.5 557.21L448.5 556.77L449.5 556.42L450.5 556.21L451.5 556.15L452.5 556.24L453.5 556.46L454.5 556.79L455.5 557.19L456.5 557.65L457.5 558.13L458.5 558.62L459.5 559.08L460.5 559.5L461.5 559.85L462.5 560.1L463.5 560.23L464.5 560.27L465.5 560.2L466.5 560.05L467.5 559.83L468.5 559.55L469.5 559.23L470.5 558.88L471.5 558.51L472.5 558.14L473.5 557.79L474.5 557.46L475.5 557.16L476.5 556.92L477.5 556.75L478.5 556.65L479.5 556.64L480.5 556.73L481.5 556.89L482.5 557.13L483.5 557.42L484.5 557.76L485.5 558.13L486.5 558.52L487.5 558.91L488.5 559.3L489.5 559.68L490.5 560.02L491.5 560.32L492.5 560.57L493.5 560.78L494.5 560.95L495.5 561.07L496.5 561.15L497.5 561.19L498.5 561.2L499.5 561.17L500.5 561.1L501.5 561L502.5 560.86L503.5 560.7L504.5 560.52L505.5 560.32L506.5 560.12L507.5 559.93L508.5 559.76L509.5 559.62L510.5 559.52L511.5 559.46L512.5 559.46L513.5 559.52L514.5 559.64L515.5 559.8L516.5 560.01L517.5 560.25L518.5 560.53L519.5 560.82L520.5 561.14L521.5 561.46L522.5 561.7L522.6 561.79" fill="none" stroke="#1EA5FF" stroke-width="1.8" stroke-dasharray="5.5 2.5"/>
<path d="M249.5 560.74L250.5 560.5L251.5 560.2L252.5 559.89L253.5 559.59L254.5 559.3L255.5 559.03L256.5 558.77L257.5 558.54L258.5 558.32L259.5 558.13L260.5 557.93L261.5 557.74L262.5 557.54L263.5 557.32L264.5 557.08L265.5 556.83L266.5 556.57L267.5 556.31L268.5 556.07L269.5 555.85L270.5 555.67L271.5 555.54L272.5 555.47L273.5 555.47L274.5 555.55L275.5 555.72L276.5 555.97L277.5 556.3L278.5 556.66L279.5 557.05L280.5 557.41L281.5 557.74L282.5 558L283.5 558.18L284.5 558.27L285.5 558.29L286.5 558.24L287.5 558.14L288.5 557.99L289.5 557.8L290.5 557.59L291.5 557.36L292.5 557.12L293.5 556.89L294.5 556.66L295.5 556.45L296.5 556.27L297.5 556.12L298.5 556.01L299.5 555.95L300.5 555.95L301.5 556.02L302.5 556.16L303.5 556.37L304.5 556.65L305.5 556.98L306.5 557.35L307.5 557.73L308.5 558.13L309.5 558.51L310.5 558.86L311.5 559.18L312.5 559.46L313.5 559.7L314.5 559.89L315.5 560.05L316.5 560.18L317.5 560.27L318.5 560.33L319.5 560.36L320.5 560.37L321.5 560.36L322.5 560.33L323.5 560.31L324.5 560.28L325.5 560.28L326.5 560.3L327.5 560.35L328.5 560.44L329.5 560.59L330.5 560.8L331.5 561.07L332.5 561.39L333.5 561.76L334.5 562.15L335.5 562.54L336.5 562.91L337.5 563.25L338.5 563.53L339.5 563.74L340.5 563.87L341.5 563.92L342.5 563.91L343.5 563.83L344.5 563.69L345.5 563.51L346.5 563.28L347.5 563.02L348.5 562.73L349.5 562.41L350.5 562.09L351.5 561.78L352.5 561.49L353.5 561.23L354.5 561.02L355.5 560.88L356.5 560.81L357.5 560.84L358.5 560.97L359.5 561.19L360.5 561.49L361.5 561.85L362.5 562.22L363.5 562.6L364.5 562.96L365.5 563.27L366.5 563.51L367.5 563.66L368.5 563.7L369.5 563.65L370.5 563.52L371.5 563.32L372.5 563.07L373.5 562.78L374.5 562.48L375.5 562.17L376.5 561.88L377.5 561.62L378.5 561.38L379.5 561.17L380.5 560.97L381.5 560.79L382.5 560.61L383.5 560.46L384.5 560.36L385.5 560.38L386.5 560.56L387.5 560.89L388.5 561.34L389.5 561.87L390.5 562.44L391.5 562.99L392.5 563.5L393.5 563.91L394.5 564.18L395.5 564.3L396.5 564.28L397.5 564.14L398.5 563.89L399.5 563.56L400.5 563.17L401.5 562.74L402.5 562.29L403.5 561.84L404.5 561.4L405.5 561L406.5 560.66L407.5 560.39L408.5 560.2L409.5 560.12L410.5 560.17L411.5 560.33L412.5 560.62L413.5 561L414.5 561.45L415.5 561.95L416.5 562.47L417.5 562.99L418.5 563.47L419.5 563.9L420.5 564.26L421.5 564.53L422.5 564.73L423.5 564.85L424.5 564.92L425.5 564.95L426.5 564.93L427.5 564.9L428.5 564.85L429.5 564.8L430.5 564.76L431.5 564.74L432.5 564.75L433.5 564.8L434.5 564.91L435.5 565.07L436.5 565.27L437.5 565.52L438.5 565.79L439.5 566.08L440.5 566.38L441.5 566.68L442.5 566.97L443.5 567.24L444.5 567.47L445.5 567.67L446.5 567.81L447.5 567.89L448.5 567.9L449.5 567.84L450.5 567.71L451.5 567.53L452.5 567.31L453.5 567.07L454.5 566.81L455.5 566.56L456.5 566.32L457.5 566.11L458.5 565.94L459.5 565.81L460.5 565.73L461.5 565.68L462.5 565.66L463.5 565.68L464.5 565.73L465.5 565.81L466.5 565.91L467.5 566.04L468.5 566.18L469.5 566.33L470.5 566.5L471.5 566.68L472.5 566.87L473.5 567.06L474.5 567.25L475.5 567.43L476.5 567.62L477.5 567.79L478.5 567.95L479.5 568.09L480.5 568.22L481.5 568.32L482.5 568.39L483.5 568.44L484.5 568.45L485.5 568.42L486.5 568.35L487.5 568.25L488.5 568.12L489.5 567.97L490.5 567.81L491.5 567.65L492.5 567.51L493.5 567.38L494.5 567.29L495.5 567.23L496.5 567.23L497.5 567.26L498.5 567.34L499.5 567.46L500.5 567.6L501.5 567.76L502.5 567.94L503.5 568.13L504.5 568.33L505.5 568.52L506.5 568.71L507.5 568.89L508.5 569.05L509.5 569.19L510.5 569.31L511.5 569.43L512.5 569.53L513.5 569.61L514.5 569.69L515.5 569.75L516.5 569.81L517.5 569.86L518.5 569.91L519.5 569.95L520.5 569.98L521.5 570.01L522.5 570.04L522.6 570.05" fill="none" stroke="#0B68AE" stroke-width="1.9"/>
<g opacity="0.52"><path d="M263.15 513.6V597" stroke="#000" stroke-width="1.7"/><path d="M290.46 513.6V597" stroke="#000" stroke-width="1.7"/><path d="M317.77 513.6V597" stroke="#000" stroke-width="1.7"/><path d="M345.08 513.6V597" stroke="#000" stroke-width="1.7"/><path d="M372.39 513.6V597" stroke="#000" stroke-width="1.7"/><path d="M399.7 513.6V597" stroke="#000" stroke-width="1.7"/><path d="M427.01 513.6V597" stroke="#000" stroke-width="1.7"/><path d="M454.32 513.6V597" stroke="#000" stroke-width="1.7"/><path d="M481.63 513.6V597" stroke="#000" stroke-width="1.7"/><path d="M508.94 513.6V597" stroke="#000" stroke-width="1.7"/></g>
<path d="M249.5 515.8V597" stroke="#000" stroke-width="1.45" stroke-dasharray="4.2 3.1"/><path d="M276.81 515.8V597" stroke="#000" stroke-width="1.45" stroke-dasharray="4.2 3.1"/><path d="M304.12 515.8V597" stroke="#000" stroke-width="1.45" stroke-dasharray="4.2 3.1"/><path d="M331.43 515.8V597" stroke="#000" stroke-width="1.45" stroke-dasharray="4.2 3.1"/><path d="M358.74 515.8V597" stroke="#000" stroke-width="1.45" stroke-dasharray="4.2 3.1"/><path d="M386.05 515.8V597" stroke="#000" stroke-width="1.45" stroke-dasharray="4.2 3.1"/><path d="M413.36 515.8V597" stroke="#000" stroke-width="1.45" stroke-dasharray="4.2 3.1"/><path d="M440.67 515.8V597" stroke="#000" stroke-width="1.45" stroke-dasharray="4.2 3.1"/><path d="M467.98 515.8V597" stroke="#000" stroke-width="1.45" stroke-dasharray="4.2 3.1"/><path d="M495.29 515.8V597" stroke="#000" stroke-width="1.45" stroke-dasharray="4.2 3.1"/>
<path d="M244.4 513.6 V597 H522.6" fill="none" stroke="#505050" stroke-width="1.2"/><path d="M244.4 524h2.4" stroke="#505050" stroke-width="1.1"/><path d="M244.4 544.8h2.4" stroke="#505050" stroke-width="1.1"/><path d="M244.4 565.6h2.4" stroke="#505050" stroke-width="1.1"/><path d="M244.4 586.4h2.4" stroke="#505050" stroke-width="1.1"/><text x="238.8" y="528.8" font-size="13.6" fill="#000" text-anchor="end" >2.2</text><text x="238.8" y="549.6" font-size="13.6" fill="#000" text-anchor="end" >2.0</text><text x="238.8" y="570.4" font-size="13.6" fill="#000" text-anchor="end" >1.8</text><text x="238.8" y="591.2" font-size="13.6" fill="#000" text-anchor="end" >1.6</text>
<text x="234" y="494.8" font-size="13.7" fill="#000" >a.u.</text>
<text x="222.6" y="512.8" font-size="9" fill="#000">&#215;10<tspan dy="-3" font-size="6.3">3</tspan></text>
<text x="263.15" y="613.2" font-size="13.6" fill="#000" text-anchor="middle" >2</text>
<text x="290.46" y="613.2" font-size="13.6" fill="#000" text-anchor="middle" >4</text>
<text x="317.77" y="613.2" font-size="13.6" fill="#000" text-anchor="middle" >6</text>
<text x="345.08" y="613.2" font-size="13.6" fill="#000" text-anchor="middle" >8</text>
<text x="372.39" y="613.2" font-size="13.6" fill="#000" text-anchor="middle" >10</text>
<text x="399.7" y="613.2" font-size="13.6" fill="#000" text-anchor="middle" >12</text>
<text x="427.01" y="613.2" font-size="13.6" fill="#000" text-anchor="middle" >14</text>
<text x="454.32" y="613.2" font-size="13.6" fill="#000" text-anchor="middle" >16</text>
<text x="481.63" y="613.2" font-size="13.6" fill="#000" text-anchor="middle" >18</text>
<text x="508.94" y="613.2" font-size="13.6" fill="#000" text-anchor="middle" >20</text>
<text x="386.5" y="634" font-size="13.5" fill="#000" text-anchor="middle" >Time (s)</text>
</g>
<g id="panel-d">
<text x="542.2" y="206.6" font-size="18" fill="#000" font-weight="bold" >d</text>
<text x="592" y="205.6" font-size="13.6" fill="#000" text-anchor="middle" >Phase</text>
<text x="591.6" y="221.2" font-size="13.6" fill="#000" text-anchor="middle" >(0.5Hz)</text>
<path d="M591.7 294.5L595.08 252.52L592.03 252.4L588.99 252.48L585.96 252.76Z" fill="#A87400" fill-opacity="1"/>
<path d="M591.7 294.5L590.93 252.41" stroke="#6E4700" stroke-width="2.8" fill="none"/>
<path d="M591.7 294.5L589.01 336.52L591.7 336.6L594.39 336.52L597.06 336.29L599.72 335.9Z" fill="#FFC035" fill-opacity="1"/>
<path d="M590.5 294.5 L592.9 294.5 L593.9 314.5 Z" fill="#FF9800"/>
<path d="M591.7 294.5L594.54 336.51" stroke="#FF9800" stroke-width="2.1" stroke-dasharray="5 1.6" fill="none"/>
<ellipse cx="591.7" cy="294.5" rx="44.0" ry="42.1" fill="none" stroke="#222" stroke-width="0.9"/>
<text x="591.8" y="245.2" font-size="8.4" text-anchor="middle" fill="#000" letter-spacing="0" style="font-family:'DejaVu Sans',sans-serif">&#9733;&#9733;</text>
<path d="M591.7 424L589.4 381.96L587.1 382.13L584.82 382.42L582.55 382.82L580.31 383.33L578.1 383.96L575.93 384.7L573.8 385.54L571.72 386.49L569.7 387.54L567.74 388.69L565.84 389.94L564.01 391.28L562.26 392.71L560.59 394.23L559 395.83L557.51 397.51L556.1 399.25L554.8 401.07L553.59 402.95L552.5 404.89L551.5 406.88L550.62 408.91L549.85 410.99L549.2 413.1L548.66 415.25L548.24 417.41L547.94 419.6L547.76 421.8L547.7 424L547.76 426.2L547.94 428.4L548.24 430.59L548.66 432.75Z" fill="#C583FF" fill-opacity="1"/>
<path d="M591.7 424L556.33 398.96" stroke="#A040F0" stroke-width="2.0" stroke-dasharray="5.5 3" fill="none"/>
<path d="M591.7 424L621.43 455.04L623.15 453.45L624.77 451.77L626.3 450L627.73 448.17L629.05 446.25L630.26 444.28L631.36 442.24L632.33 440.15L633.19 438.01L633.93 435.83L634.54 433.62L635.02 431.37L635.37 429.11L635.6 426.83L635.7 424.54L635.66 422.25L635.5 419.96Z" fill="#8A00F0" fill-opacity="1"/>
<path d="M591.7 424L632.91 438.74" stroke="#4B0A82" stroke-width="2.5" fill="none"/>
<ellipse cx="591.7" cy="424.0" rx="44.0" ry="42.1" fill="none" stroke="#222" stroke-width="0.9"/>
<text x="591.8" y="375.8" font-size="8.4" text-anchor="middle" fill="#000" letter-spacing="0" style="font-family:'DejaVu Sans',sans-serif">&#9733;&#9733;</text>
<path d="M591.7 558.6L601.97 599.54L604.21 598.96L606.42 598.27L608.59 597.47L610.71 596.57L612.78 595.56L614.79 594.44L616.73 593.22L618.6 591.91L620.4 590.51L622.12 589.01L623.76 587.44L625.3 585.78L626.75 584.04L628.11 582.24L629.36 580.37L630.51 578.44L631.55 576.45L632.48 574.41L633.29 572.33L633.99 570.21L634.57 568.06L635.04 565.89L635.38 563.69L635.6 561.48L635.69 559.26L635.67 557.03L635.52 554.82L635.25 552.61L634.86 550.42L634.35 548.25L633.72 546.11L632.97 544.01L632.11 541.95L631.14 539.93L630.05 537.96L628.86 536.06L627.57 534.21L626.17 532.44L624.68 530.73L623.1 529.11L621.43 527.56L619.67 526.1L617.84 524.74L615.94 523.46L613.97 522.29L611.94 521.22L609.85 520.25L607.71 519.38L605.52 518.63L603.3 517.99L601.04 517.46L598.76 517.05L596.46 516.75L594.15 516.57L591.82 516.5L589.5 516.55L587.19 516.72L584.88 517.01L582.6 517.41L580.34 517.93L578.12 518.56L575.93 519.3L573.78 520.15L571.69 521.11L569.65 522.17L567.67 523.33L565.76 524.6L563.92 525.95L562.16 527.4L560.48 528.94L558.89 530.55L557.38 532.25L555.98 534.02L554.67 535.86Z" fill="#00B1D5" fill-opacity="1"/>
<path d="M591.7 558.6L624.4 530.43" stroke="#0B68AE" stroke-width="2.5" fill="none"/>
<path d="M591.7 558.6L555.22 582.14L556.61 584L558.1 585.78L559.69 587.48L561.37 589.1L563.14 590.63L564.99 592.06L566.93 593.39L568.93 594.63L571.01 595.75L573.14 596.77L575.33 597.68L577.57 598.47L579.84 599.14L582.16 599.7L584.5 600.13L586.86 600.44L589.24 600.63L591.62 600.7L594 600.64Z" fill="#7DFBFF" fill-opacity="1"/>
<path d="M591.7 558.6L569.43 594.91" stroke="#1290FF" stroke-width="2.6" stroke-dasharray="6.5 3" fill="none"/>
<ellipse cx="591.7" cy="558.6" rx="44.0" ry="42.1" fill="none" stroke="#222" stroke-width="0.9"/>
<text x="591.8" y="512.2" font-size="8.4" text-anchor="middle" fill="#000" letter-spacing="0" style="font-family:'DejaVu Sans',sans-serif">&#9733;&#9733;</text>
</g>
<g id="legend">
<rect x="17.6" y="648.6" width="607.4" height="34.4" fill="none" stroke="#3a3a3a" stroke-width="1.4" stroke-dasharray="2.9 1.8"/>
<g><ellipse cx="44.98" cy="666.6" rx="3.12" ry="8.17" fill="#979797" stroke="#1c1c1c" stroke-width="1.8"/><ellipse cx="49.66" cy="666.6" rx="3.12" ry="8.17" fill="#979797" stroke="#1c1c1c" stroke-width="1.8"/><ellipse cx="54.35" cy="666.6" rx="3.12" ry="8.17" fill="#979797" stroke="#1c1c1c" stroke-width="1.8"/><ellipse cx="59.04" cy="666.6" rx="3.12" ry="8.17" fill="#979797" stroke="#1c1c1c" stroke-width="1.8"/><ellipse cx="64.32" cy="666.6" rx="2.63" ry="7.89" fill="#6a6a6a" stroke="#1c1c1c" stroke-width="1.8"/><ellipse cx="81.21" cy="666.6" rx="2.63" ry="7.89" fill="#6a6a6a" stroke="#1c1c1c" stroke-width="1.8"/><ellipse cx="86.34" cy="666.6" rx="3.12" ry="8.17" fill="#979797" stroke="#1c1c1c" stroke-width="1.8"/><ellipse cx="91.1" cy="666.6" rx="3.12" ry="8.17" fill="#979797" stroke="#1c1c1c" stroke-width="1.8"/><ellipse cx="95.79" cy="666.6" rx="3.12" ry="8.17" fill="#979797" stroke="#1c1c1c" stroke-width="1.8"/><ellipse cx="100.48" cy="666.6" rx="3.12" ry="8.17" fill="#979797" stroke="#1c1c1c" stroke-width="1.8"/><ellipse cx="102.42" cy="666.6" rx="3.12" ry="8.17" fill="#979797" stroke="#1c1c1c" stroke-width="1.8"/><ellipse cx="109.62" cy="666.6" rx="5.68" ry="8.72" fill="#979797" stroke="#1c1c1c" stroke-width="1.8"/><path d="M73.02 657.74 L78.42 674.08 L67.62 674.08 Z" fill="url(#ygrad)" stroke="#FF9C1A" stroke-width="2.08" stroke-linejoin="round"/></g>
<g><ellipse cx="381.4" cy="666.8" rx="3.12" ry="8.17" fill="#979797" stroke="#1c1c1c" stroke-width="1.8"/><ellipse cx="386.12" cy="666.8" rx="3.12" ry="8.17" fill="#979797" stroke="#1c1c1c" stroke-width="1.8"/><ellipse cx="390.85" cy="666.8" rx="3.12" ry="8.17" fill="#979797" stroke="#1c1c1c" stroke-width="1.8"/><ellipse cx="395.57" cy="666.8" rx="3.12" ry="8.17" fill="#979797" stroke="#1c1c1c" stroke-width="1.8"/><ellipse cx="400.9" cy="666.8" rx="2.63" ry="7.89" fill="#6a6a6a" stroke="#1c1c1c" stroke-width="1.8"/><ellipse cx="406.3" cy="666.8" rx="2.35" ry="7.89" fill="#6a6a6a" stroke="#1c1c1c" stroke-width="1.8"/><ellipse cx="412.52" cy="666.8" rx="2.35" ry="7.89" fill="#6a6a6a" stroke="#1c1c1c" stroke-width="1.8"/><ellipse cx="409.38" cy="666.8" rx="1.8" ry="7.89" fill="#8a8a8a" stroke="#1c1c1c" stroke-width="1.8"/><ellipse cx="417.92" cy="666.8" rx="2.63" ry="7.89" fill="#6a6a6a" stroke="#1c1c1c" stroke-width="1.8"/><ellipse cx="423.1" cy="666.8" rx="3.12" ry="8.17" fill="#979797" stroke="#1c1c1c" stroke-width="1.8"/><ellipse cx="427.9" cy="666.8" rx="3.12" ry="8.17" fill="#979797" stroke="#1c1c1c" stroke-width="1.8"/><ellipse cx="432.62" cy="666.8" rx="3.12" ry="8.17" fill="#979797" stroke="#1c1c1c" stroke-width="1.8"/><ellipse cx="437.35" cy="666.8" rx="3.12" ry="8.17" fill="#979797" stroke="#1c1c1c" stroke-width="1.8"/><ellipse cx="439.42" cy="666.8" rx="3.12" ry="8.17" fill="#979797" stroke="#1c1c1c" stroke-width="1.8"/><ellipse cx="446.62" cy="666.8" rx="5.82" ry="8.45" fill="#FFE83D" stroke="#FF9C1A" stroke-width="2.22"/></g>
<rect x="129" y="658.2" width="40.6" height="16" fill="#FFC640"/><path d="M130.6 666.2h37" stroke="#FF9A00" stroke-width="2.7" stroke-dasharray="9.5 4.2"/>
<rect x="180.2" y="658.2" width="40.6" height="16" fill="#BE7CFF"/><path d="M181.79999999999998 666.2h37" stroke="#9020F0" stroke-width="2.7" stroke-dasharray="9.5 4.2"/>
<rect x="232.2" y="658.2" width="40.6" height="16" fill="#7DF6FF"/><path d="M233.79999999999998 666.2h37" stroke="#1E9BFF" stroke-width="2.7" stroke-dasharray="9.5 4.2"/>
<rect x="464" y="658.2" width="40.6" height="16" fill="#A87400"/><path d="M465.5 666.2h37.6" stroke="#6E4700" stroke-width="2.7"/>
<rect x="516" y="658.2" width="40.6" height="16" fill="#8A00F0"/><path d="M517.5 666.2h37.6" stroke="#4B0A82" stroke-width="2.7"/>
<rect x="568" y="658.2" width="40.6" height="16" fill="#00AFD3"/><path d="M569.5 666.2h37.6" stroke="#0B68AE" stroke-width="2.7"/>
</g>
</svg>
</body></html>
